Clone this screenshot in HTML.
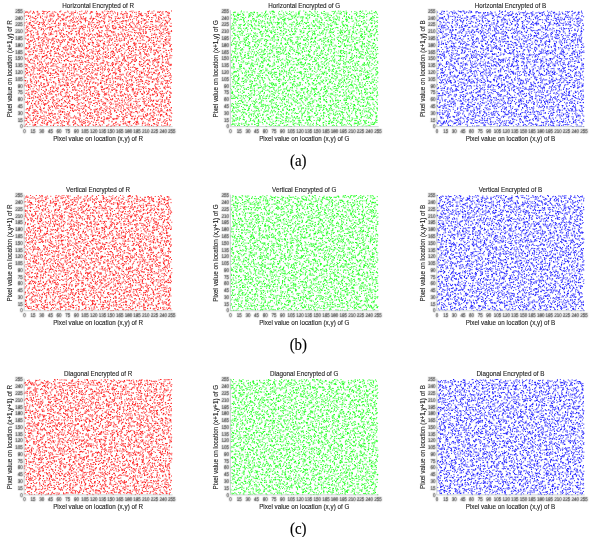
<!DOCTYPE html><html><head><meta charset="utf-8"><title>Encrypted image correlation scatter plots</title><style>html,body{margin:0;padding:0;background:#fff;width:602px;height:537px;overflow:hidden}svg{display:block}text{font-family:"Liberation Sans",Arial,Helvetica,sans-serif}</style></head><body><svg width="602" height="537" viewBox="0 0 602 537"><defs><path id="d0" d="M198 300h0M604 21h0M872 570h0M947 286h0M272 570h0M559 364h0M137 608h0M65 683h0M172 113h0M362 223h0M553 596h0M732 323h0M783 815h0M84 1h0M14 855h0M105 898h0M864 499h0M619 846h0M211 779h0M635 236h0M671 936h0M460 579h0M361 884h0M963 812h0M629 431h0M411 399h0M412 764h0M397 733h0M135 25h0M255 33h0M176 584h0M106 506h0M907 637h0M253 156h0M571 471h0M405 922h0M986 610h0M99 848h0M653 41h0M847 497h0M150 940h0M690 855h0M430 607h0M756 623h0M355 287h0M457 590h0M246 712h0M489 580h0M603 393h0M785 300h0M509 781h0M624 585h0M296 372h0M973 232h0M122 116h0M643 362h0M742 382h0M425 648h0M854 245h0M798 748h0M356 315h0M127 602h0M41 397h0M683 24h0M891 792h0M219 31h0M209 575h0M786 974h0M116 321h0M540 958h0M145 52h0M97 489h0M796 790h0M622 298h0M515 10h0M266 891h0M535 722h0M887 660h0M563 74h0M392 678h0M992 865h0M418 135h0M383 355h0M150 244h0M914 292h0M43 646h0M960 547h0M905 682h0M564 234h0M900 742h0M769 171h0M989 15h0M262 746h0M720 467h0M887 345h0M175 807h0M821 836h0M466 773h0M901 192h0M584 83h0M911 557h0M2 960h0M940 919h0M690 325h0M618 686h0M46 738h0M809 471h0M346 986h0M148 20h0M894 416h0M616 949h0M212 310h0M912 698h0M723 231h0M966 339h0M820 625h0M526 460h0M448 111h0M892 196h0M15 680h0M668 780h0M161 149h0M489 149h0M583 829h0M590 487h0M734 363h0M829 972h0M768 212h0M23 244h0M253 786h0M876 329h0M619 597h0M789 388h0M943 271h0M644 180h0M59 251h0M915 118h0M903 426h0M316 868h0M85 903h0M825 962h0M880 25h0M836 471h0M93 794h0M711 783h0M284 43h0M617 387h0M195 484h0M525 828h0M123 752h0M715 856h0M61 772h0M328 867h0M747 285h0M630 640h0M371 851h0M383 43h0M782 429h0M116 839h0M533 441h0M682 561h0M452 147h0M881 692h0M515 855h0M994 892h0M882 620h0M227 219h0M966 911h0M291 163h0M400 767h0M817 195h0M640 653h0M540 953h0M551 595h0M984 694h0M905 364h0M499 971h0M373 781h0M814 642h0M450 760h0M888 573h0M247 408h0M310 746h0M625 707h0M422 982h0M68 116h0M291 168h0M743 728h0M465 15h0M258 2h0M220 200h0M870 135h0M936 592h0M723 867h0M469 597h0M367 59h0M524 948h0M23 310h0M217 670h0M554 779h0M75 287h0M844 296h0M249 725h0M337 83h0M484 864h0M641 366h0M854 856h0M83 172h0M960 715h0M891 513h0M690 314h0M77 250h0M498 714h0M308 484h0M86 672h0M850 322h0M236 566h0M799 468h0M984 393h0M942 124h0M7 628h0M315 374h0M233 435h0M428 231h0M723 201h0M110 944h0M447 456h0M359 210h0M755 497h0M814 924h0M175 645h0M155 378h0M726 630h0M388 864h0M189 423h0M368 74h0M526 46h0M20 395h0M984 636h0M408 620h0M634 90h0M159 649h0M952 886h0M0 975h0M487 148h0M387 933h0M972 587h0M433 568h0M232 692h0M628 312h0M233 951h0M917 587h0M45 790h0M59 13h0M926 438h0M170 908h0M76 656h0M629 738h0M119 8h0M719 449h0M988 210h0M731 761h0M671 22h0M240 73h0M172 835h0M416 145h0M321 751h0M538 717h0M816 126h0M395 607h0M551 131h0M952 334h0M243 713h0M193 441h0M979 958h0M982 932h0M500 916h0M41 955h0M628 650h0M359 595h0M505 713h0M839 547h0M671 343h0M344 242h0M373 430h0M327 321h0M379 965h0M719 360h0M294 380h0M997 163h0M553 282h0M504 32h0M701 472h0M27 756h0M949 480h0M789 69h0M328 191h0M594 45h0M146 725h0M799 278h0M55 747h0M290 315h0M606 70h0M796 932h0M741 837h0M22 360h0M605 549h0M927 714h0M260 123h0M870 864h0M749 269h0M712 625h0M99 630h0M469 346h0M348 311h0M88 251h0M601 463h0M252 572h0M836 776h0M551 279h0M31 271h0M379 94h0M84 221h0M532 44h0M779 125h0M312 956h0M317 922h0M761 886h0M423 522h0M185 963h0M564 978h0M46 493h0M344 870h0M639 785h0M24 565h0M57 225h0M171 632h0M388 619h0M33 274h0M241 994h0M266 958h0M31 641h0M521 787h0M794 935h0M576 727h0M592 999h0M360 248h0M555 64h0M600 12h0M310 562h0M226 318h0M960 393h0M280 656h0M212 644h0M101 696h0M581 981h0M565 122h0M516 495h0M708 150h0M732 907h0M756 221h0M432 434h0M872 223h0M383 896h0M508 962h0M377 435h0M957 607h0M118 647h0M121 338h0M854 267h0M746 534h0M465 468h0M136 189h0M516 380h0M586 638h0M965 759h0M395 866h0M106 536h0M769 293h0M847 505h0M669 447h0M534 681h0M661 746h0M54 908h0M354 851h0M777 978h0M904 760h0M534 574h0M219 736h0M960 749h0M914 923h0M477 482h0M634 149h0M560 800h0M930 12h0M205 992h0M95 275h0M48 582h0M871 979h0M11 995h0M703 683h0M969 302h0M22 274h0M229 877h0M414 189h0M350 226h0M540 183h0M523 231h0M458 745h0M722 956h0M95 55h0M178 613h0M729 371h0M509 200h0M887 767h0M324 187h0M382 909h0M180 794h0M126 868h0M793 692h0M646 495h0M154 766h0M268 444h0M68 755h0M767 76h0M645 668h0M583 526h0M981 72h0M860 429h0M877 228h0M153 10h0M908 923h0M603 672h0M740 575h0M406 315h0M257 454h0M289 100h0M902 759h0M177 111h0M460 510h0M295 290h0M644 13h0M694 832h0M928 960h0M244 915h0M254 41h0M303 863h0M152 614h0M27 952h0M43 998h0M628 706h0M416 52h0M123 50h0M466 926h0M405 323h0M646 227h0M668 910h0M618 175h0M109 688h0M424 373h0M588 360h0M414 133h0M994 539h0M806 136h0M31 610h0M648 532h0M549 872h0M811 79h0M112 377h0M914 176h0M646 451h0M683 913h0M701 586h0M906 443h0M422 173h0M87 598h0M194 908h0M379 628h0M266 874h0M852 47h0M665 576h0M284 72h0M420 613h0M416 500h0M975 215h0M443 93h0M322 805h0M407 745h0M835 858h0M258 924h0M445 192h0M261 153h0M40 55h0M183 112h0M40 437h0M603 792h0M108 426h0M946 177h0M528 552h0M765 71h0M229 937h0M906 530h0M522 69h0M741 280h0M718 875h0M957 992h0M672 265h0M611 768h0M877 62h0M48 246h0M924 98h0M740 321h0M288 941h0M801 372h0M667 622h0M727 393h0M680 767h0M547 186h0M857 859h0M42 159h0M793 980h0M97 216h0M701 205h0M210 464h0M506 822h0M273 983h0M425 414h0M422 500h0M373 828h0M685 252h0M712 656h0M421 456h0M814 296h0M563 337h0M283 274h0M924 819h0M441 834h0M571 994h0M522 684h0M415 283h0M854 821h0M369 187h0M785 969h0M473 879h0M678 747h0M880 530h0M153 947h0M854 218h0M681 576h0M328 899h0M643 648h0M694 11h0M15 625h0M310 627h0M856 676h0M282 697h0M865 909h0M981 232h0M497 488h0M819 683h0M94 973h0M0 0h0M191 578h0M940 501h0M179 8h0M490 874h0M704 532h0M339 520h0M507 976h0M419 599h0M362 614h0M266 516h0M593 602h0M294 467h0M467 225h0M13 682h0M493 691h0M758 760h0M817 558h0M314 75h0M5 764h0M730 362h0M899 574h0M466 862h0M330 439h0M985 714h0M377 909h0M513 968h0M952 230h0M737 299h0M650 404h0M76 259h0M212 864h0M628 497h0M585 297h0M182 861h0M533 981h0M261 608h0M739 611h0M232 741h0M135 66h0M830 184h0M897 332h0M262 935h0M218 264h0M15 719h0M100 324h0M513 906h0M228 700h0M339 235h0M776 324h0M891 875h0M812 864h0M552 956h0M11 19h0M781 447h0M768 739h0M961 295h0M749 562h0M335 613h0M330 978h0M453 85h0M787 181h0M819 217h0M925 211h0M914 809h0M494 529h0M775 348h0M497 901h0M871 276h0M452 264h0M178 858h0M542 719h0M940 676h0M142 277h0M122 997h0M369 804h0M989 691h0M846 568h0M12 313h0M181 32h0M623 548h0M34 896h0M661 891h0M620 545h0M444 666h0M616 497h0M746 813h0M804 836h0M8 583h0M980 797h0M697 964h0M207 491h0M920 682h0M616 257h0M234 284h0M262 851h0M358 273h0M728 119h0M23 673h0M33 728h0M946 944h0M37 555h0M526 497h0M829 377h0M778 542h0M295 622h0M131 887h0M760 128h0M641 748h0M243 621h0M560 410h0M518 548h0M571 955h0M590 108h0M868 280h0M360 603h0M622 217h0M909 456h0M358 446h0M667 872h0M474 771h0M269 39h0M567 66h0M733 175h0M414 36h0M105 416h0M933 607h0M705 799h0M647 202h0M876 172h0M807 87h0M440 785h0M141 288h0M642 884h0M330 135h0M701 522h0M66 546h0M993 663h0M299 356h0M574 949h0M851 323h0M137 483h0M448 796h0M884 576h0M195 763h0M519 400h0M840 179h0M700 306h0M933 975h0M908 101h0M821 663h0M992 406h0M389 569h0M106 486h0M395 721h0M579 450h0M12 51h0M920 967h0M572 222h0M273 794h0M104 483h0M948 339h0M2 594h0M663 239h0M440 710h0M229 27h0M71 735h0M533 470h0M107 536h0M370 815h0M400 130h0M350 901h0M996 56h0M550 513h0M363 351h0M957 578h0M644 933h0M85 655h0M140 777h0M970 31h0M248 105h0M874 273h0M103 77h0M214 153h0M941 972h0M310 168h0M829 614h0M535 635h0M116 850h0M560 551h0M283 669h0M474 532h0M655 742h0M696 228h0M935 304h0M840 154h0M8 447h0M50 483h0M848 390h0M196 950h0M503 507h0M978 483h0M186 340h0M240 811h0M851 664h0M384 772h0M932 272h0M881 724h0M206 763h0M494 245h0M586 921h0M330 649h0M280 538h0M167 383h0M553 830h0M36 692h0M228 338h0M150 795h0M8 397h0M654 816h0M31 555h0M238 664h0M377 551h0M309 977h0M904 8h0M799 133h0M215 277h0M135 738h0M309 219h0M905 219h0M89 87h0M907 35h0M300 102h0M332 364h0M192 764h0M446 896h0M129 605h0M111 136h0M835 503h0M741 534h0M347 492h0M30 957h0M52 517h0M610 991h0M675 69h0M533 444h0M276 870h0M673 971h0M430 7h0M831 649h0M410 26h0M90 996h0M826 857h0M403 203h0M828 572h0M867 389h0M188 684h0M832 196h0M956 916h0M602 873h0M293 721h0M823 628h0M333 12h0M406 430h0M692 77h0M612 817h0M399 596h0M302 726h0M713 768h0M890 972h0M55 222h0M278 216h0M544 498h0M126 802h0M940 713h0M177 660h0M445 933h0M836 578h0M984 299h0M852 274h0M635 882h0M544 803h0M512 658h0M2 423h0M391 247h0M684 573h0M624 66h0M414 915h0M430 608h0M747 481h0M516 373h0M265 800h0M860 224h0M151 539h0M872 845h0M282 384h0M564 796h0M93 576h0M939 796h0M878 463h0M251 828h0M552 168h0M422 79h0M428 69h0M539 86h0M759 397h0M453 946h0M799 12h0M103 352h0M501 101h0M755 829h0M195 343h0M340 325h0M713 884h0M736 749h0M607 271h0M515 737h0M919 429h0M382 481h0M557 433h0M215 876h0M510 278h0M713 949h0M32 152h0M691 904h0M798 251h0M800 696h0M177 441h0M116 355h0M705 38h0M509 81h0M706 510h0M211 632h0M280 851h0M416 983h0M32 685h0M234 411h0M510 698h0M293 773h0M755 239h0M736 998h0M558 275h0M771 384h0M880 177h0M67 563h0M287 109h0M313 139h0M149 708h0M35 622h0M901 282h0M718 691h0M208 342h0M316 911h0M539 47h0M236 123h0M571 305h0M194 200h0M834 440h0M867 835h0M498 298h0M672 585h0M479 854h0M774 404h0M755 711h0M154 956h0M138 299h0M298 2h0M491 897h0M987 251h0M40 740h0M723 358h0M111 365h0M892 364h0M791 971h0M84 761h0M592 230h0M806 490h0M450 143h0M76 952h0M696 79h0M639 521h0M947 54h0M496 953h0M669 703h0M698 123h0M163 460h0M805 860h0M939 992h0M758 971h0M542 62h0M598 853h0M772 315h0M865 451h0M195 488h0M960 398h0M677 593h0M397 551h0M595 427h0M921 879h0M848 687h0M32 470h0M914 609h0M852 253h0M315 560h0M90 46h0M95 698h0M58 654h0M76 589h0M703 613h0M884 307h0M71 502h0M90 318h0M323 388h0M308 90h0M123 698h0M499 750h0M191 110h0M359 149h0M841 627h0M899 559h0M283 374h0M583 459h0M425 374h0M146 995h0M269 149h0M996 289h0M546 246h0M343 770h0M626 770h0M449 301h0M134 765h0M492 376h0M913 189h0M795 65h0M29 35h0M929 281h0M811 196h0M33 243h0M561 597h0M273 105h0M627 194h0M544 733h0M2 952h0M937 524h0M348 83h0M139 120h0M326 141h0M11 121h0M252 199h0M177 336h0M549 198h0M813 164h0M384 469h0M601 821h0M714 22h0M966 730h0M190 172h0M690 885h0M667 320h0M597 486h0M436 757h0M406 241h0M846 617h0M362 166h0M884 807h0M752 593h0M306 948h0M830 624h0M337 948h0M539 320h0M654 418h0M299 508h0M967 51h0M361 527h0M713 44h0M911 582h0M179 521h0M560 835h0M158 517h0M337 52h0M80 97h0M635 592h0M930 218h0M228 825h0M223 459h0M110 940h0M906 131h0M747 705h0M808 594h0M121 473h0M845 13h0M464 631h0M626 752h0M407 932h0M384 175h0M426 409h0M943 264h0M179 402h0M777 160h0M764 277h0M613 221h0M584 188h0M676 748h0M840 479h0M719 963h0M403 880h0M985 251h0M732 153h0M624 676h0M205 563h0M384 942h0M560 767h0M671 135h0M300 46h0M781 690h0M405 115h0M819 565h0M3 898h0M904 378h0M964 624h0M49 305h0M151 590h0M91 818h0M157 692h0M177 321h0M244 948h0M555 404h0M206 424h0M852 558h0M257 301h0M149 484h0M918 903h0M460 552h0M813 590h0M710 137h0M165 115h0M288 66h0M333 130h0M271 43h0M956 720h0M707 2h0M405 816h0M414 225h0M894 301h0M642 205h0M827 91h0M528 417h0M696 97h0M46 827h0M23 197h0M954 850h0M741 193h0M758 213h0M262 497h0M191 846h0M870 559h0M59 95h0M572 413h0M68 982h0M228 931h0M285 821h0M720 968h0M834 661h0M300 622h0M521 375h0M224 302h0M613 916h0M749 951h0M645 104h0M362 686h0M438 887h0M496 644h0M128 285h0M453 643h0M496 801h0M971 13h0M791 404h0M593 39h0M64 593h0M369 515h0M775 434h0M625 123h0M317 538h0M757 664h0M326 366h0M615 137h0M977 804h0M627 292h0M358 74h0M336 602h0M636 839h0M258 2h0M684 206h0M452 801h0M90 545h0M62 639h0M813 662h0M546 329h0M555 333h0M448 276h0M586 233h0M592 961h0M777 661h0M429 695h0M221 432h0M229 451h0M926 196h0M948 598h0M230 631h0M721 98h0M166 308h0M128 424h0M714 886h0M23 85h0M814 446h0M81 377h0M134 198h0M659 656h0M871 216h0M895 655h0M133 909h0M373 572h0M749 721h0M11 782h0M689 247h0M97 723h0M25 112h0M960 556h0M560 816h0M406 39h0M96 765h0M800 29h0M650 863h0M199 379h0M16 289h0M50 673h0M812 221h0M381 413h0M890 369h0M806 233h0M457 342h0M44 406h0M486 545h0M684 570h0M135 829h0M619 363h0M857 117h0M682 279h0M523 321h0M653 290h0M342 343h0M19 575h0M130 507h0M950 28h0M668 914h0M113 237h0M792 141h0M138 575h0M842 925h0M831 428h0M951 489h0M709 367h0M876 728h0M82 326h0M67 343h0M827 730h0M192 253h0M265 325h0M542 890h0M30 136h0M812 296h0M619 417h0M559 851h0M669 912h0M987 779h0M86 795h0M519 103h0M808 544h0M880 635h0M166 99h0M180 455h0M676 30h0M846 323h0M666 966h0M749 1h0M48 387h0M470 899h0M399 636h0M487 608h0M21 486h0M450 424h0M667 339h0M165 697h0M937 213h0M544 968h0M904 542h0M425 625h0M335 48h0M675 583h0M765 945h0M382 505h0M466 382h0M940 556h0M72 934h0M328 136h0M93 802h0M686 109h0M664 970h0M16 56h0M531 607h0M787 807h0M109 953h0M407 246h0M956 846h0M636 797h0M289 656h0M761 199h0M650 356h0M606 703h0M808 306h0M403 296h0M232 398h0M791 853h0M91 94h0M667 841h0M444 206h0M284 539h0M765 483h0M982 980h0M62 95h0M493 484h0M149 320h0M132 745h0M761 355h0M4 539h0M1 876h0M584 210h0M360 353h0M144 225h0M301 850h0M802 147h0M947 646h0M56 33h0M860 229h0M768 503h0M119 69h0M934 877h0M839 737h0M851 232h0M455 533h0M169 588h0M507 742h0M221 180h0M724 786h0M658 801h0M166 757h0M352 403h0M824 922h0M876 59h0M863 470h0M543 300h0M509 670h0M791 805h0M69 11h0M62 711h0M670 776h0M972 94h0M573 115h0M345 872h0M143 501h0M524 914h0M242 837h0M597 604h0M505 263h0M780 562h0M234 851h0M784 627h0M617 982h0M974 724h0M840 287h0M644 763h0M361 732h0M509 811h0M180 856h0M440 905h0M598 356h0M696 812h0M359 14h0M981 136h0M657 979h0M659 554h0M967 625h0M549 792h0M557 1h0M897 713h0M191 207h0M963 994h0M171 860h0M280 615h0M642 857h0M524 122h0M223 726h0M704 788h0M848 759h0M300 248h0M571 779h0M279 263h0M343 634h0M972 846h0M220 59h0M105 176h0M673 864h0M272 8h0M193 990h0M76 952h0M123 29h0M485 423h0M426 100h0M739 717h0M78 430h0M306 543h0M261 621h0M863 10h0M652 852h0M829 254h0M783 719h0M461 726h0M664 271h0M889 161h0M681 86h0M690 983h0M162 677h0M589 81h0M518 47h0M612 575h0M630 362h0M329 939h0M479 175h0M116 558h0M129 209h0M130 818h0M194 752h0M20 0h0M283 439h0M982 915h0M575 941h0M441 176h0M148 672h0M809 526h0M64 874h0M927 626h0M834 287h0M468 517h0M560 74h0M180 454h0M574 786h0M878 999h0M21 748h0M79 811h0M91 764h0M556 239h0M612 131h0M708 109h0M286 497h0M952 123h0M179 60h0M742 120h0M273 777h0M929 804h0M935 557h0M81 611h0M92 256h0M21 838h0M455 866h0M209 162h0M850 524h0M111 436h0M762 15h0M333 455h0M346 0h0M32 704h0M591 744h0M250 269h0M669 103h0M117 33h0M272 70h0M126 496h0M56 625h0M530 488h0M376 303h0M445 976h0M907 24h0M289 422h0M171 293h0M489 807h0M806 930h0M106 650h0M781 785h0M563 549h0M573 73h0M62 995h0M102 455h0M117 745h0M306 810h0M217 780h0M583 588h0M26 514h0M489 924h0M926 786h0M848 177h0M102 59h0M899 217h0M592 812h0M843 179h0M435 780h0M145 192h0M723 122h0M247 103h0M623 38h0M614 465h0M193 458h0M229 970h0M292 360h0M596 870h0M461 917h0M483 377h0M500 617h0M762 36h0M678 229h0M48 202h0M672 159h0M954 919h0M218 919h0M27 281h0M900 12h0M551 203h0M313 823h0M110 225h0M891 457h0M12 145h0M903 837h0M934 234h0M947 7h0M463 261h0M985 806h0M836 606h0M380 692h0M413 513h0M795 905h0M65 505h0M376 153h0M887 967h0M660 119h0M228 957h0M309 895h0M570 640h0M359 934h0M20 462h0M577 252h0M728 399h0M835 369h0M842 363h0M550 640h0M651 490h0M406 771h0M571 349h0M596 438h0M598 723h0M997 828h0M562 679h0M63 789h0M24 751h0M737 89h0M624 343h0M79 702h0M264 680h0M963 605h0M465 482h0M273 256h0M808 327h0M293 322h0M201 70h0M657 298h0M297 112h0M154 846h0M308 11h0M587 780h0M541 389h0M847 17h0M283 209h0M328 915h0M121 601h0M825 875h0M608 26h0M579 91h0M524 350h0M907 904h0M246 282h0M335 317h0M32 652h0M709 821h0M765 501h0M734 242h0M417 555h0M108 256h0M105 666h0M873 321h0M841 958h0M508 911h0M446 344h0M842 243h0M427 96h0M882 303h0M11 490h0M257 651h0M630 67h0M648 475h0M967 900h0M819 716h0M241 991h0M402 155h0M826 92h0M187 931h0M126 720h0M502 876h0M72 892h0M984 592h0M695 943h0M21 39h0M61 66h0M267 205h0M491 309h0M294 419h0M45 350h0M82 375h0M375 271h0M146 323h0M389 868h0M785 772h0M477 342h0M310 535h0M423 674h0M571 526h0M89 543h0M638 937h0M693 916h0M970 146h0M382 587h0M454 955h0M820 691h0M754 261h0M427 827h0M704 337h0M171 995h0M232 627h0M261 324h0M253 830h0M794 962h0M287 637h0M716 106h0M703 260h0M879 526h0M636 505h0M247 133h0M604 538h0M819 920h0M184 741h0M61 122h0M738 652h0M255 193h0M959 6h0M329 159h0M21 818h0M700 795h0M583 702h0M747 33h0M877 867h0M30 292h0M139 510h0M755 215h0M479 691h0M775 959h0M800 676h0M678 762h0M934 609h0M652 940h0M285 796h0M398 355h0M985 273h0M493 980h0M670 57h0M788 964h0M384 643h0M170 441h0M782 644h0M751 639h0M614 848h0M185 556h0M221 161h0M918 805h0M566 868h0M269 129h0M175 166h0M572 588h0M179 47h0M175 548h0M978 782h0M346 396h0M320 487h0M674 672h0M964 113h0M181 36h0M625 71h0M348 576h0M206 225h0M17 537h0M5 71h0M235 394h0M504 656h0M391 18h0M913 653h0M71 72h0M411 856h0M737 331h0M762 855h0M686 496h0M443 311h0M339 537h0M861 671h0M165 808h0M819 30h0M585 105h0M839 449h0M898 167h0M437 216h0M804 823h0M497 356h0M491 969h0M731 84h0M674 955h0M617 387h0M506 260h0M929 187h0M383 395h0M796 957h0M824 854h0M936 527h0M155 516h0M404 90h0M873 122h0M983 4h0M307 116h0M588 942h0M967 619h0M915 464h0M863 925h0M622 786h0M918 774h0M414 394h0M464 929h0M166 51h0M994 161h0M944 525h0M324 418h0M961 658h0M339 908h0M906 486h0M413 454h0M22 860h0M455 662h0M612 283h0M329 990h0M762 775h0M701 39h0M521 523h0M303 497h0M572 702h0M3 53h0M577 495h0M298 404h0M970 199h0M400 236h0M304 753h0M77 397h0M751 167h0M232 451h0M520 743h0M202 819h0M488 419h0M555 289h0M162 223h0M479 628h0M648 904h0M707 495h0M991 256h0M441 852h0M494 773h0M496 853h0M885 68h0M193 745h0M469 199h0M772 660h0M581 415h0M732 984h0M812 339h0M445 26h0M423 312h0M744 703h0M927 758h0M826 184h0M96 753h0M930 103h0M841 537h0M160 373h0M0 267h0M45 668h0M838 994h0M653 343h0M637 355h0M294 571h0M966 70h0M597 653h0M956 182h0M491 540h0M762 327h0M62 641h0M182 285h0M42 579h0M808 501h0M583 995h0M870 941h0M57 453h0M634 373h0M60 940h0M742 893h0M482 4h0M929 172h0M830 776h0M927 274h0M847 999h0M237 391h0M299 567h0M911 392h0M935 900h0M761 920h0M954 28h0M509 14h0M154 600h0M42 774h0M552 648h0M334 189h0M615 480h0M347 999h0M962 48h0M636 353h0M226 515h0M667 274h0M59 874h0M845 2h0M373 824h0M68 141h0M148 257h0M327 832h0M14 69h0M613 628h0M393 772h0M883 580h0M376 609h0M568 442h0M91 499h0M394 7h0M838 427h0M686 832h0M767 125h0M25 795h0M791 478h0M995 709h0M386 900h0M978 944h0M775 85h0M321 506h0M334 539h0M465 588h0M613 273h0M796 59h0M160 721h0M707 496h0M90 127h0M330 462h0M933 143h0M884 564h0M628 186h0M434 112h0M113 835h0M877 107h0M663 208h0M707 533h0M705 721h0M395 669h0M802 389h0M970 890h0M391 607h0M907 315h0M627 949h0M577 860h0M270 314h0M918 185h0M161 357h0M672 176h0M598 233h0M185 124h0M157 21h0M25 784h0M906 52h0M266 537h0M404 60h0M115 897h0M335 508h0M10 620h0M103 974h0M275 219h0M626 93h0M945 443h0M632 964h0M486 332h0M73 15h0M622 858h0M402 44h0M755 667h0M406 340h0M596 312h0M313 405h0M196 914h0M122 932h0M181 613h0M321 748h0M252 233h0M234 828h0M875 769h0M960 435h0M320 824h0M432 535h0M706 691h0M633 270h0M754 687h0M225 34h0M389 54h0M129 840h0M140 872h0M842 675h0M898 1h0M461 114h0M803 783h0M935 371h0M48 875h0M424 530h0M722 899h0M200 964h0M755 696h0M489 17h0M509 790h0M323 190h0M542 443h0M121 794h0M161 747h0M477 251h0M705 149h0M728 563h0M688 25h0M434 881h0M119 667h0M678 806h0M299 729h0M513 540h0M430 114h0M21 155h0M769 485h0M747 510h0M662 800h0M566 834h0M852 470h0M720 512h0M953 802h0M200 524h0M614 868h0M208 205h0M51 282h0M658 907h0M609 614h0M39 894h0M387 678h0M706 675h0M187 521h0M595 757h0M101 608h0M634 22h0M346 576h0M587 749h0M83 385h0M850 859h0M439 552h0M148 270h0M757 617h0M985 56h0M867 81h0M626 176h0M210 827h0M804 771h0M855 142h0M260 478h0M365 827h0M791 321h0M197 187h0M757 719h0M953 431h0M172 881h0M896 939h0M36 157h0M499 530h0M859 92h0M754 299h0M174 972h0M409 344h0M686 249h0M518 622h0M909 948h0M438 165h0M161 743h0M746 468h0M340 92h0M375 840h0M613 322h0M209 376h0M128 892h0M797 460h0M844 310h0M999 113h0M242 696h0M427 294h0M971 839h0M493 800h0M739 673h0M720 108h0M679 696h0M504 118h0M30 342h0M599 869h0M900 389h0M77 188h0M138 347h0M620 537h0M364 256h0M94 114h0M893 335h0M355 453h0M174 279h0M485 665h0M133 564h0M173 752h0M657 855h0M528 14h0M546 792h0M414 923h0M393 537h0M623 121h0M269 172h0M742 851h0M985 419h0M389 417h0M933 812h0M596 992h0M665 618h0M835 143h0M159 855h0M179 422h0M819 8h0M871 387h0M700 398h0M431 721h0M65 305h0M568 846h0M601 370h0M25 650h0M967 164h0M959 107h0M155 461h0M892 836h0M907 523h0M359 743h0M915 986h0M352 271h0M761 471h0M641 512h0M774 799h0M757 284h0M118 769h0M782 176h0M181 42h0M516 734h0M149 118h0M265 601h0M403 161h0M395 412h0M611 618h0M192 711h0M666 790h0M152 401h0M132 191h0M700 383h0M939 553h0M137 369h0M463 826h0M267 672h0M108 13h0M417 372h0M353 753h0M208 86h0M958 372h0M549 145h0M42 453h0M186 685h0M26 206h0M400 656h0M417 941h0M878 469h0M988 533h0M778 973h0M723 635h0M959 752h0M963 114h0M122 955h0M566 11h0M319 693h0M574 327h0M105 151h0M262 422h0M484 34h0M386 648h0M301 599h0M705 249h0M36 259h0M332 75h0M532 935h0M373 972h0M322 420h0M29 338h0M337 701h0M444 120h0M176 145h0M281 987h0M407 789h0M423 491h0M441 371h0M17 961h0M701 600h0M40 900h0M954 750h0M785 525h0M211 910h0M797 388h0M467 936h0M382 950h0M341 671h0M151 703h0M574 920h0M855 907h0M637 484h0M291 587h0M865 189h0M269 883h0M147 197h0M228 239h0M243 892h0M566 1h0M311 679h0M926 155h0M751 587h0M383 480h0M375 519h0M478 883h0M759 931h0M283 99h0M475 201h0M930 415h0M725 650h0M372 115h0M402 857h0M257 478h0M617 193h0M231 414h0M813 500h0M194 533h0M800 28h0M150 405h0M15 498h0M273 886h0M484 950h0M857 757h0M62 727h0M608 418h0M288 236h0M396 747h0M686 38h0M254 726h0M902 268h0M806 107h0M455 438h0M504 273h0M617 922h0M139 303h0M304 521h0M435 204h0M291 948h0M71 283h0M716 994h0M545 603h0M283 685h0M192 313h0M13 460h0M155 19h0M933 133h0M684 916h0M928 933h0M971 519h0M537 134h0M183 802h0M74 13h0M299 776h0M593 647h0M161 474h0M306 847h0M726 674h0M632 984h0M503 241h0M201 104h0M114 277h0M140 479h0M213 572h0M207 28h0M675 601h0M753 808h0M357 568h0M483 243h0M878 795h0M461 493h0M500 649h0M399 604h0M575 155h0M380 702h0M761 21h0M472 144h0M436 407h0M936 469h0M250 588h0M53 855h0M183 567h0M838 992h0M131 449h0M557 380h0M836 101h0M318 990h0M941 88h0M857 654h0M896 654h0M144 780h0M31 149h0M274 80h0M847 575h0M71 199h0M858 413h0M868 195h0M345 846h0M260 973h0M259 410h0M227 8h0M65 512h0M939 841h0M663 402h0M21 788h0M339 176h0M784 741h0M799 519h0M306 340h0M342 140h0M445 283h0M297 672h0M589 650h0M318 925h0M298 697h0M161 648h0M67 129h0M562 235h0M721 429h0M736 328h0M159 547h0M65 689h0M470 651h0M693 338h0M89 611h0M377 929h0M802 959h0M769 40h0M107 764h0M386 438h0M619 67h0M837 951h0M410 516h0M910 736h0M163 182h0M690 659h0M881 299h0M192 716h0M219 201h0M36 935h0M843 745h0M711 692h0M846 369h0M661 192h0M146 57h0M691 714h0M471 384h0M109 91h0M262 361h0M164 77h0M257 390h0M126 87h0M874 549h0M0 397h0M756 44h0M404 498h0M351 657h0M897 665h0M759 262h0M293 869h0M428 117h0M331 965h0M334 17h0M312 164h0M794 463h0M448 983h0M899 517h0M376 649h0M792 841h0M190 839h0M97 776h0M899 494h0M565 66h0M400 951h0M187 954h0M556 139h0M93 193h0M351 413h0M334 345h0M775 991h0M318 684h0M299 505h0M282 932h0M161 733h0M773 898h0M543 288h0M225 37h0M575 362h0M459 848h0M228 156h0M247 999h0M567 291h0M78 127h0M830 906h0M894 910h0M177 931h0M705 638h0M102 900h0M165 500h0M669 44h0M561 221h0M373 795h0M719 490h0M581 763h0M928 493h0M227 966h0M590 194h0M178 611h0M114 647h0M808 666h0M57 505h0M821 522h0M942 644h0M808 805h0M576 451h0M874 569h0M178 299h0M682 642h0M730 437h0M557 970h0M104 265h0M463 344h0M149 531h0M693 444h0M966 559h0M76 922h0M336 899h0M263 967h0M301 99h0M565 534h0M777 92h0M867 721h0M180 812h0M44 446h0M324 565h0M206 112h0M145 435h0M196 693h0M965 246h0M460 731h0M542 898h0M650 673h0M228 489h0M882 21h0M407 456h0M204 173h0M496 631h0M501 223h0M716 43h0M293 129h0M864 501h0M475 134h0M843 768h0M34 215h0M59 326h0M505 701h0M930 137h0M615 685h0M36 508h0M972 576h0M180 305h0M979 536h0M889 919h0M257 127h0M820 381h0M760 33h0M441 474h0M539 28h0M697 157h0M91 485h0M745 58h0M646 561h0M581 784h0M858 885h0M221 451h0M201 386h0M605 816h0M537 417h0M427 997h0M87 113h0M280 605h0M970 397h0M392 472h0M647 509h0M499 363h0M644 746h0M524 215h0M76 714h0M273 747h0M393 929h0M434 501h0M287 338h0M641 87h0M366 660h0M351 67h0M706 234h0M950 400h0M170 157h0M715 241h0M561 729h0M275 478h0M5 6h0M541 761h0M900 774h0M110 705h0M211 108h0M925 511h0M880 706h0M861 664h0M691 454h0M209 862h0M657 444h0M184 655h0M920 330h0M177 855h0M655 262h0M416 255h0M770 616h0M363 268h0M937 473h0M665 221h0M952 702h0M309 916h0M689 327h0M584 678h0M607 842h0M26 677h0M203 676h0M892 710h0M810 213h0M717 270h0M896 289h0M42 620h0M960 186h0M977 657h0M55 979h0M958 457h0M961 911h0M604 60h0M276 516h0M306 228h0M262 924h0M896 480h0M325 242h0M278 481h0M52 292h0M493 191h0M240 228h0M661 608h0M661 359h0M950 211h0M36 338h0M368 672h0M602 649h0M118 508h0M643 10h0M426 572h0M963 238h0M765 57h0M689 975h0M861 314h0M319 670h0M984 93h0M995 868h0M58 113h0M535 715h0M28 357h0M269 570h0M219 237h0M249 304h0M801 152h0M869 539h0M586 165h0M694 537h0M272 356h0M888 197h0M214 539h0M156 35h0M632 974h0M658 619h0M908 408h0M503 56h0M653 974h0M395 666h0M789 667h0M561 697h0M491 741h0M527 827h0M459 69h0M590 822h0M671 392h0M377 232h0M538 909h0M293 263h0M289 365h0M533 213h0M827 177h0M507 80h0M104 557h0M9 501h0M975 338h0M694 358h0M302 870h0M655 364h0M707 184h0M961 638h0M923 657h0M866 381h0M988 932h0M150 419h0M516 469h0M698 946h0M48 795h0M348 541h0M263 921h0M329 37h0M437 333h0M399 938h0M843 49h0M721 167h0M369 810h0M196 81h0M781 473h0M444 880h0M27 828h0M585 349h0M448 753h0M763 455h0M936 252h0M1 236h0M22 990h0M492 453h0M749 565h0M153 27h0M9 809h0M414 906h0M1 352h0M34 243h0M759 501h0M777 901h0M531 990h0M952 226h0M730 856h0M848 942h0M824 805h0M640 167h0M598 242h0M747 425h0M87 964h0M765 36h0M534 297h0M863 743h0M527 338h0M88 809h0M594 313h0M168 791h0M163 488h0M369 352h0M440 793h0M540 325h0M519 343h0M862 942h0M494 599h0M123 977h0M805 915h0M559 562h0M34 692h0M33 895h0M305 869h0M826 695h0M14 869h0M787 869h0M435 573h0M272 224h0M304 264h0M676 608h0M465 423h0M63 851h0M489 271h0M156 986h0M583 123h0M441 493h0M754 602h0M671 73h0M216 750h0M74 427h0M193 139h0M199 722h0M233 401h0M571 908h0M229 857h0M813 206h0M650 131h0M995 82h0M937 601h0M166 177h0M953 752h0M90 29h0M719 193h0M678 365h0M893 227h0M895 408h0M594 897h0M232 481h0M246 6h0M555 387h0M45 546h0M889 774h0M293 998h0M878 462h0M831 60h0M657 162h0M623 315h0M734 685h0M459 427h0M743 935h0M332 849h0M74 609h0M759 578h0M691 958h0M844 463h0M123 537h0M199 221h0M588 5h0M282 894h0M135 900h0M30 101h0M614 737h0M955 40h0M313 159h0M815 628h0M480 149h0M85 38h0M905 453h0M404 838h0M580 945h0M531 191h0M722 3h0M852 175h0M30 848h0M491 443h0M724 997h0M293 198h0M295 83h0M71 451h0M11 354h0M703 269h0M752 861h0M14 926h0M677 144h0M887 640h0M787 639h0M11 587h0M428 659h0M989 446h0M951 884h0M300 814h0M523 810h0M71 599h0M217 778h0M477 566h0M505 370h0M530 513h0M129 631h0M271 737h0M526 338h0M282 398h0M379 417h0M7 395h0M405 633h0M485 451h0M70 199h0M680 800h0M302 599h0M847 67h0M331 613h0M271 353h0M730 66h0M468 934h0M455 470h0M851 426h0M704 304h0M345 670h0M636 193h0M820 181h0M977 194h0M519 229h0M896 852h0M810 714h0M239 947h0M122 599h0M157 287h0M808 836h0M37 93h0M767 282h0M51 276h0M703 434h0M56 574h0M532 319h0M574 49h0M317 758h0M200 666h0M888 515h0M631 221h0M436 718h0M336 387h0M451 403h0M856 147h0M617 853h0M532 500h0M167 215h0M782 452h0M375 753h0M389 311h0M51 47h0M44 878h0M793 462h0M880 959h0M970 136h0M494 117h0M327 605h0M731 309h0M425 916h0M786 762h0M965 490h0M11 374h0M481 625h0M823 854h0M748 576h0M573 318h0M84 385h0M437 44h0M240 620h0M338 745h0M374 261h0M600 907h0M224 657h0M377 3h0M186 691h0M788 435h0M946 339h0M594 336h0M584 383h0M829 947h0M541 566h0M909 556h0M247 501h0M201 608h0M721 183h0M485 292h0M916 612h0M835 98h0M337 248h0M960 660h0M162 912h0M97 964h0M28 80h0M636 803h0M778 318h0M891 482h0M433 615h0M864 191h0M342 379h0M190 168h0M668 105h0M340 647h0M441 366h0M442 320h0M194 53h0M194 975h0M523 317h0M921 941h0M926 258h0M73 740h0M73 523h0M558 330h0M139 227h0M663 681h0M770 185h0M64 264h0M971 458h0M542 74h0M687 994h0M925 798h0M727 863h0M516 971h0M903 580h0M516 449h0M865 991h0M282 76h0M783 556h0M420 308h0M944 700h0M277 289h0M777 343h0M73 146h0M257 123h0M489 51h0M863 787h0M306 469h0M119 523h0M276 261h0M213 475h0M176 333h0M292 709h0M821 892h0M586 109h0M173 959h0M224 974h0M960 375h0M652 692h0M186 892h0M61 815h0M467 287h0M975 436h0M597 412h0M109 166h0M533 547h0M896 99h0M128 348h0M778 388h0M370 155h0M348 322h0M336 883h0M795 284h0M50 392h0M591 264h0M939 387h0M622 563h0M739 25h0M75 35h0M823 395h0M339 565h0M423 223h0M629 341h0M124 425h0M500 82h0M652 323h0M383 483h0M655 130h0M145 843h0M556 71h0M477 76h0M965 780h0M50 741h0M143 800h0M181 500h0M922 100h0M875 724h0M720 187h0M16 344h0M422 420h0M482 791h0M852 110h0M795 537h0M289 511h0M249 177h0M235 214h0M992 423h0M113 469h0M876 960h0M318 799h0M77 61h0M541 153h0M840 991h0M241 807h0M474 795h0M245 348h0M118 678h0M313 759h0M242 799h0M443 88h0M144 920h0M356 479h0M609 4h0M338 636h0M944 701h0M155 95h0M925 519h0M797 130h0M442 234h0M966 254h0M770 29h0M822 819h0M278 752h0M844 840h0M906 990h0M990 928h0M502 501h0M161 37h0M939 2h0M245 775h0M421 359h0M272 571h0M9 521h0M28 320h0M697 317h0M690 413h0M822 806h0M407 668h0M958 436h0M77 303h0M467 673h0M79 179h0M341 436h0M67 194h0M988 89h0M469 838h0M91 909h0M419 334h0M333 685h0M234 39h0M702 306h0M742 155h0M546 940h0M830 277h0M574 828h0M702 727h0M993 594h0M146 615h0M445 587h0M29 981h0M844 573h0M360 416h0M202 300h0M850 108h0M660 87h0M534 255h0M325 153h0M167 283h0M130 924h0M498 583h0M485 104h0M65 851h0M184 824h0M977 558h0M840 712h0M730 421h0M992 288h0M123 883h0M390 299h0M240 81h0M475 273h0M847 464h0M335 515h0M980 818h0M477 127h0M967 100h0M615 213h0M546 431h0M355 676h0M719 924h0M0 435h0M240 180h0M743 217h0M797 581h0M915 777h0M140 805h0M256 16h0M448 241h0M595 263h0M341 181h0M415 182h0M178 460h0M41 819h0M805 346h0M728 560h0M79 649h0M373 136h0M993 50h0M10 286h0M860 421h0M127 66h0M244 475h0M416 921h0M477 934h0M80 933h0M880 279h0M334 732h0M380 743h0M646 562h0M177 724h0M665 854h0M578 171h0M732 431h0M728 128h0M341 23h0M399 495h0M413 223h0M747 296h0M665 370h0M583 0h0M297 21h0M908 228h0M884 114h0M87 457h0M941 486h0M611 465h0M346 709h0M156 263h0M556 399h0M824 444h0M189 97h0M713 657h0M20 524h0M534 200h0M90 942h0M754 507h0M286 291h0M926 867h0M745 880h0M537 667h0M875 149h0M892 258h0M462 527h0M691 385h0M581 400h0M320 355h0M775 956h0M127 519h0M463 652h0M864 312h0M960 170h0M179 800h0M610 65h0M388 770h0M679 428h0M277 175h0M294 732h0M322 159h0M392 122h0M383 605h0M965 504h0M52 374h0M879 94h0M591 1h0M230 185h0M321 443h0M636 714h0M359 295h0M788 142h0M826 779h0M928 890h0M78 838h0M136 880h0M307 748h0M983 184h0M85 592h0M189 842h0M559 175h0M187 979h0M649 434h0M410 562h0M648 420h0M545 999h0M999 666h0M666 893h0M478 447h0M880 577h0M441 383h0M447 930h0M780 596h0M500 288h0M94 699h0M893 19h0M15 21h0M612 6h0M714 347h0M842 386h0M2 894h0M398 493h0M926 151h0M56 305h0M399 282h0M690 762h0M356 910h0M768 116h0M912 990h0M242 727h0M682 506h0M595 547h0M925 100h0M781 536h0M648 796h0M409 179h0M101 489h0M483 685h0M759 184h0M828 305h0M118 216h0M566 660h0M758 570h0M990 209h0M761 377h0M530 747h0M547 605h0M833 113h0M574 266h0M255 178h0M889 326h0M841 328h0M530 675h0M99 884h0M329 871h0M369 717h0M329 312h0M717 545h0M126 899h0M274 118h0M299 912h0M300 210h0M979 395h0M411 801h0M868 905h0M604 465h0M111 432h0M868 59h0M44 806h0M137 790h0M128 245h0M605 613h0M366 890h0M283 530h0M568 96h0M823 343h0M510 154h0M708 547h0M776 812h0M608 636h0M497 564h0M717 128h0M289 822h0M466 285h0M914 946h0M996 673h0M347 73h0M655 176h0M84 508h0M725 68h0M322 843h0M969 984h0M416 561h0M247 358h0M435 905h0M242 599h0M719 792h0M921 507h0M916 829h0M479 316h0M698 978h0M369 594h0M183 248h0M837 903h0M835 14h0M106 682h0M457 415h0M534 628h0M60 299h0M123 225h0M481 374h0M784 182h0M568 420h0M189 352h0M255 354h0M346 597h0M495 57h0M371 200h0M499 781h0M414 592h0M455 879h0M633 705h0M945 834h0M525 46h0M715 406h0M879 123h0M333 878h0M218 634h0M729 611h0M945 83h0M639 664h0M568 610h0M320 607h0M991 376h0M264 832h0M451 542h0M990 456h0M716 694h0M291 23h0M572 552h0M86 292h0M208 894h0M749 707h0M818 977h0M634 549h0M330 38h0M330 735h0M984 148h0M768 944h0M11 757h0M753 870h0M53 184h0M457 906h0M218 562h0M245 51h0M817 70h0M728 10h0M825 686h0M618 662h0M105 236h0M47 872h0M821 481h0M60 4h0M487 980h0M758 988h0M925 367h0M656 759h0M233 134h0M101 775h0M881 466h0M320 461h0M701 666h0M91 983h0M4 537h0M324 240h0M443 635h0M930 932h0M506 648h0M873 78h0M320 293h0M541 276h0M584 598h0M215 823h0M213 469h0M671 136h0M79 66h0M183 380h0M537 35h0M263 439h0M864 588h0M645 858h0M967 900h0M272 964h0M388 308h0M277 527h0M575 72h0M464 830h0M432 258h0M791 906h0M467 726h0M862 769h0M717 224h0M593 708h0M717 751h0M466 716h0M37 243h0M764 868h0M483 134h0M543 487h0M90 164h0M196 491h0M920 57h0M622 15h0M137 405h0M133 131h0M93 882h0M303 41h0M970 357h0M429 49h0M982 981h0M271 688h0M204 178h0M668 570h0M758 160h0M114 288h0M581 828h0M847 745h0M254 933h0M433 319h0M789 561h0M731 579h0M492 51h0M376 994h0M596 909h0M520 168h0M650 13h0M153 393h0M664 534h0M533 776h0M148 312h0M306 273h0M203 891h0M417 480h0M533 592h0M751 260h0M443 157h0M193 220h0M733 923h0M221 502h0M266 452h0M591 936h0M418 692h0M217 825h0M228 604h0M379 91h0M799 68h0M997 651h0M503 831h0M452 994h0M66 411h0M508 582h0M758 493h0M487 651h0M875 746h0M147 767h0M238 225h0M832 108h0M733 764h0M377 38h0M923 285h0M637 241h0M936 611h0M906 595h0M727 259h0M972 308h0M103 458h0M676 514h0M284 297h0M893 868h0M551 239h0M486 208h0M39 362h0M214 523h0M640 265h0M714 460h0M572 19h0M966 379h0M915 53h0M811 84h0M72 534h0M393 848h0M306 221h0M899 321h0M654 532h0M709 218h0M192 238h0M499 282h0M687 780h0M558 438h0M436 5h0M262 51h0M496 74h0M798 281h0M389 157h0M247 278h0M436 713h0M171 101h0M776 364h0M612 139h0M924 961h0M345 394h0M114 632h0M80 606h0M411 703h0M500 781h0M72 856h0M355 602h0M451 121h0M449 387h0M584 618h0M277 176h0M937 362h0M605 321h0M134 31h0M856 75h0M76 132h0M542 713h0M605 514h0M198 232h0M979 547h0M56 163h0M620 159h0M699 326h0M692 612h0M810 30h0M163 364h0M245 799h0M571 712h0M244 474h0M97 881h0M971 547h0M580 383h0M787 303h0M365 234h0M597 554h0M484 493h0M626 916h0M722 553h0M551 868h0M60 143h0M305 450h0M369 311h0M470 8h0M196 335h0M465 412h0M964 862h0M525 915h0M357 410h0M106 147h0M989 296h0M731 356h0M145 548h0M637 609h0M558 853h0M968 495h0M101 427h0M647 870h0M408 695h0M129 807h0M229 178h0M100 524h0M0 619h0M616 800h0M189 577h0M115 664h0M825 898h0M112 150h0M66 570h0M991 499h0M369 385h0M620 454h0M355 793h0M407 980h0M722 247h0M639 433h0M933 306h0M397 836h0M665 945h0M309 178h0M384 553h0M841 208h0M772 234h0M909 608h0M669 24h0M746 720h0M444 510h0M832 536h0M374 48h0M838 396h0M695 162h0M516 372h0M133 98h0M297 990h0M219 330h0M762 423h0M145 197h0M25 444h0M905 639h0M945 177h0M906 861h0M310 643h0M422 795h0M72 848h0M917 872h0M407 118h0M339 472h0M307 199h0M676 715h0M415 732h0M881 829h0M971 576h0M542 520h0M322 74h0M712 35h0M689 394h0M229 637h0M782 838h0M238 554h0M342 339h0M32 138h0M744 618h0M98 200h0M817 602h0M967 833h0M601 336h0M650 291h0M598 66h0M233 873h0M351 794h0M388 272h0M321 979h0M952 674h0M497 801h0M580 129h0M939 497h0M814 918h0M20 218h0M569 503h0M219 171h0M130 982h0M668 827h0M498 408h0M121 426h0M503 304h0M379 848h0M448 334h0M117 195h0M811 552h0M402 27h0M261 532h0M518 162h0M546 361h0M501 692h0M352 945h0M457 611h0M713 940h0M478 227h0M981 466h0M444 820h0M241 880h0M494 461h0M491 957h0M566 741h0M480 248h0M675 938h0M280 682h0M648 180h0M429 467h0M274 360h0M745 64h0M80 893h0M486 207h0M17 117h0M568 669h0M980 756h0M919 236h0M257 320h0M871 87h0M35 167h0M395 147h0M747 784h0M286 578h0M807 684h0M377 362h0M505 280h0M524 76h0M711 401h0M974 988h0M557 6h0M337 845h0M54 864h0M412 873h0M432 555h0M325 259h0M676 750h0M769 806h0M778 881h0M10 211h0M161 894h0M333 928h0M230 274h0M842 221h0M857 641h0M864 95h0M624 701h0M905 157h0M712 455h0M148 590h0M497 279h0M302 953h0M575 484h0M415 0h0M366 370h0M201 717h0M979 905h0M445 31h0M509 600h0M951 159h0M196 389h0M247 914h0M699 707h0M997 532h0M428 867h0M736 656h0M320 967h0M839 28h0M893 582h0M380 535h0M775 22h0M437 477h0M176 234h0M738 440h0M550 680h0M987 341h0M722 735h0M692 357h0M66 758h0M732 841h0M65 911h0M558 611h0M841 977h0M498 897h0M908 682h0M52 622h0M214 370h0M152 975h0M76 619h0M636 417h0M249 482h0M603 642h0M992 137h0M801 706h0M683 794h0M63 240h0M539 119h0M614 718h0M997 381h0M652 700h0M144 514h0M104 724h0M122 268h0M465 724h0M212 359h0M598 757h0M808 572h0M123 607h0M962 286h0M177 87h0M463 374h0M456 990h0M290 298h0M501 583h0M424 347h0M254 474h0M355 806h0M816 241h0M537 694h0M962 104h0M290 786h0M791 408h0M667 183h0M494 978h0M635 140h0M813 458h0M689 117h0M227 109h0M722 820h0M500 2h0M402 977h0M807 330h0M899 554h0M108 257h0M985 268h0M693 564h0M519 115h0M954 432h0M758 682h0M693 879h0M340 270h0M669 80h0M294 870h0M415 102h0M421 685h0M220 790h0M834 543h0M68 674h0M489 995h0M968 604h0M685 142h0M282 942h0M613 737h0M258 735h0M140 615h0M86 992h0M443 835h0M20 212h0M804 716h0M812 288h0M677 220h0M652 269h0M790 591h0M226 669h0M902 274h0M255 782h0M262 257h0M359 187h0M254 649h0M928 375h0M908 141h0M680 483h0M869 328h0M281 352h0M47 53h0M979 221h0M517 1h0M115 84h0M310 401h0M891 905h0M75 359h0M281 917h0M438 710h0M338 488h0M811 744h0M987 748h0M126 847h0M894 796h0M269 87h0M714 278h0M770 891h0M30 735h0M474 63h0M441 709h0M631 93h0M887 69h0M724 340h0M966 709h0M634 562h0M468 607h0M457 768h0M367 948h0M712 888h0M538 911h0M134 162h0M91 551h0M398 720h0M511 221h0M771 846h0M348 502h0M688 96h0M431 404h0M313 259h0M833 507h0M197 7h0M494 586h0M460 270h0M851 64h0M732 512h0M390 384h0M98 309h0M282 428h0M921 995h0M724 863h0M106 856h0M711 672h0M355 251h0M991 329h0M248 352h0M855 837h0M632 898h0M272 635h0M235 360h0M612 889h0M59 422h0M322 387h0M729 955h0M944 710h0M266 383h0M77 85h0M269 928h0M703 530h0M998 824h0M94 206h0M240 603h0M433 805h0M630 934h0M970 476h0M386 858h0M783 531h0M860 689h0M611 261h0M656 632h0M328 617h0M782 832h0M932 99h0M601 195h0M392 802h0M26 794h0M452 937h0M139 83h0M17 988h0M268 637h0M83 419h0M348 25h0M900 266h0M398 450h0M446 527h0M937 422h0M803 216h0M93 247h0M548 531h0M65 309h0M65 79h0M975 372h0M368 446h0M746 829h0M173 949h0M798 398h0M45 446h0M124 714h0M103 342h0M153 351h0M242 141h0M58 783h0M836 771h0M629 576h0M875 708h0M913 346h0M219 516h0M979 658h0M71 688h0M605 161h0M787 405h0M932 869h0M465 91h0M844 419h0M955 349h0M166 857h0M886 412h0M373 58h0M831 574h0M320 628h0M805 44h0M829 230h0M445 726h0M537 551h0M499 646h0M618 31h0M513 776h0M391 429h0M319 527h0M146 256h0M530 415h0M697 185h0M788 801h0M953 211h0M64 480h0M213 987h0M179 923h0M564 490h0M538 670h0M230 331h0M234 510h0M545 374h0M875 224h0M340 523h0M368 919h0M915 466h0M143 679h0M719 623h0M707 923h0M575 746h0M219 808h0M654 151h0M131 156h0M551 537h0M462 182h0M5 677h0M151 622h0M100 234h0M386 556h0M947 870h0M909 935h0M228 675h0M795 780h0M59 52h0M132 155h0M738 477h0M462 790h0M60 464h0M497 97h0M34 883h0M29 344h0M821 103h0M270 409h0M890 961h0M545 902h0M419 265h0M44 945h0M110 149h0M222 201h0M326 252h0M482 754h0M66 362h0M495 243h0M576 202h0M922 135h0M114 552h0M342 445h0M20 384h0M30 723h0M802 279h0M702 353h0M133 707h0M568 782h0M645 483h0M728 86h0M779 428h0M128 914h0M340 774h0M152 752h0M793 425h0M263 8h0M508 143h0M725 650h0M327 337h0M974 958h0M265 800h0M414 698h0M735 896h0M21 120h0M695 463h0M29 358h0M53 118h0M64 904h0M920 740h0M805 150h0M106 703h0M504 483h0M461 77h0M302 63h0M226 303h0M618 447h0M415 10h0M183 177h0M350 497h0M531 138h0M475 332h0M402 252h0M232 894h0M680 978h0M978 974h0M180 653h0M943 690h0M660 303h0M325 186h0M359 982h0M456 44h0M208 683h0M866 272h0M203 420h0M80 352h0M160 209h0M598 869h0M856 727h0M96 863h0M231 679h0M726 404h0M595 156h0M292 355h0M382 766h0M517 942h0M782 630h0M850 528h0M625 663h0M685 864h0M435 888h0M609 150h0M903 649h0M10 843h0M602 648h0M212 273h0M651 340h0M753 664h0M34 560h0M900 326h0M704 740h0M39 325h0M38 72h0M161 538h0M843 302h0M92 451h0M789 627h0M438 18h0M261 840h0M322 713h0M195 543h0M91 584h0M64 656h0M269 461h0M600 628h0M899 840h0M196 10h0M607 510h0M90 825h0M194 865h0M935 760h0M648 305h0M273 567h0M301 802h0M380 729h0M625 461h0M762 813h0M131 371h0M878 661h0M115 376h0M140 947h0M431 855h0M393 199h0M241 378h0M844 54h0M512 783h0M135 634h0M626 776h0M788 719h0M809 261h0M524 161h0M974 817h0M527 140h0M845 749h0M784 238h0M171 44h0M607 848h0M914 454h0M51 772h0M155 640h0M227 547h0M681 148h0M227 66h0M658 545h0M813 785h0M370 508h0M790 609h0M960 831h0M348 821h0M887 856h0M756 149h0M772 909h0M956 518h0M22 716h0M585 137h0M718 595h0M179 962h0M986 441h0M514 861h0M841 486h0M216 313h0M207 424h0M619 460h0M899 217h0M526 859h0M754 129h0M220 328h0M683 276h0M412 799h0M157 202h0M979 342h0M499 701h0M356 540h0M204 647h0M675 58h0M534 870h0M313 668h0M232 577h0M473 544h0M704 874h0M889 291h0M969 342h0M616 909h0M541 928h0M260 243h0M146 127h0M95 398h0M808 816h0M639 938h0M135 653h0M133 339h0M476 123h0M572 276h0M394 558h0M362 117h0M861 907h0M524 856h0M481 455h0M712 595h0M163 551h0M283 882h0M294 21h0M29 955h0M759 576h0M136 277h0M623 308h0M131 408h0M729 597h0M175 795h0M495 202h0M75 213h0M803 755h0M299 260h0M937 576h0M434 657h0M799 519h0M285 423h0M514 814h0M748 69h0M460 897h0M620 36h0M21 468h0M115 584h0M918 679h0M496 153h0M918 128h0M254 613h0M706 838h0M968 16h0M923 853h0M451 97h0M874 2h0M128 311h0M605 383h0M698 780h0M727 757h0M660 993h0M17 154h0M638 500h0M345 642h0M775 915h0M989 533h0M509 885h0M693 948h0M796 535h0M340 705h0M897 38h0M13 208h0M347 931h0M894 164h0M666 406h0M187 527h0M875 25h0M592 541h0M692 494h0M519 862h0M635 75h0M968 963h0M751 562h0M219 55h0M3 46h0M565 775h0M622 413h0M874 501h0M767 297h0M558 151h0M658 226h0M880 403h0M911 841h0M226 676h0M980 723h0M12 669h0M969 810h0M56 177h0M195 254h0M493 847h0M340 985h0M661 684h0M367 196h0M202 958h0M729 479h0M833 955h0M617 424h0M318 188h0M768 774h0M430 244h0M565 160h0M481 333h0M339 755h0M255 230h0M483 861h0M309 433h0M378 72h0M460 703h0M423 785h0M56 521h0M37 19h0M756 400h0M990 701h0M22 192h0M648 472h0M444 87h0M494 566h0M501 403h0M186 755h0M703 913h0M754 21h0M193 798h0M388 348h0M825 817h0M994 120h0M782 366h0M565 876h0M297 32h0M933 988h0M953 731h0M647 651h0M406 757h0M782 683h0M130 996h0M232 750h0M149 74h0M475 56h0M166 923h0M983 746h0M172 408h0M63 985h0M304 56h0M907 125h0M648 734h0M602 975h0M987 527h0M904 419h0M105 565h0M943 817h0M960 946h0M446 240h0M280 579h0M293 572h0M649 408h0M902 63h0M248 26h0M167 164h0M806 649h0M294 36h0M660 117h0M509 631h0M525 548h0M544 204h0M329 936h0M928 385h0M259 777h0M631 971h0M891 955h0M118 481h0M99 354h0M390 694h0M473 412h0M577 449h0M720 94h0M389 971h0M824 328h0M892 141h0M548 282h0M400 631h0M392 12h0M770 358h0M875 411h0M566 493h0M293 665h0M3 362h0M846 693h0M396 369h0M143 344h0M287 404h0M704 555h0M687 421h0M496 505h0M942 42h0M227 754h0M233 88h0M237 740h0M621 311h0M135 45h0M16 904h0M738 313h0M48 199h0M822 707h0M436 595h0M938 779h0M597 500h0M678 287h0M15 502h0M790 90h0M753 416h0M454 210h0M747 987h0M754 753h0M112 125h0M462 285h0M446 69h0M97 388h0M262 683h0M750 72h0M517 592h0M307 696h0M389 31h0M563 404h0M58 548h0M232 892h0M374 101h0M246 173h0M527 304h0M922 90h0M213 189h0M510 905h0M570 606h0M220 925h0M271 315h0M307 764h0M292 456h0M869 847h0M129 765h0M566 980h0M868 448h0M902 911h0M257 515h0M794 892h0M873 50h0M617 533h0M510 180h0M7 474h0M997 999h0M123 654h0M121 447h0M928 506h0M107 502h0M701 597h0M413 860h0M9 986h0M368 717h0M415 934h0M155 467h0M176 914h0M593 319h0M415 998h0M521 780h0M569 436h0M352 140h0M540 932h0M76 17h0M514 941h0M708 39h0M418 71h0M597 528h0M152 399h0M782 850h0M159 357h0M469 693h0M133 974h0M640 594h0M430 35h0M331 709h0M527 990h0M368 140h0M291 952h0M463 639h0M613 326h0M814 886h0M369 493h0M451 212h0M202 458h0M805 241h0M549 496h0M118 136h0M120 37h0M709 447h0M545 269h0M681 83h0M758 951h0M561 628h0M947 330h0M16 531h0M49 346h0M67 937h0M985 871h0M380 108h0M143 866h0M565 334h0M836 281h0M446 338h0M529 343h0M668 453h0M778 217h0M200 21h0M263 753h0M403 762h0M989 143h0M959 893h0M178 627h0M269 895h0M983 60h0M401 704h0M344 144h0M55 946h0M204 628h0M748 168h0M143 478h0M978 202h0M28 573h0M528 417h0M105 229h0M199 257h0M480 500h0M790 344h0M199 588h0M932 36h0M531 396h0M608 791h0M484 19h0M136 993h0M360 906h0M129 733h0M989 617h0M190 585h0M596 627h0M244 102h0M284 180h0M669 546h0M120 543h0M687 853h0M43 919h0M549 623h0M195 78h0M217 604h0M848 840h0M393 471h0M501 214h0M201 543h0M601 598h0M597 534h0M617 935h0M965 247h0M877 655h0M589 203h0M468 37h0M371 383h0M935 227h0M305 123h0M289 257h0M216 467h0M163 137h0M37 989h0M137 182h0M427 435h0M903 989h0M828 627h0M953 60h0M996 437h0M649 475h0M156 682h0M455 990h0M363 363h0M724 947h0M595 525h0M227 587h0M561 997h0M351 821h0M275 665h0M24 888h0M493 725h0M679 629h0M550 862h0M19 833h0M884 357h0M886 592h0M514 451h0M706 0h0M212 74h0M861 6h0M336 499h0M759 131h0M366 6h0M172 844h0M600 910h0M327 767h0M654 451h0M37 824h0M880 798h0M296 367h0M793 466h0M379 611h0M52 831h0M10 422h0M235 379h0M446 292h0M975 740h0M250 744h0M514 512h0M549 111h0M120 730h0M132 438h0M501 948h0M78 302h0M376 329h0M244 127h0M534 568h0M102 886h0M745 789h0M540 644h0M696 279h0M64 491h0M911 557h0M378 864h0M779 995h0M896 191h0M372 754h0M931 539h0M730 815h0M884 697h0M768 745h0M253 809h0M41 742h0M259 129h0M699 372h0M24 867h0M389 998h0M71 20h0M763 44h0M385 206h0M869 881h0M429 390h0M191 302h0M442 606h0M355 169h0M738 515h0M574 734h0M675 837h0M540 202h0M42 177h0M180 555h0M823 93h0M866 179h0M547 706h0M797 145h0M520 385h0M474 305h0M297 210h0M895 734h0M460 459h0M262 770h0M292 166h0M132 363h0M516 150h0M600 810h0M344 29h0M199 330h0M489 99h0M433 163h0M490 709h0M9 679h0M805 92h0M12 815h0M168 69h0M107 431h0M42 575h0M435 438h0M959 868h0M175 465h0M318 800h0M945 843h0M295 631h0M397 179h0M69 384h0M802 337h0M580 149h0M955 324h0M935 252h0M4 81h0M575 887h0M999 613h0M632 411h0M835 652h0M731 167h0M878 623h0M338 733h0M968 24h0M623 756h0M829 449h0M94 749h0M726 761h0M386 15h0M970 387h0M921 301h0M246 294h0M857 978h0M676 704h0M5 254h0M944 735h0M494 132h0M813 367h0M623 242h0M578 757h0M919 68h0M705 732h0M420 288h0M957 746h0M937 286h0M332 741h0M22 591h0M395 37h0M886 487h0M300 249h0M308 302h0M691 193h0M538 58h0M83 135h0M810 867h0M61 434h0M839 872h0M665 62h0M708 166h0M900 398h0M253 967h0M187 279h0M864 801h0M764 407h0M153 245h0M659 263h0M956 769h0M627 897h0M318 459h0M722 186h0M692 713h0M396 851h0M828 399h0M38 708h0M680 193h0M889 629h0M890 339h0M498 854h0M505 791h0M343 274h0M873 770h0M994 823h0M870 406h0M584 237h0M211 895h0M525 430h0M346 39h0M152 882h0M965 137h0M731 320h0M62 60h0M501 126h0M803 427h0M374 659h0M405 280h0M602 852h0M407 386h0M948 938h0M874 178h0M757 323h0M390 800h0M918 733h0M40 412h0M732 576h0M370 568h0M678 591h0M15 463h0M944 412h0M51 248h0M38 100h0M36 472h0M569 475h0M162 993h0M411 172h0M462 990h0M776 719h0M18 73h0M752 90h0M696 12h0M43 385h0M826 816h0M159 599h0M357 240h0M656 525h0M824 14h0M765 894h0M878 149h0M203 736h0M442 429h0M109 76h0M989 764h0M248 550h0" fill="none" stroke-width="0.85" stroke-linecap="square" vector-effect="non-scaling-stroke"/><path id="d1" d="M811 576h0M603 848h0M829 71h0M537 608h0M600 139h0M650 213h0M638 273h0M200 338h0M305 128h0M675 667h0M907 357h0M659 372h0M450 370h0M929 554h0M249 904h0M519 171h0M76 18h0M427 249h0M152 571h0M324 931h0M22 21h0M60 876h0M934 532h0M996 971h0M620 646h0M485 414h0M246 138h0M478 127h0M599 526h0M996 746h0M327 772h0M256 541h0M409 770h0M846 856h0M444 207h0M911 797h0M675 831h0M371 764h0M388 397h0M19 717h0M671 386h0M166 878h0M509 158h0M168 691h0M858 337h0M230 295h0M800 944h0M866 873h0M210 758h0M220 490h0M380 124h0M74 342h0M355 943h0M486 106h0M174 215h0M363 327h0M700 197h0M385 120h0M910 84h0M45 818h0M297 988h0M256 150h0M736 396h0M415 950h0M820 449h0M383 73h0M395 106h0M856 341h0M859 981h0M606 755h0M832 139h0M115 825h0M585 915h0M339 447h0M212 188h0M526 205h0M431 411h0M933 126h0M249 686h0M835 216h0M468 237h0M343 89h0M744 643h0M821 949h0M899 343h0M680 275h0M548 658h0M23 756h0M481 463h0M651 945h0M772 428h0M156 967h0M666 77h0M607 54h0M724 273h0M767 508h0M352 366h0M134 66h0M182 1h0M924 849h0M575 329h0M857 330h0M922 325h0M262 17h0M468 19h0M734 369h0M264 19h0M842 31h0M769 993h0M68 198h0M158 274h0M252 823h0M943 78h0M98 736h0M556 601h0M611 425h0M62 25h0M690 898h0M544 83h0M314 635h0M898 712h0M463 205h0M990 351h0M397 485h0M205 337h0M569 817h0M650 233h0M930 218h0M466 54h0M454 414h0M68 879h0M485 919h0M697 13h0M451 751h0M130 172h0M775 72h0M702 824h0M893 797h0M144 219h0M776 700h0M252 669h0M937 570h0M576 285h0M323 148h0M281 518h0M10 73h0M822 767h0M372 529h0M324 742h0M919 154h0M345 757h0M327 576h0M754 495h0M63 492h0M883 782h0M927 282h0M863 528h0M924 921h0M235 348h0M779 850h0M355 547h0M868 36h0M629 807h0M650 87h0M337 851h0M900 889h0M880 347h0M216 855h0M24 712h0M530 871h0M467 465h0M451 574h0M10 785h0M421 670h0M965 235h0M580 158h0M759 80h0M279 654h0M0 365h0M910 36h0M284 885h0M8 182h0M907 694h0M262 68h0M298 547h0M863 228h0M53 847h0M457 885h0M529 867h0M97 835h0M21 649h0M905 613h0M467 381h0M50 404h0M139 506h0M893 4h0M653 827h0M187 98h0M178 156h0M839 1h0M537 846h0M123 948h0M328 285h0M61 533h0M557 796h0M250 835h0M328 863h0M34 374h0M986 444h0M21 405h0M648 616h0M127 671h0M155 932h0M374 991h0M20 969h0M922 696h0M744 542h0M767 288h0M937 234h0M137 986h0M180 685h0M609 258h0M662 410h0M312 314h0M721 181h0M683 603h0M957 999h0M677 790h0M789 878h0M723 171h0M398 481h0M524 475h0M269 748h0M385 271h0M697 126h0M102 944h0M746 482h0M538 271h0M572 229h0M748 699h0M707 583h0M71 503h0M501 444h0M389 533h0M95 498h0M303 42h0M164 282h0M195 892h0M497 496h0M423 32h0M280 234h0M257 71h0M239 504h0M931 295h0M220 106h0M352 772h0M932 824h0M173 788h0M646 856h0M537 537h0M934 194h0M289 201h0M388 745h0M424 992h0M479 473h0M737 785h0M433 84h0M410 378h0M696 571h0M591 425h0M538 192h0M822 193h0M498 753h0M70 790h0M178 26h0M952 626h0M403 750h0M924 671h0M903 13h0M831 417h0M787 516h0M855 290h0M962 19h0M265 635h0M987 813h0M553 415h0M861 84h0M846 684h0M152 970h0M473 823h0M951 158h0M145 19h0M572 327h0M216 859h0M436 511h0M630 236h0M144 663h0M528 900h0M870 746h0M914 32h0M615 871h0M532 515h0M644 344h0M101 888h0M239 803h0M184 29h0M700 52h0M850 409h0M268 372h0M150 853h0M299 471h0M697 417h0M332 410h0M102 723h0M748 129h0M239 859h0M998 563h0M492 710h0M486 584h0M715 176h0M631 709h0M747 59h0M142 106h0M65 246h0M137 305h0M729 830h0M330 604h0M23 423h0M444 818h0M82 978h0M486 160h0M80 458h0M340 721h0M164 463h0M528 373h0M11 654h0M818 156h0M869 598h0M431 431h0M182 549h0M243 735h0M422 359h0M611 311h0M602 746h0M574 415h0M413 449h0M639 478h0M124 168h0M891 703h0M100 703h0M157 787h0M580 438h0M211 874h0M617 921h0M717 27h0M390 262h0M399 435h0M899 644h0M668 931h0M35 653h0M621 518h0M969 445h0M396 310h0M797 194h0M877 485h0M882 835h0M502 652h0M821 584h0M837 879h0M167 67h0M525 543h0M736 515h0M87 90h0M170 617h0M931 203h0M870 952h0M220 243h0M95 57h0M245 721h0M285 158h0M536 946h0M228 623h0M463 948h0M307 362h0M501 500h0M235 869h0M33 477h0M736 263h0M88 967h0M288 999h0M919 434h0M372 715h0M707 887h0M441 624h0M197 114h0M706 615h0M954 152h0M253 746h0M55 768h0M358 141h0M488 906h0M526 84h0M97 182h0M663 879h0M960 387h0M653 206h0M119 889h0M953 593h0M438 588h0M603 617h0M249 530h0M348 820h0M745 225h0M233 42h0M585 276h0M49 779h0M973 985h0M958 687h0M348 999h0M179 211h0M349 542h0M736 535h0M592 673h0M631 656h0M746 769h0M874 638h0M61 818h0M167 559h0M481 826h0M411 45h0M891 648h0M554 215h0M951 776h0M764 382h0M76 94h0M120 320h0M450 533h0M985 118h0M888 693h0M93 10h0M454 639h0M10 871h0M785 318h0M676 732h0M975 33h0M526 312h0M772 631h0M889 620h0M67 626h0M952 978h0M174 371h0M608 61h0M121 778h0M37 790h0M957 429h0M774 813h0M879 822h0M786 968h0M280 63h0M855 595h0M985 493h0M235 57h0M880 114h0M289 229h0M380 607h0M651 44h0M637 234h0M331 698h0M69 536h0M635 167h0M198 456h0M1 853h0M724 422h0M982 40h0M593 531h0M123 590h0M346 888h0M509 181h0M903 895h0M151 981h0M190 578h0M529 58h0M133 605h0M160 185h0M766 476h0M795 735h0M250 183h0M157 478h0M64 799h0M4 711h0M52 961h0M974 187h0M382 76h0M41 386h0M547 733h0M645 283h0M320 636h0M125 154h0M359 926h0M532 361h0M869 564h0M42 922h0M625 387h0M259 243h0M688 530h0M600 241h0M414 202h0M632 373h0M942 555h0M184 102h0M518 800h0M624 460h0M21 432h0M351 183h0M713 223h0M970 618h0M977 745h0M32 246h0M579 363h0M59 74h0M492 614h0M105 436h0M996 505h0M641 421h0M764 750h0M448 343h0M566 627h0M212 903h0M371 50h0M856 607h0M239 948h0M266 378h0M539 491h0M967 722h0M569 582h0M967 949h0M327 249h0M155 601h0M668 28h0M268 85h0M729 357h0M581 650h0M326 890h0M538 970h0M336 947h0M394 833h0M939 824h0M778 207h0M358 434h0M920 435h0M532 13h0M304 503h0M735 980h0M794 81h0M23 539h0M718 330h0M363 374h0M606 180h0M483 451h0M241 998h0M665 661h0M796 563h0M47 74h0M17 514h0M516 761h0M889 988h0M701 561h0M380 710h0M257 134h0M849 977h0M430 501h0M871 22h0M806 241h0M982 489h0M974 151h0M636 897h0M77 591h0M538 360h0M801 313h0M235 834h0M461 277h0M762 800h0M11 241h0M198 286h0M697 635h0M925 101h0M321 107h0M423 486h0M44 202h0M265 599h0M76 28h0M372 371h0M403 324h0M829 451h0M294 626h0M365 201h0M543 22h0M708 931h0M121 146h0M978 960h0M949 606h0M634 182h0M757 53h0M105 487h0M690 8h0M644 175h0M415 115h0M45 166h0M857 558h0M131 724h0M220 584h0M981 863h0M782 929h0M229 423h0M647 404h0M456 556h0M54 962h0M293 135h0M940 730h0M713 123h0M914 625h0M301 127h0M984 315h0M77 236h0M582 545h0M917 176h0M746 866h0M945 183h0M197 476h0M336 247h0M898 592h0M249 784h0M957 916h0M213 983h0M98 597h0M470 586h0M409 247h0M705 749h0M791 871h0M646 736h0M745 29h0M255 61h0M108 179h0M904 151h0M854 887h0M825 910h0M772 713h0M871 303h0M253 901h0M869 534h0M930 682h0M128 974h0M16 574h0M411 144h0M578 662h0M889 696h0M700 995h0M957 457h0M279 816h0M652 612h0M62 366h0M95 616h0M504 341h0M652 546h0M107 320h0M855 52h0M461 866h0M271 913h0M520 734h0M574 596h0M371 255h0M64 269h0M435 27h0M808 53h0M123 139h0M36 255h0M591 903h0M721 106h0M834 188h0M688 41h0M134 593h0M304 193h0M497 328h0M229 654h0M599 967h0M282 992h0M390 547h0M766 909h0M278 375h0M688 279h0M366 239h0M831 518h0M895 716h0M521 805h0M877 874h0M738 345h0M213 660h0M704 368h0M73 223h0M173 675h0M227 319h0M726 753h0M338 28h0M417 311h0M346 473h0M672 98h0M183 693h0M784 282h0M790 873h0M459 972h0M546 301h0M423 881h0M787 409h0M380 787h0M414 263h0M738 482h0M338 353h0M35 689h0M759 813h0M904 527h0M61 853h0M405 0h0M487 587h0M853 27h0M263 778h0M526 425h0M521 491h0M820 992h0M623 384h0M878 440h0M997 665h0M779 750h0M867 399h0M67 298h0M777 745h0M339 102h0M20 963h0M209 77h0M995 819h0M669 378h0M368 900h0M553 198h0M768 868h0M756 571h0M488 268h0M749 830h0M55 293h0M324 499h0M995 298h0M995 334h0M826 59h0M710 905h0M387 351h0M492 205h0M845 757h0M754 120h0M101 147h0M855 357h0M162 985h0M983 995h0M267 991h0M249 133h0M119 698h0M309 69h0M330 393h0M295 827h0M691 584h0M307 300h0M582 574h0M508 141h0M206 797h0M537 648h0M665 651h0M109 770h0M165 731h0M598 301h0M865 41h0M94 906h0M823 360h0M713 192h0M759 610h0M927 480h0M42 342h0M609 616h0M917 441h0M144 535h0M815 504h0M823 291h0M901 53h0M673 141h0M136 342h0M774 272h0M373 663h0M804 257h0M304 897h0M995 297h0M576 761h0M294 614h0M314 648h0M423 125h0M973 585h0M21 163h0M727 946h0M994 869h0M119 645h0M690 492h0M473 240h0M863 139h0M536 117h0M541 534h0M536 571h0M282 493h0M582 142h0M991 839h0M660 840h0M349 283h0M422 59h0M368 573h0M100 550h0M134 242h0M27 642h0M725 74h0M661 553h0M521 328h0M685 733h0M145 551h0M921 245h0M39 954h0M59 177h0M114 764h0M341 789h0M457 364h0M823 75h0M847 431h0M604 674h0M357 538h0M614 646h0M825 394h0M211 510h0M463 158h0M42 720h0M135 57h0M154 272h0M829 565h0M450 534h0M460 266h0M710 346h0M858 71h0M378 6h0M908 972h0M902 176h0M658 364h0M82 309h0M688 139h0M319 501h0M690 231h0M427 659h0M20 465h0M799 266h0M717 881h0M615 454h0M808 728h0M307 244h0M696 69h0M408 926h0M108 747h0M706 642h0M592 17h0M825 732h0M765 75h0M529 187h0M215 459h0M286 450h0M543 498h0M402 859h0M416 744h0M654 147h0M966 232h0M527 707h0M243 970h0M746 643h0M839 184h0M376 821h0M701 300h0M373 655h0M124 598h0M857 547h0M591 118h0M116 545h0M630 14h0M925 75h0M637 319h0M517 239h0M17 880h0M190 6h0M226 127h0M835 860h0M368 928h0M186 631h0M395 463h0M173 166h0M920 128h0M360 829h0M953 937h0M493 680h0M460 545h0M90 24h0M930 979h0M303 815h0M414 514h0M195 335h0M979 903h0M887 311h0M299 355h0M481 144h0M325 128h0M839 759h0M567 52h0M476 824h0M743 452h0M797 439h0M767 367h0M733 190h0M904 941h0M241 732h0M876 219h0M941 10h0M484 114h0M10 295h0M33 597h0M658 955h0M640 115h0M570 114h0M45 917h0M287 175h0M54 167h0M555 368h0M358 411h0M132 243h0M246 787h0M136 972h0M480 242h0M989 828h0M464 633h0M955 787h0M456 704h0M240 257h0M159 849h0M889 680h0M180 779h0M325 181h0M408 742h0M667 22h0M678 635h0M785 981h0M777 59h0M928 471h0M605 242h0M479 890h0M318 172h0M113 428h0M237 714h0M60 750h0M766 346h0M213 597h0M889 402h0M813 597h0M32 327h0M388 726h0M405 652h0M999 272h0M402 423h0M362 319h0M207 691h0M514 431h0M609 210h0M699 35h0M164 700h0M793 29h0M483 83h0M497 788h0M325 406h0M591 57h0M454 266h0M717 645h0M958 249h0M71 950h0M631 680h0M39 574h0M180 366h0M222 394h0M784 998h0M312 84h0M164 853h0M210 595h0M661 730h0M239 179h0M784 292h0M329 147h0M522 15h0M195 518h0M636 185h0M488 213h0M455 199h0M849 28h0M338 830h0M389 214h0M169 618h0M233 416h0M359 863h0M545 145h0M46 965h0M396 405h0M732 83h0M457 419h0M548 707h0M53 216h0M477 940h0M256 467h0M292 990h0M499 119h0M899 536h0M301 165h0M593 745h0M487 411h0M802 901h0M230 589h0M714 275h0M177 75h0M851 927h0M792 746h0M189 843h0M789 918h0M387 307h0M570 505h0M723 457h0M495 289h0M358 629h0M929 207h0M85 738h0M153 753h0M732 718h0M558 153h0M230 669h0M418 237h0M521 387h0M998 943h0M805 296h0M649 152h0M283 303h0M369 932h0M650 311h0M874 731h0M762 753h0M115 258h0M190 86h0M308 353h0M486 648h0M935 878h0M383 86h0M688 876h0M126 450h0M186 459h0M292 367h0M475 36h0M989 206h0M733 212h0M784 369h0M978 984h0M14 151h0M894 378h0M210 484h0M362 411h0M161 190h0M76 581h0M505 745h0M294 787h0M545 503h0M265 58h0M796 260h0M529 722h0M400 180h0M739 608h0M589 414h0M136 523h0M230 665h0M190 235h0M286 283h0M561 374h0M119 479h0M951 828h0M399 926h0M774 484h0M975 362h0M946 790h0M928 253h0M695 518h0M807 390h0M725 110h0M607 414h0M207 303h0M79 286h0M203 485h0M620 815h0M924 800h0M55 699h0M61 968h0M718 133h0M978 172h0M938 520h0M699 673h0M380 627h0M529 626h0M975 397h0M452 776h0M526 81h0M11 348h0M97 190h0M535 646h0M890 906h0M796 200h0M891 772h0M561 911h0M415 869h0M786 225h0M423 533h0M371 623h0M633 118h0M783 12h0M685 422h0M767 542h0M559 705h0M17 377h0M920 27h0M657 741h0M929 646h0M958 937h0M193 839h0M277 201h0M74 999h0M596 435h0M819 670h0M419 821h0M40 187h0M974 718h0M424 75h0M440 487h0M556 560h0M261 570h0M695 341h0M941 920h0M577 920h0M611 114h0M788 704h0M511 32h0M895 732h0M328 339h0M564 397h0M564 824h0M607 150h0M9 704h0M170 730h0M995 554h0M480 774h0M783 924h0M400 996h0M397 140h0M847 232h0M398 308h0M708 411h0M347 554h0M962 439h0M681 183h0M920 51h0M240 595h0M745 735h0M529 151h0M47 483h0M90 686h0M548 315h0M149 648h0M617 659h0M84 942h0M50 323h0M711 997h0M230 45h0M745 99h0M671 70h0M59 8h0M856 800h0M183 745h0M633 882h0M676 921h0M665 83h0M945 558h0M996 191h0M676 814h0M560 7h0M497 299h0M728 852h0M136 448h0M66 323h0M845 179h0M670 440h0M927 389h0M603 138h0M365 260h0M548 597h0M100 621h0M836 512h0M219 558h0M26 473h0M555 128h0M802 50h0M65 513h0M701 327h0M323 267h0M213 229h0M368 918h0M865 195h0M732 159h0M107 21h0M718 12h0M599 699h0M959 865h0M108 48h0M378 592h0M804 943h0M767 606h0M826 306h0M284 119h0M99 607h0M29 933h0M690 190h0M224 637h0M212 791h0M813 439h0M795 740h0M634 723h0M385 183h0M569 583h0M225 571h0M16 246h0M907 824h0M374 70h0M801 383h0M717 482h0M764 995h0M598 171h0M629 827h0M447 588h0M755 631h0M825 799h0M217 157h0M20 191h0M408 272h0M271 630h0M87 266h0M787 560h0M14 138h0M884 99h0M808 774h0M308 426h0M673 115h0M939 162h0M193 197h0M236 929h0M913 535h0M721 313h0M796 775h0M141 358h0M45 354h0M467 635h0M252 971h0M815 17h0M280 223h0M161 310h0M34 594h0M988 399h0M579 931h0M277 365h0M435 3h0M874 285h0M892 359h0M410 683h0M147 449h0M217 945h0M478 539h0M785 946h0M963 869h0M740 135h0M909 775h0M285 768h0M700 629h0M183 426h0M355 871h0M354 584h0M239 1h0M147 373h0M949 377h0M444 981h0M358 106h0M398 172h0M846 51h0M505 972h0M163 39h0M413 832h0M392 641h0M119 617h0M862 191h0M299 941h0M211 177h0M571 824h0M479 555h0M363 164h0M821 112h0M857 771h0M136 914h0M923 950h0M397 308h0M337 70h0M843 549h0M280 93h0M677 782h0M140 395h0M280 638h0M73 604h0M156 220h0M601 369h0M297 574h0M257 169h0M412 687h0M243 828h0M143 443h0M369 676h0M658 579h0M346 449h0M736 404h0M993 93h0M363 4h0M283 353h0M377 885h0M889 264h0M500 124h0M872 634h0M24 45h0M796 376h0M933 534h0M548 848h0M453 945h0M934 71h0M688 770h0M963 36h0M300 535h0M653 315h0M403 967h0M294 320h0M715 468h0M775 243h0M757 910h0M888 306h0M710 68h0M813 521h0M628 598h0M958 860h0M572 961h0M418 189h0M575 413h0M93 384h0M862 487h0M799 342h0M62 725h0M141 898h0M483 255h0M762 881h0M166 916h0M943 621h0M513 446h0M670 587h0M544 237h0M433 903h0M263 629h0M502 579h0M526 397h0M66 850h0M130 883h0M126 960h0M695 223h0M239 130h0M648 917h0M16 64h0M820 755h0M93 325h0M944 146h0M31 102h0M918 999h0M341 634h0M789 678h0M494 862h0M527 819h0M809 254h0M587 448h0M19 984h0M912 23h0M908 814h0M777 694h0M38 695h0M30 956h0M920 472h0M933 465h0M594 514h0M218 601h0M226 564h0M468 889h0M988 989h0M340 805h0M687 287h0M590 615h0M557 18h0M105 269h0M569 277h0M495 54h0M307 688h0M699 111h0M256 348h0M629 596h0M236 696h0M509 966h0M464 299h0M462 71h0M459 53h0M487 55h0M462 412h0M376 58h0M647 810h0M665 752h0M196 207h0M294 462h0M602 451h0M875 591h0M100 745h0M58 767h0M638 837h0M989 623h0M22 914h0M106 104h0M728 773h0M25 438h0M685 153h0M95 878h0M21 598h0M51 607h0M50 595h0M406 337h0M967 626h0M716 924h0M87 927h0M477 948h0M478 811h0M951 327h0M471 796h0M48 793h0M526 622h0M960 252h0M633 961h0M970 19h0M923 575h0M281 16h0M460 21h0M923 660h0M76 830h0M37 671h0M344 742h0M522 53h0M887 76h0M30 897h0M674 964h0M396 630h0M165 136h0M295 295h0M415 96h0M824 688h0M713 293h0M921 968h0M945 600h0M584 222h0M919 633h0M791 914h0M51 859h0M526 273h0M743 811h0M475 381h0M112 990h0M607 283h0M607 214h0M356 111h0M720 924h0M720 315h0M15 818h0M947 69h0M988 449h0M540 993h0M560 322h0M293 779h0M220 22h0M970 649h0M357 669h0M120 915h0M937 254h0M709 432h0M301 795h0M239 752h0M510 714h0M321 298h0M884 506h0M815 45h0M8 569h0M969 683h0M121 13h0M629 765h0M784 924h0M203 822h0M634 726h0M554 150h0M933 782h0M806 139h0M106 451h0M705 784h0M435 442h0M833 658h0M10 505h0M706 989h0M973 592h0M732 691h0M979 848h0M781 577h0M404 172h0M502 706h0M772 717h0M498 7h0M38 566h0M99 641h0M251 77h0M767 12h0M882 958h0M907 714h0M41 474h0M21 338h0M917 410h0M90 78h0M209 268h0M164 475h0M745 606h0M49 372h0M310 668h0M590 175h0M642 303h0M128 722h0M511 895h0M848 120h0M936 778h0M386 148h0M335 971h0M15 388h0M924 236h0M31 763h0M979 590h0M943 124h0M674 487h0M881 875h0M341 714h0M999 548h0M288 944h0M865 561h0M394 922h0M822 608h0M362 917h0M125 507h0M740 537h0M196 516h0M84 943h0M972 19h0M468 715h0M632 678h0M984 568h0M323 325h0M996 142h0M952 31h0M924 655h0M372 809h0M177 139h0M913 796h0M92 764h0M663 331h0M34 707h0M126 726h0M881 110h0M670 44h0M214 306h0M443 29h0M265 217h0M420 338h0M147 597h0M585 19h0M125 158h0M488 245h0M21 847h0M340 44h0M670 155h0M309 957h0M471 202h0M741 568h0M240 443h0M735 735h0M28 805h0M116 699h0M783 343h0M660 981h0M354 637h0M166 842h0M649 8h0M837 444h0M447 919h0M66 868h0M668 880h0M549 983h0M556 790h0M543 609h0M94 463h0M446 640h0M879 44h0M264 521h0M840 614h0M671 439h0M125 792h0M987 88h0M287 675h0M470 718h0M609 234h0M73 119h0M269 668h0M199 528h0M687 478h0M522 771h0M983 867h0M548 774h0M647 22h0M180 174h0M769 462h0M647 981h0M956 375h0M516 654h0M103 385h0M596 584h0M859 501h0M842 669h0M826 490h0M36 905h0M100 30h0M523 956h0M649 216h0M564 904h0M512 581h0M484 97h0M288 46h0M143 828h0M94 240h0M884 76h0M489 847h0M635 748h0M445 643h0M38 712h0M302 449h0M670 28h0M599 687h0M967 499h0M173 909h0M354 304h0M827 590h0M349 58h0M350 366h0M648 303h0M381 213h0M385 42h0M199 399h0M8 194h0M485 951h0M24 803h0M850 248h0M488 265h0M408 733h0M743 825h0M280 212h0M33 214h0M755 412h0M9 461h0M965 410h0M541 692h0M519 583h0M398 631h0M335 203h0M653 595h0M413 880h0M674 919h0M564 213h0M413 0h0M278 436h0M161 45h0M162 272h0M91 903h0M258 538h0M884 848h0M318 73h0M240 481h0M231 893h0M503 649h0M626 633h0M752 987h0M369 473h0M235 333h0M19 541h0M192 567h0M821 940h0M847 100h0M435 940h0M216 308h0M142 93h0M900 753h0M667 185h0M644 967h0M662 862h0M103 407h0M79 670h0M179 983h0M732 376h0M483 510h0M46 76h0M7 966h0M54 265h0M194 38h0M369 844h0M174 396h0M768 546h0M948 834h0M198 812h0M372 889h0M483 13h0M398 555h0M745 690h0M538 613h0M309 52h0M125 268h0M483 779h0M563 177h0M911 688h0M581 333h0M545 691h0M271 979h0M435 78h0M887 786h0M186 8h0M991 766h0M711 312h0M892 254h0M173 79h0M473 134h0M683 711h0M222 60h0M857 228h0M974 754h0M237 986h0M144 576h0M670 564h0M23 413h0M968 384h0M91 920h0M400 658h0M770 224h0M19 902h0M359 884h0M502 256h0M703 636h0M59 225h0M218 782h0M429 154h0M794 104h0M623 598h0M290 859h0M225 464h0M325 151h0M661 622h0M110 186h0M588 631h0M292 992h0M62 523h0M844 393h0M341 681h0M739 111h0M353 142h0M640 696h0M452 912h0M582 48h0M527 539h0M401 559h0M751 817h0M705 440h0M799 451h0M443 591h0M821 55h0M239 489h0M953 934h0M161 216h0M967 594h0M562 916h0M519 972h0M570 649h0M719 695h0M90 294h0M205 604h0M140 311h0M705 981h0M619 742h0M96 616h0M453 499h0M380 111h0M914 861h0M444 732h0M487 939h0M277 889h0M735 924h0M149 200h0M126 154h0M897 109h0M947 801h0M50 398h0M729 132h0M554 380h0M564 398h0M755 7h0M504 472h0M627 72h0M261 569h0M524 931h0M318 426h0M543 178h0M618 95h0M448 893h0M969 132h0M48 183h0M140 282h0M343 968h0M326 13h0M421 936h0M249 894h0M178 537h0M370 172h0M132 401h0M868 159h0M498 193h0M281 258h0M968 292h0M593 185h0M233 965h0M411 572h0M318 581h0M199 261h0M683 651h0M269 40h0M523 131h0M188 656h0M193 926h0M196 740h0M16 127h0M835 148h0M904 449h0M536 62h0M908 947h0M127 653h0M771 162h0M477 237h0M987 379h0M578 279h0M725 354h0M230 700h0M897 232h0M203 522h0M226 283h0M963 953h0M940 976h0M581 5h0M802 703h0M713 401h0M999 469h0M286 339h0M15 24h0M74 808h0M781 444h0M823 384h0M883 53h0M451 212h0M279 171h0M378 107h0M716 414h0M212 650h0M802 810h0M471 999h0M867 433h0M732 506h0M272 818h0M879 976h0M563 804h0M289 494h0M539 665h0M937 736h0M816 201h0M920 594h0M256 692h0M93 787h0M765 655h0M609 245h0M400 977h0M121 440h0M709 697h0M266 298h0M201 373h0M175 625h0M453 256h0M792 849h0M499 421h0M701 528h0M76 388h0M852 664h0M269 933h0M183 534h0M335 471h0M866 652h0M990 945h0M920 891h0M194 618h0M905 916h0M895 840h0M427 904h0M16 96h0M476 292h0M746 656h0M614 89h0M819 2h0M778 881h0M509 476h0M786 949h0M473 549h0M582 172h0M848 671h0M742 29h0M965 203h0M677 212h0M478 658h0M225 622h0M937 37h0M59 55h0M272 943h0M71 991h0M87 389h0M27 792h0M792 55h0M805 128h0M344 630h0M549 245h0M855 916h0M974 29h0M443 311h0M147 51h0M664 102h0M560 872h0M765 92h0M188 338h0M201 358h0M617 386h0M72 523h0M844 480h0M394 55h0M49 241h0M33 670h0M167 791h0M856 875h0M690 840h0M55 15h0M708 98h0M653 423h0M282 660h0M332 856h0M327 73h0M965 829h0M133 331h0M824 932h0M618 656h0M709 328h0M55 708h0M912 495h0M248 823h0M902 471h0M611 936h0M704 178h0M412 988h0M969 839h0M573 733h0M911 212h0M293 950h0M54 319h0M465 984h0M111 206h0M165 305h0M606 787h0M919 4h0M869 562h0M626 886h0M608 947h0M576 96h0M169 203h0M217 255h0M676 406h0M511 893h0M586 104h0M458 113h0M807 812h0M609 635h0M354 769h0M908 319h0M530 309h0M566 324h0M683 958h0M402 622h0M779 201h0M310 560h0M401 820h0M517 530h0M21 858h0M47 9h0M627 978h0M868 212h0M257 953h0M807 74h0M819 284h0M959 803h0M897 87h0M313 703h0M772 870h0M254 535h0M187 739h0M477 266h0M298 813h0M361 907h0M208 142h0M219 334h0M942 989h0M704 556h0M992 35h0M721 953h0M601 263h0M484 550h0M692 483h0M928 446h0M978 362h0M317 839h0M237 368h0M974 269h0M79 466h0M408 752h0M217 305h0M9 595h0M541 680h0M561 729h0M537 878h0M769 401h0M453 296h0M333 899h0M709 95h0M489 921h0M597 522h0M687 244h0M267 899h0M634 550h0M319 519h0M432 649h0M471 369h0M324 561h0M829 816h0M972 508h0M724 437h0M112 537h0M8 840h0M749 760h0M733 612h0M637 585h0M717 474h0M207 205h0M644 328h0M534 603h0M76 257h0M497 668h0M226 342h0M694 447h0M734 743h0M746 841h0M689 994h0M580 133h0M516 939h0M268 5h0M941 388h0M800 92h0M30 736h0M371 750h0M799 173h0M784 783h0M492 160h0M265 714h0M964 919h0M979 423h0M429 13h0M603 46h0M13 737h0M481 326h0M878 377h0M142 912h0M89 418h0M104 36h0M789 984h0M95 727h0M137 341h0M809 356h0M591 795h0M632 264h0M994 475h0M202 97h0M524 752h0M532 158h0M977 750h0M153 111h0M994 153h0M637 667h0M605 65h0M612 850h0M493 521h0M422 712h0M218 95h0M839 264h0M953 288h0M348 578h0M306 79h0M936 425h0M742 361h0M429 387h0M634 763h0M772 962h0M28 396h0M201 969h0M56 410h0M656 267h0M430 47h0M694 694h0M76 665h0M56 570h0M329 5h0M976 890h0M626 31h0M924 722h0M111 904h0M894 237h0M22 541h0M843 707h0M830 520h0M850 114h0M505 230h0M312 722h0M95 124h0M871 359h0M119 613h0M790 115h0M549 42h0M723 328h0M799 559h0M929 860h0M908 292h0M904 250h0M359 662h0M675 394h0M497 827h0M823 242h0M189 703h0M781 541h0M251 535h0M207 894h0M683 869h0M393 229h0M665 134h0M162 297h0M732 571h0M452 21h0M253 481h0M15 140h0M276 460h0M619 336h0M614 804h0M607 522h0M125 120h0M493 418h0M9 174h0M916 299h0M296 249h0M296 600h0M897 882h0M621 627h0M435 964h0M511 375h0M597 379h0M284 689h0M622 922h0M494 813h0M130 106h0M649 538h0M47 245h0M361 846h0M885 800h0M518 409h0M536 996h0M784 517h0M404 693h0M94 881h0M478 32h0M970 160h0M312 469h0M323 648h0M332 482h0M393 281h0M512 500h0M138 644h0M30 364h0M843 686h0M878 605h0M212 644h0M227 392h0M156 620h0M845 25h0M930 244h0M186 591h0M439 828h0M875 184h0M42 625h0M379 382h0M116 877h0M375 542h0M64 84h0M698 974h0M363 760h0M688 371h0M28 470h0M923 283h0M807 548h0M87 915h0M665 668h0M10 847h0M573 736h0M345 723h0M746 603h0M768 121h0M311 250h0M949 288h0M690 141h0M352 655h0M603 9h0M938 81h0M488 99h0M513 935h0M845 363h0M405 431h0M374 714h0M183 983h0M142 503h0M52 967h0M44 254h0M356 688h0M473 680h0M941 821h0M625 470h0M863 38h0M679 178h0M451 844h0M902 406h0M92 81h0M553 479h0M116 720h0M799 950h0M100 116h0M885 207h0M11 304h0M149 766h0M959 676h0M294 5h0M881 995h0M688 809h0M628 687h0M203 914h0M899 978h0M337 647h0M499 599h0M935 36h0M237 855h0M677 222h0M227 124h0M867 662h0M892 526h0M933 161h0M995 915h0M103 849h0M877 452h0M224 653h0M353 26h0M167 356h0M183 780h0M293 330h0M818 597h0M774 142h0M709 362h0M65 134h0M231 43h0M970 331h0M685 566h0M407 405h0M185 359h0M677 382h0M794 326h0M978 528h0M500 433h0M950 110h0M28 266h0M536 517h0M419 948h0M488 608h0M439 355h0M157 778h0M2 254h0M616 987h0M826 245h0M758 105h0M681 713h0M573 497h0M935 672h0M58 199h0M987 633h0M356 790h0M370 521h0M259 844h0M750 603h0M833 913h0M631 35h0M57 499h0M607 361h0M237 836h0M716 889h0M22 875h0M735 742h0M624 140h0M949 90h0M333 12h0M275 815h0M73 925h0M295 967h0M495 947h0M676 222h0M156 665h0M770 953h0M993 268h0M830 345h0M35 167h0M735 455h0M847 533h0M971 791h0M614 475h0M121 478h0M436 113h0M567 267h0M755 201h0M729 47h0M142 141h0M967 939h0M616 937h0M67 683h0M764 739h0M440 67h0M245 32h0M328 340h0M122 734h0M281 997h0M190 59h0M784 189h0M832 334h0M571 277h0M337 237h0M498 815h0M866 405h0M415 483h0M646 391h0M334 855h0M699 195h0M578 877h0M364 424h0M37 471h0M633 268h0M20 162h0M121 756h0M152 737h0M906 915h0M121 915h0M953 781h0M362 495h0M317 233h0M834 845h0M706 519h0M553 764h0M260 890h0M324 921h0M978 591h0M538 2h0M400 492h0M647 251h0M545 581h0M161 331h0M295 773h0M23 85h0M563 561h0M685 31h0M216 35h0M533 370h0M165 707h0M828 355h0M267 473h0M467 896h0M362 970h0M182 946h0M755 128h0M583 97h0M933 632h0M45 373h0M269 717h0M618 713h0M861 7h0M876 915h0M82 414h0M92 935h0M495 748h0M24 936h0M219 516h0M878 364h0M890 476h0M819 360h0M7 422h0M45 62h0M828 259h0M653 704h0M834 826h0M342 528h0M251 618h0M759 935h0M74 519h0M824 620h0M394 204h0M648 506h0M201 439h0M462 755h0M345 124h0M725 228h0M552 90h0M888 772h0M915 374h0M843 51h0M86 192h0M689 842h0M21 518h0M42 584h0M444 431h0M8 264h0M341 934h0M223 381h0M155 914h0M601 281h0M91 875h0M320 425h0M722 980h0M296 502h0M548 334h0M576 573h0M419 722h0M16 747h0M216 526h0M363 954h0M349 29h0M597 191h0M159 774h0M538 824h0M685 704h0M640 944h0M216 56h0M272 688h0M434 662h0M619 736h0M184 640h0M662 949h0M192 445h0M841 497h0M887 789h0M820 788h0M79 419h0M298 859h0M766 489h0M992 53h0M457 707h0M393 599h0M14 297h0M87 713h0M849 154h0M641 621h0M722 767h0M756 657h0M792 241h0M890 593h0M420 407h0M988 907h0M550 846h0M91 300h0M545 4h0M415 339h0M446 966h0M934 413h0M804 407h0M390 969h0M778 167h0M184 966h0M743 158h0M567 315h0M572 999h0M601 376h0M397 631h0M169 93h0M787 873h0M754 824h0M48 432h0M203 954h0M840 434h0M358 983h0M162 929h0M733 772h0M760 894h0M390 575h0M710 106h0M288 842h0M553 960h0M673 689h0M806 576h0M264 875h0M111 551h0M279 805h0M614 757h0M535 853h0M29 608h0M856 75h0M663 678h0M236 240h0M44 500h0M482 72h0M909 406h0M5 862h0M84 552h0M772 394h0M304 836h0M14 453h0M282 746h0M798 553h0M710 853h0M509 336h0M319 777h0M709 677h0M99 268h0M876 20h0M234 357h0M385 557h0M272 948h0M843 432h0M492 886h0M54 453h0M87 372h0M616 325h0M168 496h0M772 513h0M395 464h0M423 726h0M947 332h0M84 965h0M155 688h0M805 86h0M578 723h0M123 787h0M769 441h0M629 290h0M697 476h0M221 175h0M506 769h0M467 353h0M715 227h0M857 904h0M621 508h0M419 365h0M2 443h0M341 828h0M25 159h0M659 659h0M160 348h0M677 182h0M565 913h0M296 162h0M218 759h0M141 875h0M465 280h0M91 990h0M650 445h0M112 0h0M135 849h0M736 106h0M955 64h0M352 696h0M600 435h0M696 848h0M817 663h0M294 361h0M976 557h0M123 222h0M513 750h0M533 208h0M435 344h0M629 457h0M75 219h0M356 353h0M292 373h0M262 256h0M205 741h0M990 88h0M508 380h0M142 832h0M537 420h0M671 939h0M243 565h0M487 361h0M196 835h0M290 99h0M189 27h0M68 661h0M952 232h0M562 28h0M267 397h0M444 539h0M175 648h0M995 203h0M703 8h0M147 482h0M463 36h0M275 187h0M200 254h0M192 497h0M649 457h0M988 74h0M242 488h0M785 830h0M916 354h0M159 47h0M855 487h0M814 557h0M644 798h0M508 554h0M984 216h0M751 37h0M223 192h0M12 19h0M874 957h0M636 838h0M115 137h0M770 556h0M139 882h0M652 919h0M285 698h0M575 885h0M87 503h0M246 265h0M907 761h0M196 270h0M988 535h0M259 314h0M888 906h0M343 402h0M65 719h0M880 998h0M766 675h0M947 4h0M907 547h0M992 54h0M600 77h0M546 453h0M145 290h0M977 326h0M349 510h0M488 535h0M676 848h0M368 191h0M464 995h0M359 362h0M588 957h0M630 99h0M63 821h0M96 9h0M49 670h0M132 387h0M288 26h0M534 505h0M527 815h0M428 804h0M528 654h0M327 50h0M984 59h0M822 358h0M474 263h0M888 951h0M262 526h0M798 635h0M271 85h0M257 460h0M404 604h0M66 971h0M6 317h0M554 975h0M994 231h0M512 619h0M767 294h0M237 159h0M940 736h0M555 810h0M657 459h0M298 615h0M503 85h0M325 752h0M467 8h0M584 324h0M31 990h0M632 35h0M906 549h0M134 309h0M356 955h0M583 616h0M546 761h0M100 442h0M54 415h0M929 422h0M663 967h0M805 355h0M739 296h0M401 795h0M432 946h0M747 405h0M211 552h0M18 531h0M228 365h0M980 696h0M839 975h0M277 338h0M684 729h0M803 141h0M142 983h0M950 263h0M285 973h0M250 931h0M137 532h0M178 6h0M320 882h0M148 868h0M275 10h0M88 118h0M635 467h0M967 316h0M17 50h0M974 408h0M80 942h0M162 888h0M825 631h0M792 699h0M324 623h0M773 408h0M246 647h0M948 118h0M36 72h0M54 549h0M923 389h0M136 190h0M644 706h0M725 37h0M933 128h0M767 774h0M874 62h0M56 768h0M939 769h0M234 630h0M587 678h0M311 206h0M877 517h0M517 296h0M543 432h0M386 313h0M598 230h0M14 199h0M566 642h0M610 494h0M178 269h0M248 685h0M131 278h0M743 222h0M117 337h0M738 692h0M310 406h0M359 520h0M876 477h0M106 850h0M811 696h0M387 17h0M338 677h0M833 571h0M746 270h0M486 403h0M620 562h0M589 863h0M474 626h0M641 934h0M337 342h0M227 819h0M642 48h0M23 715h0M551 169h0M966 715h0M183 157h0M570 514h0M970 677h0M50 147h0M449 730h0M288 363h0M750 632h0M138 69h0M572 259h0M321 813h0M458 570h0M128 503h0M307 749h0M762 878h0M370 381h0M533 545h0M445 306h0M774 747h0M717 546h0M714 897h0M739 938h0M81 208h0M387 533h0M679 253h0M787 788h0M317 719h0M126 79h0M110 469h0M896 136h0M833 736h0M110 856h0M260 583h0M903 253h0M751 972h0M682 819h0M917 293h0M795 863h0M875 341h0M881 618h0M245 220h0M24 121h0M716 962h0M897 775h0M993 510h0M634 995h0M432 213h0M241 448h0M608 241h0M893 178h0M933 451h0M855 966h0M147 386h0M402 503h0M417 84h0M95 750h0M15 582h0M62 637h0M128 235h0M739 687h0M202 624h0M817 582h0M172 723h0M128 244h0M675 942h0M329 927h0M474 758h0M790 153h0M442 957h0M191 158h0M74 173h0M408 457h0M380 461h0M769 232h0M538 52h0M428 228h0M961 598h0M608 376h0M292 226h0M833 595h0M671 818h0M630 741h0M774 16h0M230 575h0M229 470h0M870 425h0M944 508h0M461 150h0M328 681h0M553 960h0M426 228h0M811 279h0M235 133h0M584 393h0M8 287h0M780 692h0M741 298h0M798 469h0M775 630h0M524 31h0M948 839h0M297 950h0M96 438h0M685 663h0M212 618h0M490 671h0M515 63h0M719 857h0M635 995h0M794 928h0M852 922h0M487 774h0M266 332h0M163 169h0M309 450h0M265 829h0M945 250h0M367 10h0M833 812h0M637 526h0M316 797h0M666 45h0M668 809h0M227 243h0M890 821h0M694 941h0M383 152h0M471 176h0M586 659h0M45 384h0M767 73h0M709 264h0M427 156h0M676 329h0M214 910h0M331 458h0M853 988h0M492 682h0M520 302h0M761 420h0M709 461h0M360 32h0M282 131h0M847 422h0M286 868h0M144 371h0M36 677h0M791 186h0M960 234h0M80 411h0M219 325h0M583 347h0M602 913h0M835 773h0M544 752h0M193 134h0M232 977h0M518 614h0M545 298h0M395 75h0M431 366h0M102 474h0M459 352h0M384 730h0M876 872h0M950 730h0M100 709h0M523 920h0M698 499h0M896 621h0M327 390h0M526 117h0M375 38h0M381 214h0M494 535h0M605 487h0M660 127h0M778 306h0M496 113h0M797 424h0M636 976h0M991 477h0M119 19h0M481 158h0M296 740h0M799 468h0M658 306h0M415 736h0M997 901h0M526 120h0M388 869h0M916 903h0M595 55h0M480 223h0M788 413h0M843 994h0M145 469h0M672 436h0M975 913h0M460 632h0M618 166h0M24 20h0M600 685h0M787 609h0M430 538h0M157 172h0M50 197h0M15 645h0M38 878h0M779 474h0M840 181h0M44 124h0M378 287h0M786 208h0M643 781h0M412 512h0M463 423h0M946 651h0M378 86h0M480 313h0M812 703h0M844 528h0M408 971h0M551 594h0M871 811h0M399 417h0M716 198h0M893 500h0M472 474h0M564 970h0M940 425h0M245 818h0M690 376h0M537 87h0M404 602h0M677 56h0M985 611h0M107 752h0M241 702h0M210 424h0M37 23h0M931 467h0M328 888h0M365 651h0M391 449h0M12 41h0M866 322h0M372 398h0M799 749h0M414 188h0M56 354h0M434 155h0M938 532h0M437 430h0M92 146h0M642 777h0M959 491h0M841 693h0M647 763h0M142 872h0M699 76h0M759 731h0M813 180h0M31 927h0M79 353h0M313 664h0M411 928h0M363 800h0M743 577h0M589 715h0M600 179h0M666 282h0M831 272h0M174 237h0M861 542h0M169 418h0M107 797h0M314 859h0M630 116h0M156 351h0M945 589h0M458 721h0M569 741h0M482 916h0M987 507h0M810 836h0M30 631h0M837 309h0M472 554h0M584 774h0M123 89h0M347 485h0M89 849h0M216 619h0M53 29h0M512 452h0M177 576h0M295 338h0M354 142h0M656 887h0M358 806h0M770 647h0M111 588h0M785 594h0M951 699h0M352 83h0M556 759h0M394 761h0M842 604h0M282 381h0M293 687h0M435 404h0M588 106h0M310 603h0M263 774h0M633 84h0M175 920h0M97 399h0M373 261h0M106 772h0M452 85h0M713 502h0M906 896h0M64 517h0M651 572h0M928 746h0M22 245h0M529 846h0M352 924h0M334 458h0M164 804h0M85 567h0M21 275h0M679 164h0M770 271h0M560 867h0M963 144h0M165 19h0M377 116h0M508 718h0M283 757h0M799 161h0M625 512h0M495 160h0M633 122h0M200 385h0M123 559h0M300 204h0M600 896h0M769 606h0M358 366h0M348 200h0M178 135h0M588 550h0M776 534h0M479 179h0M527 30h0M827 541h0M321 576h0M531 208h0M702 675h0M490 808h0M381 231h0M180 76h0M574 771h0M552 827h0M432 711h0M333 584h0M884 632h0M669 476h0M121 286h0M67 351h0M891 336h0M856 722h0M130 363h0M47 601h0M876 143h0M797 482h0M386 551h0M520 47h0M500 531h0M992 81h0M386 720h0M489 316h0M688 418h0M208 862h0M128 673h0M149 389h0M475 513h0M542 139h0M970 19h0M547 412h0M280 34h0M289 541h0M454 687h0M787 909h0M601 687h0M80 643h0M845 939h0M263 160h0M72 558h0M401 884h0M466 45h0M423 281h0M89 336h0M344 715h0M7 14h0M773 397h0M998 387h0M322 755h0M445 844h0M735 40h0M432 245h0M810 468h0M235 186h0M131 692h0M537 64h0M941 482h0M54 372h0M420 797h0M507 87h0M80 147h0M740 388h0M283 424h0M303 288h0M719 428h0M964 100h0M422 680h0M772 953h0M180 845h0M399 147h0M444 887h0M652 216h0M636 345h0M488 644h0M777 151h0M683 867h0M376 689h0M679 873h0M549 134h0M625 799h0M631 146h0M858 744h0M820 286h0M437 802h0M508 546h0M220 527h0M985 111h0M158 102h0M823 954h0M471 34h0M901 227h0M928 586h0M46 635h0M352 478h0M231 949h0M120 338h0M913 173h0M307 371h0M776 224h0M349 504h0M510 572h0M674 922h0M883 337h0M318 902h0M172 905h0M523 289h0M218 103h0M72 626h0M961 576h0M743 997h0M680 286h0M430 390h0M527 347h0M145 332h0M416 665h0M680 570h0M887 291h0M963 289h0M588 74h0M756 27h0M465 773h0M189 958h0M557 327h0M529 613h0M151 546h0M573 991h0M518 254h0M169 227h0M467 74h0M807 935h0M191 909h0M2 569h0M731 227h0M510 703h0M623 826h0M160 355h0M226 866h0M808 642h0M697 813h0M981 806h0M781 228h0M124 632h0M584 323h0M850 670h0M445 928h0M748 728h0M907 49h0M249 441h0M171 175h0M120 412h0M422 630h0M319 842h0M516 863h0M125 546h0M689 426h0M376 959h0M742 972h0M800 154h0M344 903h0M541 51h0M761 262h0M921 532h0M695 215h0M450 530h0M123 469h0M682 725h0M940 673h0M817 333h0M126 44h0M683 33h0M316 746h0M470 469h0M404 378h0M939 424h0M553 334h0M417 593h0M93 151h0M221 867h0M701 948h0M597 294h0M283 164h0M721 557h0M105 464h0M379 443h0M96 320h0M848 133h0M32 386h0M757 125h0M840 190h0M247 25h0M91 755h0M57 881h0M467 696h0M134 183h0M791 500h0M85 817h0M255 427h0M199 640h0M190 20h0M946 187h0M979 31h0M430 140h0M128 499h0M106 329h0M822 561h0M418 897h0M571 795h0M943 256h0M109 110h0M997 684h0M517 54h0M587 480h0M557 482h0M769 187h0M142 628h0M988 116h0M769 164h0M544 441h0M729 349h0M958 751h0M765 317h0M270 709h0M412 957h0M861 406h0M758 263h0M926 581h0M129 233h0M434 469h0M854 805h0M963 635h0M244 0h0M532 624h0M254 629h0M862 671h0M684 960h0M434 276h0M510 989h0M312 54h0M760 117h0M855 91h0M697 795h0M856 875h0M201 239h0M651 398h0M338 172h0M685 916h0M257 790h0M267 601h0M788 412h0M520 322h0M750 450h0M218 916h0M133 806h0M940 546h0M777 646h0M528 652h0M635 870h0M627 403h0M473 722h0M257 77h0M894 951h0M694 750h0M631 322h0M104 766h0M779 821h0M694 815h0M269 222h0M27 50h0M446 293h0M332 448h0M892 622h0M439 120h0M749 398h0M613 396h0M564 729h0M649 836h0M6 625h0M515 678h0M457 675h0M521 691h0M818 299h0M908 507h0M633 2h0M666 489h0M177 583h0M381 837h0M531 253h0M216 557h0M868 887h0M358 462h0M512 892h0M700 911h0M244 749h0M758 165h0M521 193h0M293 278h0M890 489h0M264 346h0M897 174h0M960 975h0M771 705h0M369 843h0M903 756h0M638 529h0M610 753h0M750 659h0M381 433h0M269 213h0M410 509h0M897 538h0M937 699h0M414 146h0M583 397h0M924 694h0M549 735h0M571 318h0M593 845h0M459 620h0M63 517h0M721 612h0M231 144h0M854 614h0M172 358h0M649 514h0M329 966h0M114 2h0M207 596h0M265 261h0M396 315h0M454 441h0M282 368h0M380 978h0M575 115h0M600 182h0M322 521h0M470 576h0M619 627h0M560 226h0M588 193h0M387 577h0M506 475h0M826 254h0M138 107h0M423 50h0M975 784h0M282 425h0M926 195h0M445 721h0M322 399h0M923 833h0M531 776h0M458 642h0M661 102h0M152 442h0M968 384h0M168 810h0M836 306h0M565 454h0M630 257h0M674 48h0M283 234h0M269 116h0M462 985h0M648 470h0M237 664h0M187 45h0M342 832h0M192 876h0M116 777h0M844 67h0M25 988h0M638 559h0M332 512h0M506 29h0M509 223h0M81 212h0M381 626h0M172 913h0M191 897h0M288 273h0M436 389h0M240 311h0M363 892h0M454 737h0M477 457h0M714 223h0M241 348h0M872 767h0M409 202h0M153 423h0M797 512h0M814 363h0M536 643h0M187 951h0M353 238h0M436 864h0M962 343h0M191 299h0M691 531h0M918 48h0M899 936h0M401 563h0M30 894h0M345 939h0M142 778h0M325 645h0M157 490h0M375 747h0M788 247h0M202 543h0M269 565h0M980 332h0M998 464h0M508 847h0M891 282h0M660 913h0M988 263h0M574 801h0M188 278h0M563 370h0M433 843h0M122 697h0M33 435h0M325 981h0M861 949h0M152 528h0M815 864h0M818 439h0M521 902h0M195 725h0M801 759h0M299 435h0M409 885h0M417 821h0M38 160h0M683 177h0M207 475h0M990 597h0M785 263h0M536 940h0M356 269h0M641 352h0M265 656h0M689 453h0M984 707h0M558 210h0M843 895h0M909 126h0M374 283h0M277 305h0M728 804h0M667 187h0M876 936h0M335 624h0M449 655h0M884 735h0M911 321h0M957 651h0M615 185h0M518 152h0M85 119h0M903 954h0M631 150h0M37 51h0M324 557h0M755 39h0M535 823h0M345 858h0M538 262h0M715 164h0M425 305h0M965 241h0M452 352h0M766 565h0M554 519h0M55 480h0M476 325h0M164 17h0M465 977h0M568 693h0M907 531h0M801 160h0M196 667h0M669 709h0M206 174h0M301 311h0M39 97h0M161 316h0M277 480h0M378 51h0M610 3h0M645 587h0M283 444h0M189 145h0M118 802h0M796 732h0M600 860h0M907 863h0M669 511h0M752 345h0M180 802h0M284 603h0M932 716h0M923 968h0M295 774h0M900 345h0M899 667h0M103 257h0M618 977h0M21 607h0M849 824h0M135 428h0M85 64h0M310 189h0M843 716h0M165 752h0M569 869h0M530 173h0M793 836h0M681 387h0M166 127h0M143 251h0M309 27h0M414 842h0M179 313h0M377 478h0M424 585h0M327 101h0M40 565h0M24 833h0M685 754h0M445 872h0M7 513h0M494 590h0M22 343h0M173 612h0M701 898h0M175 565h0M190 707h0M693 280h0M572 759h0M461 578h0M995 284h0M67 634h0M381 472h0M954 938h0M786 979h0M286 995h0M50 942h0M720 882h0M687 316h0M775 785h0M574 709h0M876 993h0M954 19h0M712 239h0M879 143h0M377 173h0M514 890h0M755 897h0M998 421h0M459 710h0M251 860h0M891 687h0M765 640h0M290 922h0M4 725h0M150 737h0M206 203h0M760 351h0M294 526h0M727 506h0M974 687h0M472 470h0M430 797h0M980 667h0M230 743h0M668 775h0M896 998h0M664 27h0M983 665h0M736 916h0M644 639h0M959 896h0M197 966h0M254 580h0M837 160h0M583 32h0M48 430h0M731 998h0M527 964h0M165 538h0M435 819h0M941 817h0M519 231h0M311 106h0M912 136h0M902 418h0M425 21h0M623 262h0M910 810h0M222 72h0M930 639h0M181 713h0M260 184h0M787 759h0M80 104h0M27 513h0M289 823h0M616 900h0M952 928h0M69 223h0M670 701h0M587 592h0M162 413h0M458 664h0M249 357h0M30 652h0M214 511h0M340 130h0M377 322h0M883 602h0M222 962h0M927 544h0M786 927h0M33 789h0M699 928h0M776 693h0M239 168h0M806 51h0M366 304h0M90 962h0M496 999h0M975 308h0M716 252h0M22 89h0M429 488h0M125 251h0M766 875h0M330 372h0M987 461h0M102 700h0M562 325h0M328 681h0M329 284h0M766 585h0M614 320h0M330 642h0M167 160h0M55 441h0M709 704h0M192 48h0M748 647h0M317 680h0M138 796h0M889 86h0M425 560h0M269 454h0M863 147h0M429 795h0M659 628h0M370 936h0M701 603h0M576 359h0M539 495h0M634 848h0M126 15h0M300 679h0M537 72h0M206 668h0M8 242h0M316 879h0M36 304h0M37 732h0M894 722h0M379 816h0M201 756h0M962 297h0M22 348h0M425 17h0M605 615h0M123 444h0M205 464h0M151 315h0M879 697h0M59 134h0M480 436h0M856 316h0M292 26h0M506 686h0M714 928h0M280 467h0M614 586h0M911 43h0M886 458h0M19 89h0M975 941h0M335 312h0M886 234h0M523 791h0M907 550h0M28 768h0M519 239h0M898 664h0M755 60h0M631 181h0M108 386h0M754 15h0M35 604h0M569 564h0M472 698h0M602 52h0M360 802h0M798 797h0M135 680h0M866 413h0M697 596h0M457 772h0M410 786h0M916 432h0M521 871h0M580 979h0M722 474h0M219 548h0M763 518h0M579 535h0M394 937h0M85 391h0M123 588h0M643 504h0M114 181h0M933 10h0M352 213h0M229 288h0M601 864h0M822 778h0M700 493h0M571 952h0M938 609h0M195 958h0M365 482h0M819 706h0M913 466h0M670 496h0M145 605h0M141 542h0M400 695h0M30 835h0M511 242h0M663 860h0M23 499h0M122 616h0M432 50h0M554 880h0M162 116h0M807 27h0M632 599h0M796 244h0M471 368h0M138 265h0M840 156h0M570 476h0M199 240h0M985 654h0M457 169h0M857 719h0M162 400h0M620 541h0M543 198h0M881 786h0M961 92h0M705 346h0M28 676h0M906 718h0M703 758h0M786 646h0M679 745h0M595 494h0M631 398h0M217 441h0M590 969h0M859 148h0M312 420h0M142 349h0M799 827h0M476 907h0M58 422h0M474 360h0M920 861h0M382 159h0M404 72h0M802 517h0M127 678h0M39 438h0M891 803h0M930 372h0M666 541h0M451 71h0M278 902h0M475 718h0M860 212h0M524 106h0M424 958h0M210 717h0M123 946h0M392 613h0M354 152h0M526 395h0M304 8h0M228 909h0M922 184h0M261 878h0M728 883h0M184 438h0M450 112h0M778 552h0M252 932h0M631 162h0M705 663h0M441 184h0M316 610h0M310 356h0M820 659h0M24 476h0M252 605h0M237 780h0M870 244h0M627 538h0M882 483h0M753 439h0M250 743h0M680 815h0M162 706h0M738 264h0M594 550h0M484 325h0M397 249h0M707 73h0M237 992h0M21 762h0M746 609h0M482 534h0M923 423h0M649 583h0M752 379h0M618 812h0M30 985h0M293 703h0M204 809h0M878 138h0M313 50h0M452 899h0M394 107h0M866 911h0M378 557h0M860 836h0M189 53h0M209 347h0M332 438h0M74 534h0M358 80h0M809 499h0M991 160h0M782 513h0M730 546h0M928 322h0M24 926h0M916 309h0M853 963h0M66 822h0M371 512h0M188 411h0M45 314h0M612 898h0M458 573h0M50 980h0M459 469h0M607 70h0M296 462h0M341 179h0M579 565h0M743 575h0M584 220h0M86 60h0M275 897h0M362 237h0M198 427h0M729 208h0M342 42h0M878 649h0M103 43h0M636 336h0M664 736h0M155 89h0M210 823h0M846 541h0M501 900h0M72 479h0M854 967h0M993 860h0M294 555h0M755 793h0M937 433h0M988 981h0M755 180h0M319 937h0M444 773h0M117 840h0M644 566h0M58 699h0M315 256h0M512 941h0M528 748h0M278 140h0M504 744h0M99 222h0M680 323h0M859 663h0M441 824h0M238 960h0M878 754h0M899 592h0M688 459h0M533 89h0M726 307h0M745 979h0M614 557h0M526 786h0M500 848h0M191 751h0M874 278h0M220 176h0M83 131h0M737 947h0M112 422h0M761 63h0M729 169h0M823 424h0M295 734h0M787 46h0M375 684h0M591 952h0M824 126h0M320 894h0M325 308h0M500 542h0M556 537h0M504 252h0M16 406h0M404 470h0M877 287h0M534 60h0M211 781h0M356 250h0M569 401h0M391 755h0M979 124h0M802 19h0M193 134h0M809 473h0M910 296h0M280 856h0M742 816h0M233 186h0M58 674h0M322 158h0M962 701h0M616 430h0M416 424h0M534 962h0M352 292h0M864 14h0M715 454h0M631 93h0M138 362h0M217 403h0M416 848h0M681 153h0M369 710h0M395 40h0M678 837h0M832 173h0M441 951h0M948 926h0M286 523h0M594 499h0M916 95h0M740 506h0M701 64h0M190 433h0M947 94h0M214 412h0M345 99h0M72 656h0M746 587h0M856 659h0M260 780h0M315 4h0M940 201h0M569 868h0M743 299h0M266 271h0M757 148h0M207 215h0M50 938h0M356 52h0M30 9h0M589 992h0M780 382h0M566 901h0M871 250h0M253 102h0M895 775h0M532 424h0M470 836h0M816 231h0M668 262h0M55 136h0M478 185h0M276 828h0M348 234h0M216 422h0M26 953h0M380 340h0M726 937h0M402 765h0M856 236h0M775 980h0M566 627h0M147 463h0M153 934h0M90 60h0M829 749h0M397 138h0M476 460h0M55 412h0M380 333h0M392 710h0M999 630h0M915 275h0M875 377h0M66 611h0M81 790h0M38 251h0M316 777h0M266 517h0M490 672h0M879 118h0M161 635h0M843 714h0M478 559h0M921 840h0M296 248h0M373 189h0M23 118h0M315 900h0M569 117h0M848 332h0M320 596h0M450 326h0M485 638h0M855 87h0M569 806h0M648 156h0M966 538h0M959 545h0M909 483h0M225 265h0M859 838h0M606 163h0M187 876h0M463 534h0M73 265h0M6 704h0M729 635h0M601 906h0M521 305h0M954 529h0M393 274h0M173 871h0M600 515h0M923 133h0M970 719h0M138 961h0M419 512h0M443 215h0M851 513h0M106 702h0M943 296h0M202 292h0M331 800h0M363 231h0M787 626h0M869 311h0M679 888h0M694 722h0M162 988h0M35 928h0M579 468h0M572 305h0M603 816h0M581 831h0M57 571h0M853 639h0M276 282h0M805 665h0M882 174h0M564 80h0M989 322h0M71 883h0M315 182h0M262 303h0M590 429h0M613 167h0M149 929h0M578 567h0M37 65h0M853 129h0M294 902h0M182 414h0M744 612h0M548 895h0M941 354h0M87 874h0M992 682h0M643 220h0M698 390h0M554 447h0M81 806h0M456 765h0M295 757h0M510 848h0M907 230h0M642 759h0M733 653h0M263 407h0M732 334h0M246 180h0M59 922h0M960 404h0M274 812h0M165 843h0M35 135h0M628 12h0M13 284h0M567 358h0M460 975h0M156 520h0M727 209h0M641 300h0M87 248h0M178 735h0M359 291h0M691 38h0M865 388h0M540 286h0M234 630h0M745 803h0M762 833h0M868 216h0M678 257h0M310 160h0M588 929h0M376 327h0M955 894h0M996 455h0M990 256h0M819 8h0M946 329h0M242 93h0M826 851h0M33 196h0M454 690h0M259 413h0M756 715h0M587 371h0M320 117h0M111 399h0M366 479h0M957 890h0M638 465h0M888 908h0M652 141h0M248 496h0M584 870h0M838 22h0M175 946h0M51 782h0M976 752h0M289 494h0M811 407h0M409 539h0M37 443h0M864 26h0M949 285h0M12 890h0M234 887h0M473 872h0M393 834h0M247 261h0M52 273h0M885 28h0M86 164h0M770 464h0M664 490h0M488 327h0M176 85h0M276 765h0M681 111h0M205 38h0M47 304h0M251 273h0M90 564h0M89 211h0M854 725h0M759 854h0M807 799h0M93 597h0M707 568h0M124 94h0M21 173h0M924 842h0M159 192h0M496 293h0M169 500h0M298 269h0M900 180h0M437 221h0M611 882h0M820 376h0M195 385h0M887 446h0M408 275h0M925 608h0M132 387h0M188 330h0M122 869h0M8 556h0M369 755h0M84 663h0M503 327h0M126 710h0M539 199h0M786 123h0M66 69h0M212 954h0M277 659h0M336 409h0M922 416h0M10 292h0M422 363h0M701 145h0M721 5h0M523 423h0M145 23h0M467 126h0M306 798h0M425 139h0M76 733h0M648 290h0M847 254h0M594 949h0M589 292h0M366 925h0M901 207h0M873 863h0M761 387h0M23 57h0M453 882h0M342 319h0M407 40h0M303 466h0M115 629h0M789 349h0M90 506h0M274 713h0M628 452h0M286 647h0M650 859h0M953 372h0M365 427h0M972 232h0M604 597h0M862 724h0M757 318h0M157 811h0M856 456h0M790 434h0M553 281h0M158 989h0M341 666h0M720 55h0M131 952h0M325 898h0M68 927h0M596 608h0M153 131h0M59 64h0M541 454h0M660 523h0M146 865h0M124 972h0M453 225h0M807 968h0M296 140h0M200 815h0M510 986h0M910 363h0M829 822h0M345 224h0M449 82h0M634 225h0M824 253h0M892 124h0M697 909h0M6 127h0M992 759h0M602 853h0M471 51h0M655 966h0M307 168h0M833 160h0M211 222h0M72 843h0M549 760h0M781 343h0M209 563h0M940 711h0M239 574h0M313 557h0M362 638h0M582 26h0M809 641h0M607 801h0M417 770h0M862 438h0M844 809h0M404 671h0M567 952h0M697 105h0M307 468h0M66 733h0M105 538h0M379 583h0M48 732h0M465 886h0M149 950h0M717 51h0M785 235h0M129 959h0M79 673h0M833 484h0M294 406h0M746 28h0M978 795h0M645 501h0M748 812h0M383 980h0M993 822h0M503 279h0M214 188h0M226 706h0M185 109h0M244 242h0M536 78h0M584 685h0M233 754h0M772 824h0M937 140h0M750 337h0M788 773h0M955 103h0M750 789h0M496 747h0M177 440h0M832 866h0M406 797h0M199 254h0M333 388h0M388 784h0M86 590h0M268 460h0M396 1h0M20 805h0M147 523h0M356 379h0M425 373h0M451 468h0M448 113h0M742 374h0M509 493h0M948 895h0M151 530h0M312 77h0M493 397h0M385 935h0M269 336h0M130 428h0M445 235h0M954 802h0M799 303h0M273 125h0M448 264h0M24 261h0M985 48h0M366 236h0M314 645h0M156 56h0M703 577h0M0 767h0M397 571h0M345 530h0M995 159h0M382 14h0M435 149h0M746 91h0M593 789h0M847 485h0M944 454h0M576 769h0M452 288h0M628 67h0M662 747h0M430 438h0M171 764h0M514 598h0M90 295h0M818 933h0M222 223h0M6 616h0M668 348h0M993 872h0M331 995h0M0 329h0M52 824h0M671 152h0M193 870h0M659 133h0M851 766h0M497 458h0M906 712h0M607 881h0M453 87h0M877 603h0M911 327h0M250 315h0M165 394h0M431 561h0M660 341h0M48 967h0M418 326h0M618 898h0M529 452h0M553 240h0M656 767h0M806 631h0M267 921h0M441 724h0M915 640h0M654 299h0M632 452h0M701 271h0M543 728h0M648 696h0M597 536h0M5 937h0M314 603h0M43 132h0M220 804h0M838 368h0M999 796h0M339 570h0M680 779h0M928 90h0M806 825h0M135 50h0M89 354h0M148 689h0M217 799h0M568 296h0M574 846h0M951 479h0M165 205h0M465 965h0M724 529h0M247 105h0M24 242h0M422 353h0M437 851h0M490 938h0M504 133h0M161 645h0M270 526h0M539 214h0M726 856h0M967 191h0M137 487h0M109 851h0M689 610h0M85 820h0M809 98h0" fill="none" stroke-width="0.85" stroke-linecap="square" vector-effect="non-scaling-stroke"/><path id="d2" d="M311 762h0M306 822h0M454 128h0M872 239h0M651 471h0M786 350h0M999 640h0M896 16h0M995 516h0M412 114h0M987 961h0M473 813h0M681 265h0M602 768h0M0 302h0M596 824h0M979 818h0M632 249h0M368 40h0M970 136h0M11 694h0M232 948h0M651 714h0M936 983h0M116 999h0M810 791h0M296 643h0M658 522h0M643 890h0M38 222h0M930 885h0M982 637h0M585 646h0M574 262h0M37 574h0M619 773h0M763 737h0M55 196h0M884 82h0M699 580h0M325 488h0M38 500h0M79 91h0M246 295h0M378 624h0M552 878h0M340 527h0M507 842h0M433 28h0M608 186h0M247 396h0M443 442h0M734 241h0M165 632h0M624 562h0M473 812h0M879 314h0M111 524h0M114 718h0M758 541h0M430 806h0M803 657h0M434 196h0M527 216h0M800 963h0M80 494h0M455 585h0M559 692h0M790 158h0M981 2h0M398 525h0M873 481h0M303 858h0M688 66h0M255 116h0M142 759h0M295 546h0M505 144h0M171 406h0M725 153h0M705 451h0M278 418h0M538 715h0M706 508h0M24 764h0M211 784h0M419 275h0M402 682h0M134 634h0M105 924h0M39 632h0M521 4h0M956 746h0M127 839h0M704 645h0M832 768h0M748 576h0M129 686h0M430 481h0M306 627h0M22 975h0M197 536h0M183 247h0M830 561h0M193 311h0M79 265h0M187 358h0M152 737h0M847 63h0M196 154h0M624 660h0M364 262h0M193 680h0M516 250h0M710 210h0M731 167h0M944 453h0M39 666h0M296 453h0M374 879h0M669 784h0M559 363h0M627 325h0M318 850h0M254 644h0M485 499h0M630 495h0M847 428h0M755 364h0M845 287h0M573 676h0M614 413h0M491 84h0M727 139h0M94 953h0M365 45h0M296 256h0M595 846h0M667 600h0M246 769h0M648 153h0M641 981h0M786 775h0M957 708h0M433 571h0M156 408h0M429 557h0M267 476h0M210 190h0M80 630h0M618 202h0M502 627h0M564 213h0M714 964h0M917 404h0M266 115h0M46 996h0M1 181h0M253 813h0M539 112h0M20 933h0M556 176h0M602 927h0M935 498h0M384 960h0M606 458h0M609 175h0M328 742h0M116 407h0M763 443h0M152 591h0M459 701h0M657 875h0M281 267h0M264 660h0M212 820h0M516 764h0M229 490h0M90 830h0M317 801h0M358 488h0M298 522h0M656 643h0M957 756h0M896 544h0M587 391h0M647 242h0M771 638h0M983 178h0M450 797h0M642 361h0M133 99h0M823 795h0M638 119h0M574 819h0M982 861h0M724 793h0M897 224h0M958 831h0M905 864h0M65 922h0M939 772h0M30 683h0M25 38h0M329 602h0M683 194h0M151 464h0M292 125h0M967 656h0M164 913h0M521 657h0M8 29h0M381 176h0M691 209h0M56 28h0M2 603h0M144 343h0M358 908h0M191 402h0M164 994h0M631 477h0M514 224h0M29 971h0M275 259h0M430 729h0M562 972h0M393 470h0M962 558h0M1 446h0M149 675h0M986 548h0M675 409h0M638 539h0M560 412h0M763 282h0M422 574h0M768 836h0M771 578h0M910 423h0M783 758h0M437 694h0M823 762h0M606 684h0M716 300h0M107 687h0M633 267h0M91 465h0M294 264h0M39 179h0M328 525h0M387 579h0M609 524h0M79 857h0M843 739h0M206 461h0M863 539h0M82 517h0M631 411h0M45 34h0M873 905h0M229 353h0M138 878h0M253 351h0M4 916h0M745 632h0M333 781h0M548 418h0M701 952h0M229 471h0M556 18h0M993 315h0M151 125h0M519 813h0M792 212h0M845 527h0M672 280h0M290 617h0M864 819h0M937 360h0M554 878h0M603 83h0M248 512h0M12 827h0M953 892h0M449 934h0M816 125h0M167 462h0M555 511h0M383 110h0M52 777h0M942 268h0M973 645h0M446 507h0M312 531h0M103 989h0M514 254h0M15 848h0M365 801h0M877 942h0M64 136h0M405 388h0M139 51h0M260 89h0M542 835h0M974 428h0M794 458h0M136 973h0M402 960h0M142 566h0M291 58h0M427 999h0M928 43h0M925 582h0M514 908h0M465 315h0M787 501h0M768 211h0M292 309h0M876 268h0M171 859h0M403 757h0M787 95h0M34 614h0M441 810h0M496 876h0M839 541h0M969 872h0M795 847h0M921 110h0M682 581h0M162 39h0M181 917h0M689 837h0M255 957h0M80 91h0M195 589h0M988 980h0M706 726h0M868 209h0M764 960h0M805 396h0M858 613h0M748 930h0M631 933h0M40 936h0M677 133h0M985 851h0M942 53h0M485 8h0M168 318h0M174 962h0M777 50h0M185 418h0M877 421h0M797 121h0M899 301h0M126 786h0M12 515h0M303 528h0M607 54h0M162 143h0M349 669h0M545 3h0M896 279h0M765 419h0M132 889h0M362 707h0M655 66h0M212 568h0M454 87h0M141 918h0M353 520h0M727 993h0M957 305h0M606 728h0M670 932h0M764 83h0M122 278h0M270 464h0M725 411h0M434 875h0M98 693h0M552 823h0M832 351h0M35 969h0M251 160h0M353 104h0M513 851h0M87 147h0M36 332h0M979 912h0M909 485h0M879 441h0M466 821h0M756 900h0M402 747h0M721 703h0M522 949h0M639 922h0M476 536h0M860 660h0M961 574h0M331 556h0M402 350h0M886 994h0M668 748h0M336 891h0M230 629h0M285 154h0M151 853h0M669 94h0M843 410h0M900 329h0M61 801h0M186 937h0M573 942h0M23 84h0M81 424h0M913 425h0M313 942h0M795 340h0M212 142h0M543 602h0M429 450h0M347 192h0M132 562h0M360 471h0M981 665h0M614 980h0M48 170h0M842 944h0M243 560h0M324 872h0M577 306h0M19 50h0M522 39h0M38 939h0M124 435h0M118 554h0M183 678h0M230 997h0M73 215h0M58 712h0M890 153h0M566 475h0M711 38h0M110 167h0M247 602h0M141 894h0M109 88h0M608 284h0M731 338h0M274 620h0M626 450h0M547 858h0M312 623h0M565 806h0M614 688h0M139 808h0M247 833h0M131 747h0M459 47h0M917 995h0M567 372h0M468 432h0M424 746h0M37 397h0M190 492h0M596 516h0M551 512h0M101 737h0M24 210h0M884 774h0M247 88h0M197 270h0M120 26h0M349 199h0M308 54h0M287 311h0M172 344h0M987 178h0M688 82h0M949 928h0M352 122h0M364 350h0M314 201h0M487 956h0M689 381h0M405 132h0M974 897h0M474 482h0M19 534h0M182 132h0M292 334h0M64 559h0M892 367h0M572 699h0M858 415h0M913 344h0M252 190h0M248 726h0M849 585h0M635 253h0M692 886h0M157 47h0M91 134h0M648 825h0M330 717h0M491 469h0M47 360h0M93 390h0M536 943h0M391 851h0M793 288h0M833 909h0M335 635h0M538 252h0M246 797h0M36 716h0M75 253h0M805 318h0M616 833h0M631 687h0M514 785h0M242 515h0M228 31h0M474 807h0M794 591h0M775 480h0M106 299h0M694 690h0M488 479h0M300 674h0M388 885h0M551 856h0M512 528h0M838 74h0M461 90h0M98 380h0M619 910h0M165 339h0M617 669h0M433 738h0M292 112h0M908 558h0M576 309h0M783 6h0M65 693h0M383 524h0M945 512h0M13 117h0M785 144h0M586 34h0M557 738h0M434 259h0M951 399h0M191 874h0M351 750h0M354 470h0M338 184h0M215 211h0M504 964h0M458 404h0M358 67h0M280 819h0M971 234h0M175 205h0M425 523h0M507 213h0M910 879h0M719 250h0M454 752h0M21 976h0M206 290h0M858 832h0M963 405h0M321 20h0M56 219h0M767 169h0M345 398h0M384 861h0M341 145h0M415 210h0M209 281h0M900 378h0M4 109h0M752 855h0M227 106h0M466 999h0M973 430h0M0 773h0M986 114h0M594 594h0M826 683h0M292 608h0M104 903h0M21 106h0M310 31h0M373 122h0M577 591h0M71 540h0M570 303h0M275 394h0M422 281h0M26 940h0M296 678h0M991 360h0M187 47h0M997 949h0M460 957h0M336 802h0M975 444h0M494 641h0M894 697h0M615 48h0M48 439h0M48 171h0M895 494h0M97 437h0M521 314h0M459 478h0M47 627h0M390 793h0M465 347h0M309 71h0M795 739h0M109 501h0M942 249h0M966 292h0M439 146h0M304 813h0M338 488h0M817 219h0M242 751h0M182 274h0M609 211h0M325 86h0M358 452h0M426 57h0M945 40h0M898 462h0M534 972h0M241 589h0M244 191h0M452 557h0M213 79h0M551 924h0M99 784h0M755 928h0M327 119h0M756 481h0M592 849h0M168 480h0M54 222h0M195 604h0M761 958h0M544 808h0M404 243h0M980 740h0M431 55h0M291 176h0M13 662h0M149 241h0M634 344h0M609 268h0M720 602h0M821 891h0M719 844h0M256 378h0M565 334h0M749 628h0M272 685h0M880 961h0M507 124h0M839 352h0M217 234h0M35 118h0M670 806h0M121 793h0M418 102h0M562 974h0M90 838h0M789 399h0M209 135h0M926 259h0M672 68h0M954 405h0M666 296h0M562 649h0M935 168h0M491 929h0M846 793h0M837 625h0M327 163h0M83 266h0M829 279h0M663 669h0M272 376h0M592 663h0M379 175h0M940 567h0M195 798h0M107 675h0M486 130h0M672 241h0M904 380h0M114 23h0M327 947h0M943 938h0M729 402h0M888 537h0M263 869h0M296 461h0M794 696h0M173 657h0M79 795h0M774 791h0M822 404h0M598 526h0M321 123h0M796 488h0M36 470h0M425 37h0M458 783h0M723 276h0M737 359h0M264 93h0M995 271h0M186 596h0M540 702h0M280 756h0M571 237h0M688 101h0M982 989h0M65 519h0M608 530h0M592 374h0M830 443h0M898 112h0M192 258h0M291 983h0M20 534h0M269 409h0M368 221h0M596 68h0M145 999h0M556 174h0M633 581h0M691 128h0M692 698h0M12 605h0M213 465h0M172 335h0M881 301h0M813 728h0M984 954h0M0 35h0M297 984h0M797 937h0M881 324h0M859 11h0M876 585h0M707 334h0M390 784h0M324 50h0M814 931h0M664 105h0M603 410h0M746 452h0M272 31h0M842 481h0M967 344h0M37 282h0M68 842h0M160 227h0M522 624h0M977 931h0M274 142h0M261 433h0M760 524h0M940 602h0M385 726h0M516 380h0M312 426h0M503 201h0M772 263h0M113 503h0M65 553h0M821 895h0M788 41h0M542 54h0M621 392h0M105 318h0M867 924h0M433 305h0M680 905h0M211 387h0M103 612h0M44 716h0M67 678h0M158 524h0M349 357h0M493 310h0M957 384h0M814 833h0M430 335h0M41 845h0M235 124h0M268 351h0M824 34h0M581 865h0M473 143h0M513 944h0M722 339h0M108 794h0M178 451h0M710 634h0M353 844h0M128 774h0M233 204h0M927 353h0M812 407h0M117 78h0M73 563h0M473 438h0M821 104h0M507 400h0M514 61h0M112 85h0M603 946h0M65 97h0M580 526h0M193 531h0M921 997h0M776 639h0M255 140h0M421 373h0M765 343h0M787 451h0M668 241h0M908 906h0M51 620h0M830 309h0M611 591h0M655 452h0M90 55h0M105 212h0M469 858h0M44 714h0M269 228h0M635 799h0M899 788h0M85 816h0M277 345h0M836 227h0M711 11h0M352 708h0M835 919h0M768 396h0M361 16h0M344 984h0M961 976h0M934 563h0M500 176h0M688 704h0M946 703h0M216 399h0M201 611h0M637 759h0M716 187h0M822 356h0M885 201h0M779 437h0M461 920h0M671 349h0M402 28h0M815 92h0M98 531h0M782 659h0M311 206h0M458 626h0M178 117h0M635 477h0M872 467h0M956 512h0M995 541h0M918 157h0M294 273h0M793 373h0M446 47h0M343 519h0M130 345h0M363 481h0M678 12h0M835 873h0M235 293h0M361 463h0M228 890h0M123 61h0M113 704h0M700 415h0M486 117h0M289 43h0M298 805h0M629 465h0M75 650h0M700 261h0M6 287h0M663 566h0M26 826h0M154 467h0M495 636h0M711 570h0M587 789h0M524 575h0M28 897h0M440 443h0M985 357h0M326 605h0M578 553h0M698 228h0M546 473h0M864 155h0M283 812h0M848 702h0M12 784h0M33 247h0M402 626h0M881 178h0M251 387h0M33 936h0M774 975h0M560 754h0M582 163h0M205 1h0M330 541h0M44 24h0M260 78h0M352 629h0M470 592h0M776 253h0M162 911h0M16 164h0M616 87h0M528 320h0M374 194h0M533 201h0M158 170h0M98 799h0M96 994h0M623 21h0M262 691h0M30 591h0M773 575h0M707 499h0M433 670h0M824 830h0M112 358h0M353 812h0M563 87h0M248 310h0M613 708h0M760 683h0M847 841h0M271 629h0M483 732h0M904 493h0M795 503h0M435 236h0M260 417h0M685 376h0M882 848h0M174 108h0M563 827h0M165 520h0M897 436h0M1 747h0M570 282h0M4 328h0M455 821h0M393 727h0M61 299h0M676 574h0M815 828h0M434 945h0M88 456h0M847 654h0M713 333h0M177 240h0M291 123h0M869 354h0M651 761h0M25 348h0M905 706h0M521 684h0M973 740h0M395 173h0M141 436h0M866 641h0M459 336h0M500 901h0M438 923h0M804 703h0M967 143h0M544 756h0M769 474h0M503 477h0M584 121h0M65 44h0M693 988h0M671 657h0M118 543h0M456 171h0M968 406h0M224 0h0M691 836h0M137 659h0M192 728h0M583 500h0M937 397h0M423 437h0M36 500h0M677 295h0M630 229h0M571 611h0M860 497h0M155 410h0M746 170h0M551 527h0M197 534h0M998 587h0M883 19h0M336 863h0M325 12h0M589 741h0M394 132h0M447 581h0M453 944h0M397 303h0M548 746h0M990 349h0M271 295h0M140 159h0M921 475h0M474 7h0M757 459h0M746 217h0M906 923h0M663 83h0M301 604h0M286 542h0M9 504h0M961 842h0M59 395h0M743 368h0M456 315h0M410 941h0M863 895h0M370 20h0M435 501h0M55 368h0M715 376h0M943 154h0M701 833h0M171 141h0M146 539h0M615 577h0M217 325h0M382 788h0M49 516h0M608 108h0M344 301h0M33 68h0M678 787h0M452 79h0M603 191h0M676 400h0M771 631h0M930 260h0M547 507h0M836 473h0M594 196h0M307 415h0M538 560h0M790 150h0M430 707h0M481 438h0M901 904h0M49 405h0M513 156h0M640 363h0M650 904h0M76 725h0M503 374h0M587 383h0M569 368h0M384 304h0M965 873h0M739 642h0M659 573h0M188 981h0M977 132h0M561 648h0M592 914h0M477 257h0M302 398h0M894 556h0M774 64h0M397 470h0M608 952h0M893 772h0M729 76h0M625 648h0M759 10h0M626 222h0M816 457h0M695 465h0M164 294h0M400 499h0M366 576h0M265 983h0M994 265h0M833 972h0M401 868h0M544 904h0M631 847h0M170 466h0M887 943h0M862 618h0M727 500h0M252 146h0M282 267h0M946 21h0M501 994h0M547 498h0M424 0h0M13 44h0M974 182h0M488 74h0M877 49h0M601 80h0M64 709h0M945 800h0M854 978h0M770 230h0M996 877h0M478 893h0M357 219h0M788 73h0M60 180h0M755 274h0M577 688h0M508 963h0M357 520h0M30 77h0M295 801h0M641 321h0M741 447h0M797 473h0M823 971h0M81 189h0M265 861h0M258 320h0M41 283h0M983 709h0M250 476h0M728 555h0M138 345h0M782 836h0M976 731h0M128 723h0M390 247h0M453 569h0M651 903h0M247 104h0M943 661h0M512 229h0M404 807h0M592 83h0M420 950h0M957 340h0M630 905h0M98 873h0M130 54h0M184 832h0M600 962h0M303 382h0M399 171h0M739 256h0M547 968h0M266 991h0M620 595h0M965 786h0M700 495h0M836 748h0M716 34h0M313 237h0M167 175h0M508 710h0M353 144h0M981 272h0M747 619h0M123 877h0M50 952h0M522 312h0M130 233h0M506 477h0M28 813h0M922 423h0M482 514h0M327 482h0M139 879h0M592 714h0M634 659h0M983 998h0M407 542h0M858 646h0M916 829h0M187 637h0M557 729h0M412 907h0M647 259h0M314 662h0M623 793h0M471 38h0M860 853h0M59 723h0M540 847h0M132 490h0M739 836h0M569 706h0M686 914h0M431 489h0M834 404h0M891 322h0M222 584h0M105 466h0M997 255h0M761 569h0M230 382h0M42 817h0M405 155h0M460 654h0M838 563h0M765 733h0M518 584h0M657 446h0M25 400h0M793 7h0M173 198h0M260 35h0M321 310h0M979 491h0M65 386h0M418 547h0M46 606h0M700 307h0M682 482h0M300 240h0M466 16h0M328 769h0M141 109h0M826 532h0M888 384h0M253 735h0M317 532h0M918 84h0M604 138h0M590 982h0M811 973h0M29 25h0M458 523h0M166 934h0M571 985h0M741 583h0M734 730h0M587 217h0M32 377h0M761 394h0M293 946h0M259 791h0M713 568h0M654 898h0M655 107h0M183 35h0M765 586h0M490 345h0M759 735h0M335 497h0M512 469h0M833 825h0M900 182h0M45 155h0M224 291h0M540 101h0M238 29h0M185 681h0M116 919h0M395 532h0M24 816h0M865 400h0M999 689h0M571 588h0M957 756h0M29 938h0M895 927h0M658 344h0M660 313h0M712 703h0M146 591h0M928 338h0M936 623h0M388 950h0M317 147h0M932 800h0M107 837h0M791 369h0M607 788h0M581 374h0M367 20h0M669 613h0M939 456h0M866 299h0M668 424h0M153 458h0M387 900h0M128 427h0M993 716h0M970 633h0M629 947h0M116 222h0M54 182h0M246 902h0M940 305h0M736 266h0M473 167h0M800 639h0M828 671h0M940 831h0M438 132h0M366 388h0M48 310h0M968 554h0M817 228h0M312 224h0M71 400h0M612 320h0M920 136h0M766 746h0M149 782h0M976 456h0M675 623h0M868 745h0M708 292h0M106 973h0M530 775h0M329 668h0M344 675h0M538 18h0M250 536h0M121 360h0M692 270h0M267 548h0M578 811h0M495 657h0M731 172h0M802 449h0M959 863h0M233 505h0M663 457h0M212 224h0M601 739h0M316 248h0M258 819h0M820 894h0M76 151h0M113 191h0M797 989h0M744 648h0M177 635h0M704 567h0M97 374h0M257 655h0M171 905h0M305 510h0M159 995h0M954 14h0M346 971h0M897 946h0M283 648h0M278 301h0M891 430h0M207 229h0M158 505h0M864 17h0M439 227h0M374 662h0M583 305h0M724 35h0M532 562h0M589 12h0M573 214h0M976 262h0M436 579h0M931 652h0M247 732h0M99 174h0M385 561h0M574 449h0M95 212h0M183 848h0M89 429h0M223 399h0M528 92h0M457 27h0M708 226h0M49 855h0M643 788h0M942 169h0M434 273h0M39 114h0M347 462h0M189 355h0M232 933h0M937 545h0M816 188h0M942 393h0M410 921h0M530 401h0M285 39h0M375 607h0M51 995h0M569 110h0M850 796h0M805 470h0M832 991h0M612 516h0M58 510h0M987 445h0M623 208h0M109 436h0M599 958h0M20 409h0M310 736h0M758 113h0M400 719h0M576 815h0M626 406h0M332 719h0M612 548h0M26 493h0M558 774h0M804 772h0M585 470h0M523 341h0M380 284h0M696 652h0M980 792h0M684 485h0M907 900h0M542 571h0M553 607h0M136 61h0M736 41h0M397 41h0M213 428h0M677 479h0M144 38h0M866 593h0M128 905h0M243 236h0M706 134h0M808 353h0M382 947h0M8 267h0M499 494h0M645 452h0M196 864h0M997 837h0M839 141h0M651 20h0M1 237h0M514 646h0M803 611h0M577 367h0M401 252h0M448 882h0M849 259h0M33 468h0M869 605h0M683 805h0M800 290h0M233 332h0M329 514h0M216 648h0M880 448h0M869 847h0M811 761h0M318 379h0M916 517h0M206 74h0M859 818h0M536 149h0M967 55h0M76 845h0M684 770h0M706 203h0M418 639h0M349 701h0M315 903h0M539 495h0M732 212h0M611 594h0M492 29h0M663 558h0M74 675h0M102 355h0M366 651h0M953 929h0M182 258h0M417 49h0M753 207h0M594 584h0M91 766h0M553 914h0M874 16h0M744 492h0M655 51h0M254 463h0M219 825h0M513 769h0M269 760h0M741 720h0M162 549h0M985 150h0M748 306h0M105 774h0M315 277h0M854 181h0M983 826h0M299 135h0M718 982h0M364 835h0M867 605h0M472 642h0M150 818h0M856 891h0M49 610h0M239 612h0M285 722h0M31 5h0M459 694h0M385 250h0M30 426h0M693 701h0M36 801h0M160 252h0M204 142h0M955 518h0M387 101h0M3 30h0M730 366h0M337 114h0M800 985h0M481 358h0M218 166h0M37 485h0M450 869h0M516 563h0M256 480h0M614 163h0M681 956h0M484 694h0M974 72h0M933 523h0M223 289h0M279 276h0M202 715h0M167 810h0M586 582h0M425 343h0M176 72h0M989 646h0M771 305h0M852 275h0M923 627h0M343 404h0M327 275h0M913 744h0M332 839h0M453 405h0M662 123h0M484 242h0M807 654h0M56 411h0M1 437h0M313 358h0M740 707h0M991 234h0M523 121h0M537 524h0M776 253h0M31 386h0M379 463h0M453 620h0M921 738h0M932 383h0M606 437h0M205 710h0M21 624h0M758 773h0M873 510h0M895 56h0M743 371h0M645 25h0M610 854h0M955 724h0M875 447h0M109 237h0M80 553h0M31 988h0M237 613h0M115 689h0M435 438h0M847 921h0M243 88h0M779 812h0M260 565h0M530 753h0M588 472h0M169 787h0M961 706h0M241 272h0M693 506h0M745 229h0M345 656h0M120 582h0M178 382h0M799 715h0M520 65h0M225 209h0M957 555h0M89 277h0M595 174h0M657 357h0M203 806h0M905 806h0M707 519h0M309 783h0M821 620h0M743 545h0M287 150h0M447 571h0M247 620h0M632 318h0M16 197h0M877 195h0M457 266h0M302 468h0M598 985h0M208 376h0M153 872h0M590 860h0M456 398h0M114 215h0M921 919h0M712 257h0M390 395h0M254 3h0M863 241h0M828 786h0M410 177h0M124 178h0M38 526h0M645 325h0M773 443h0M742 564h0M331 915h0M528 271h0M786 388h0M809 280h0M194 259h0M661 191h0M875 952h0M33 81h0M521 458h0M785 805h0M903 205h0M351 393h0M281 740h0M800 45h0M150 623h0M48 902h0M114 507h0M700 840h0M427 222h0M283 985h0M253 226h0M236 62h0M398 818h0M832 11h0M45 771h0M477 300h0M95 172h0M834 133h0M857 973h0M351 441h0M277 576h0M993 873h0M295 216h0M420 811h0M583 348h0M28 181h0M388 893h0M11 332h0M6 956h0M240 951h0M419 429h0M153 761h0M156 295h0M462 810h0M418 365h0M512 778h0M773 135h0M996 402h0M132 278h0M136 561h0M951 140h0M245 750h0M609 381h0M58 489h0M535 774h0M319 816h0M601 326h0M166 589h0M325 298h0M949 785h0M713 760h0M861 636h0M432 841h0M837 722h0M110 204h0M588 963h0M819 52h0M280 484h0M504 117h0M136 315h0M378 465h0M590 842h0M920 857h0M145 96h0M158 763h0M61 601h0M694 624h0M69 789h0M366 319h0M723 135h0M814 775h0M924 796h0M656 926h0M737 403h0M246 66h0M794 141h0M950 464h0M556 316h0M549 595h0M175 440h0M553 410h0M664 663h0M102 690h0M981 846h0M487 711h0M674 829h0M608 860h0M525 251h0M810 815h0M39 942h0M21 170h0M247 780h0M34 858h0M695 6h0M446 159h0M890 457h0M640 375h0M239 525h0M951 601h0M399 676h0M982 827h0M729 485h0M548 615h0M671 66h0M149 356h0M327 961h0M432 553h0M918 617h0M2 362h0M159 272h0M701 982h0M750 298h0M684 617h0M393 153h0M772 385h0M14 706h0M753 651h0M517 117h0M397 801h0M862 386h0M672 65h0M839 818h0M89 530h0M309 693h0M387 557h0M999 45h0M575 526h0M777 924h0M981 176h0M576 751h0M177 756h0M482 201h0M220 999h0M930 287h0M29 265h0M808 916h0M326 358h0M946 414h0M888 586h0M518 551h0M245 960h0M853 720h0M65 645h0M693 762h0M244 687h0M607 737h0M733 679h0M443 558h0M763 330h0M18 621h0M307 937h0M644 709h0M447 186h0M880 123h0M438 345h0M782 113h0M894 98h0M211 838h0M824 161h0M109 832h0M421 259h0M101 46h0M449 238h0M430 670h0M496 373h0M362 507h0M388 160h0M104 3h0M13 870h0M763 875h0M212 616h0M420 471h0M351 964h0M992 235h0M227 252h0M787 817h0M781 326h0M445 993h0M705 550h0M317 496h0M559 182h0M309 874h0M367 979h0M351 841h0M557 991h0M692 799h0M91 396h0M279 927h0M399 560h0M96 273h0M861 272h0M481 206h0M451 835h0M588 604h0M482 676h0M275 152h0M413 232h0M717 757h0M584 158h0M144 618h0M157 816h0M554 563h0M326 116h0M197 672h0M624 450h0M346 320h0M980 415h0M532 294h0M392 589h0M703 308h0M816 373h0M844 634h0M105 761h0M88 583h0M674 71h0M61 894h0M391 922h0M318 655h0M912 5h0M79 38h0M718 901h0M682 48h0M992 50h0M556 274h0M807 75h0M826 940h0M92 82h0M169 464h0M257 446h0M109 587h0M228 565h0M801 772h0M674 900h0M652 992h0M487 831h0M537 132h0M136 52h0M186 98h0M818 53h0M306 207h0M592 490h0M99 242h0M858 764h0M278 238h0M724 88h0M833 384h0M772 288h0M407 692h0M252 940h0M301 818h0M606 70h0M183 593h0M464 903h0M142 159h0M855 228h0M807 716h0M523 462h0M811 891h0M933 199h0M389 409h0M949 84h0M260 627h0M466 784h0M490 283h0M966 937h0M748 159h0M783 408h0M293 825h0M159 28h0M152 994h0M490 592h0M996 537h0M867 294h0M637 746h0M368 696h0M234 300h0M437 395h0M441 355h0M546 283h0M240 233h0M316 692h0M321 616h0M484 975h0M655 437h0M219 114h0M750 844h0M672 808h0M71 654h0M223 857h0M847 489h0M746 937h0M147 312h0M868 160h0M483 542h0M690 801h0M273 862h0M960 882h0M879 584h0M425 997h0M391 791h0M746 777h0M92 451h0M395 438h0M71 332h0M627 51h0M188 375h0M535 462h0M390 625h0M78 758h0M126 583h0M830 592h0M349 342h0M520 516h0M919 775h0M547 706h0M306 747h0M198 312h0M50 599h0M418 346h0M596 461h0M759 945h0M895 847h0M181 919h0M36 878h0M169 549h0M686 57h0M466 758h0M912 200h0M405 608h0M570 332h0M685 591h0M586 562h0M495 40h0M171 665h0M945 643h0M749 495h0M952 94h0M170 681h0M175 201h0M526 923h0M3 767h0M199 618h0M994 208h0M904 946h0M11 248h0M435 621h0M997 427h0M791 986h0M520 950h0M381 685h0M822 306h0M900 803h0M101 692h0M342 827h0M752 656h0M909 936h0M68 802h0M123 271h0M563 65h0M924 582h0M647 360h0M157 69h0M139 148h0M197 367h0M24 376h0M541 131h0M103 797h0M590 276h0M699 238h0M820 597h0M512 974h0M507 885h0M509 25h0M274 409h0M441 775h0M682 733h0M732 215h0M799 455h0M787 172h0M511 541h0M136 427h0M35 766h0M663 783h0M647 730h0M376 980h0M597 664h0M130 326h0M671 533h0M542 678h0M268 329h0M936 341h0M265 750h0M475 920h0M469 458h0M821 759h0M774 885h0M737 958h0M106 984h0M158 826h0M46 105h0M389 405h0M772 108h0M628 440h0M50 278h0M665 679h0M73 68h0M796 170h0M84 982h0M478 904h0M669 89h0M998 501h0M62 162h0M208 170h0M936 628h0M213 413h0M600 119h0M482 735h0M612 882h0M721 443h0M925 735h0M594 876h0M274 326h0M738 869h0M800 950h0M549 800h0M926 519h0M233 484h0M638 836h0M904 135h0M373 895h0M708 745h0M430 172h0M948 2h0M532 871h0M741 20h0M361 881h0M156 858h0M713 245h0M406 188h0M230 176h0M125 508h0M899 819h0M565 393h0M109 421h0M961 933h0M899 560h0M794 28h0M72 28h0M792 120h0M797 600h0M270 757h0M946 567h0M553 26h0M121 122h0M628 751h0M834 121h0M846 43h0M375 100h0M426 5h0M518 477h0M605 3h0M192 780h0M594 445h0M465 926h0M366 74h0M934 355h0M227 651h0M673 345h0M535 236h0M118 979h0M538 751h0M665 731h0M763 754h0M624 287h0M322 246h0M781 7h0M665 414h0M901 611h0M776 345h0M975 91h0M434 441h0M530 404h0M979 309h0M102 660h0M559 230h0M884 125h0M68 997h0M959 439h0M602 997h0M754 794h0M84 655h0M412 288h0M759 983h0M663 629h0M799 343h0M84 894h0M819 287h0M575 88h0M854 504h0M544 885h0M562 298h0M20 170h0M907 231h0M102 534h0M321 289h0M269 4h0M943 705h0M667 685h0M360 973h0M346 549h0M448 922h0M991 891h0M760 528h0M872 973h0M884 103h0M517 339h0M606 812h0M442 360h0M951 588h0M264 517h0M501 161h0M924 976h0M285 270h0M37 137h0M293 532h0M374 571h0M740 219h0M185 720h0M664 814h0M427 441h0M652 326h0M978 2h0M655 15h0M526 841h0M508 331h0M2 327h0M749 736h0M215 236h0M627 934h0M647 515h0M425 766h0M120 520h0M418 331h0M321 454h0M373 352h0M766 886h0M481 385h0M778 94h0M53 229h0M477 891h0M73 79h0M96 812h0M311 437h0M289 720h0M985 159h0M615 911h0M363 235h0M746 495h0M53 37h0M985 246h0M482 835h0M313 475h0M499 520h0M448 732h0M442 179h0M895 272h0M120 85h0M635 859h0M12 728h0M159 919h0M957 614h0M470 967h0M589 630h0M197 213h0M401 844h0M242 175h0M16 940h0M776 777h0M36 236h0M941 685h0M830 94h0M602 925h0M406 293h0M541 652h0M423 427h0M861 332h0M393 110h0M291 393h0M626 717h0M459 324h0M592 20h0M203 701h0M469 736h0M438 841h0M467 196h0M448 360h0M857 473h0M927 82h0M411 829h0M29 709h0M433 658h0M964 991h0M798 827h0M918 202h0M609 211h0M831 144h0M714 637h0M99 638h0M483 774h0M80 901h0M349 287h0M750 170h0M604 134h0M862 506h0M459 119h0M240 864h0M582 309h0M797 896h0M232 691h0M169 378h0M899 286h0M965 462h0M900 827h0M424 531h0M836 45h0M892 673h0M163 141h0M993 304h0M370 451h0M278 910h0M167 874h0M375 78h0M741 915h0M270 735h0M565 61h0M545 675h0M230 896h0M263 235h0M454 867h0M299 53h0M991 99h0M163 459h0M289 909h0M384 755h0M234 343h0M308 272h0M693 479h0M800 528h0M661 787h0M65 381h0M493 965h0M986 641h0M101 591h0M312 383h0M573 195h0M309 598h0M347 547h0M337 772h0M633 147h0M815 133h0M884 206h0M977 440h0M119 695h0M799 671h0M17 648h0M173 740h0M829 185h0M846 852h0M484 105h0M294 406h0M835 102h0M611 87h0M1 843h0M893 962h0M91 463h0M465 574h0M469 27h0M831 333h0M33 426h0M512 727h0M464 484h0M897 90h0M986 22h0M209 352h0M883 726h0M177 531h0M635 124h0M249 127h0M705 400h0M130 321h0M274 52h0M631 53h0M277 5h0M991 702h0M230 137h0M660 378h0M467 957h0M921 594h0M17 430h0M609 393h0M217 162h0M763 72h0M787 475h0M94 601h0M653 134h0M756 868h0M788 531h0M334 211h0M134 615h0M779 318h0M17 380h0M684 740h0M133 326h0M330 986h0M374 364h0M412 24h0M4 118h0M731 972h0M507 99h0M290 891h0M85 174h0M508 253h0M410 668h0M590 694h0M899 994h0M201 176h0M791 123h0M717 316h0M892 269h0M538 826h0M417 69h0M651 974h0M633 31h0M521 586h0M936 433h0M990 471h0M783 755h0M883 415h0M918 938h0M33 384h0M886 232h0M994 683h0M420 950h0M50 473h0M312 93h0M736 873h0M280 844h0M177 583h0M68 678h0M549 815h0M214 55h0M577 222h0M754 310h0M685 116h0M722 986h0M740 773h0M225 928h0M204 135h0M502 246h0M610 224h0M75 132h0M911 482h0M561 264h0M807 560h0M509 886h0M777 692h0M953 904h0M755 194h0M9 692h0M741 836h0M310 781h0M165 836h0M847 252h0M93 576h0M887 633h0M658 465h0M235 813h0M317 472h0M130 911h0M258 657h0M714 534h0M933 377h0M779 560h0M96 563h0M794 979h0M691 50h0M736 776h0M491 138h0M528 414h0M578 757h0M828 266h0M17 286h0M98 778h0M664 785h0M298 585h0M243 643h0M371 292h0M35 16h0M972 36h0M380 181h0M781 433h0M194 703h0M29 868h0M366 1h0M409 199h0M897 661h0M156 688h0M309 94h0M490 33h0M125 390h0M365 202h0M966 239h0M6 459h0M678 9h0M956 622h0M237 175h0M897 542h0M480 287h0M194 874h0M237 822h0M392 23h0M205 32h0M585 779h0M463 995h0M363 767h0M161 16h0M745 547h0M494 277h0M372 679h0M861 104h0M997 165h0M162 81h0M343 65h0M647 255h0M968 385h0M367 115h0M641 425h0M98 197h0M645 620h0M753 482h0M234 525h0M759 690h0M414 606h0M961 334h0M808 237h0M425 857h0M680 177h0M404 775h0M655 499h0M979 376h0M202 548h0M678 790h0M294 299h0M972 645h0M198 818h0M585 721h0M825 491h0M748 38h0M210 187h0M36 572h0M687 519h0M514 392h0M291 917h0M938 348h0M981 823h0M577 796h0M522 635h0M983 762h0M48 616h0M135 421h0M381 39h0M975 790h0M727 85h0M154 480h0M321 788h0M143 585h0M672 23h0M807 936h0M486 672h0M518 45h0M388 532h0M350 500h0M649 489h0M159 955h0M617 695h0M163 217h0M570 227h0M579 564h0M285 6h0M386 623h0M335 960h0M836 23h0M44 440h0M669 942h0M208 623h0M954 912h0M225 353h0M222 164h0M662 534h0M476 106h0M267 163h0M713 855h0M902 266h0M47 44h0M907 397h0M111 476h0M361 384h0M127 490h0M937 251h0M855 42h0M733 602h0M352 588h0M458 201h0M139 650h0M818 543h0M718 922h0M353 590h0M438 36h0M325 133h0M625 282h0M503 85h0M628 162h0M878 254h0M618 577h0M511 538h0M585 330h0M450 255h0M781 586h0M120 444h0M629 343h0M778 796h0M652 124h0M518 580h0M91 380h0M179 466h0M559 442h0M248 955h0M30 814h0M309 603h0M333 51h0M827 924h0M923 644h0M753 214h0M877 287h0M839 589h0M683 828h0M785 37h0M185 991h0M420 104h0M717 172h0M319 129h0M223 745h0M643 288h0M778 176h0M30 647h0M866 500h0M775 44h0M916 146h0M968 606h0M930 261h0M9 595h0M497 632h0M164 166h0M271 331h0M673 256h0M959 603h0M926 64h0M235 475h0M143 548h0M708 411h0M666 434h0M553 477h0M619 748h0M598 259h0M179 560h0M890 788h0M549 636h0M768 989h0M72 108h0M871 154h0M875 70h0M599 338h0M435 490h0M182 998h0M534 427h0M643 832h0M838 681h0M675 608h0M284 875h0M800 713h0M953 864h0M980 612h0M726 813h0M858 924h0M143 395h0M240 873h0M28 328h0M982 36h0M393 190h0M633 59h0M749 958h0M19 142h0M7 805h0M465 648h0M63 39h0M902 755h0M642 344h0M358 174h0M528 824h0M567 689h0M285 981h0M701 105h0M756 509h0M304 783h0M258 514h0M176 999h0M921 699h0M210 945h0M853 776h0M574 691h0M493 542h0M902 305h0M694 630h0M831 5h0M203 67h0M792 62h0M97 622h0M731 890h0M622 78h0M697 178h0M433 473h0M324 766h0M116 766h0M862 645h0M214 854h0M638 105h0M657 170h0M25 590h0M21 885h0M20 123h0M543 330h0M173 512h0M438 565h0M310 335h0M187 89h0M131 977h0M772 586h0M266 523h0M680 984h0M543 528h0M749 535h0M125 497h0M78 7h0M130 859h0M631 298h0M712 983h0M514 249h0M803 702h0M47 980h0M878 625h0M612 503h0M298 738h0M864 925h0M557 619h0M382 917h0M55 277h0M477 277h0M503 737h0M196 234h0M971 466h0M362 273h0M35 620h0M442 989h0M24 839h0M485 522h0M347 556h0M351 23h0M497 115h0M585 347h0M731 309h0M688 893h0M339 99h0M617 121h0M666 128h0M829 144h0M513 31h0M412 274h0M389 683h0M890 880h0M869 409h0M100 720h0M365 993h0M858 538h0M739 693h0M439 309h0M476 102h0M642 31h0M697 118h0M921 362h0M744 578h0M507 521h0M355 263h0M702 766h0M714 670h0M346 348h0M806 255h0M139 317h0M606 177h0M188 640h0M193 652h0M571 407h0M738 869h0M525 933h0M699 228h0M323 382h0M869 693h0M735 659h0M189 508h0M529 914h0M814 827h0M981 922h0M40 773h0M127 988h0M272 689h0M144 114h0M500 832h0M157 260h0M360 293h0M252 118h0M480 529h0M498 830h0M120 673h0M75 288h0M403 837h0M351 827h0M931 652h0M990 350h0M587 195h0M108 40h0M354 783h0M886 703h0M376 744h0M744 73h0M317 410h0M401 528h0M203 502h0M230 790h0M504 683h0M754 223h0M210 736h0M160 711h0M865 552h0M894 63h0M418 640h0M413 869h0M924 699h0M672 265h0M536 915h0M87 226h0M695 925h0M567 716h0M763 129h0M638 882h0M610 91h0M703 631h0M511 776h0M703 978h0M224 179h0M706 925h0M491 370h0M146 60h0M408 748h0M243 835h0M601 260h0M130 837h0M379 828h0M375 99h0M174 688h0M514 990h0M26 269h0M660 831h0M330 392h0M62 157h0M909 523h0M456 929h0M880 697h0M117 263h0M831 732h0M640 791h0M33 487h0M175 822h0M836 588h0M256 611h0M810 971h0M474 513h0M747 45h0M569 381h0M784 229h0M347 913h0M1 649h0M927 787h0M859 876h0M635 485h0M543 952h0M14 714h0M655 620h0M726 764h0M93 315h0M40 294h0M683 129h0M215 984h0M763 537h0M500 199h0M725 335h0M435 21h0M442 919h0M946 798h0M985 771h0M759 925h0M451 127h0M234 619h0M47 329h0M621 659h0M385 212h0M931 930h0M217 707h0M264 249h0M10 569h0M385 125h0M228 510h0M460 305h0M451 191h0M417 905h0M767 72h0M164 195h0M465 265h0M508 527h0M979 131h0M810 736h0M887 982h0M837 363h0M754 784h0M519 646h0M164 361h0M723 652h0M524 688h0M306 843h0M719 254h0M986 31h0M651 961h0M321 543h0M192 787h0M928 336h0M495 424h0M780 996h0M694 623h0M203 347h0M782 309h0M124 547h0M908 615h0M982 803h0M172 524h0M846 480h0M925 0h0M421 675h0M894 296h0M816 868h0M190 977h0M798 209h0M320 746h0M828 344h0M723 21h0M125 942h0M656 490h0M279 759h0M426 945h0M381 624h0M2 920h0M298 565h0M542 207h0M501 269h0M582 908h0M205 483h0M130 120h0M483 385h0M98 810h0M621 896h0M901 433h0M392 828h0M459 366h0M277 196h0M584 399h0M208 191h0M593 736h0M253 380h0M63 643h0M792 194h0M670 744h0M699 259h0M488 239h0M275 841h0M703 345h0M183 191h0M69 318h0M275 842h0M547 922h0M362 850h0M763 150h0M893 459h0M445 697h0M525 354h0M665 372h0M223 433h0M771 904h0M173 195h0M921 173h0M42 924h0M685 556h0M296 458h0M670 713h0M346 261h0M229 553h0M718 450h0M957 199h0M442 756h0M5 569h0M691 383h0M709 647h0M994 369h0M376 961h0M8 421h0M606 265h0M300 381h0M640 8h0M606 370h0M865 274h0M252 435h0M844 216h0M936 835h0M644 204h0M174 652h0M580 608h0M788 851h0M622 776h0M898 843h0M263 729h0M998 90h0M467 348h0M123 755h0M306 29h0M467 720h0M47 869h0M676 892h0M520 520h0M934 907h0M389 497h0M703 7h0M426 664h0M1 754h0M82 176h0M980 585h0M665 426h0M168 415h0M272 159h0M135 91h0M776 960h0M939 750h0M577 119h0M117 715h0M315 248h0M184 777h0M81 108h0M764 385h0M779 40h0M322 791h0M219 490h0M274 768h0M85 612h0M155 54h0M126 384h0M453 425h0M155 925h0M767 899h0M309 466h0M630 276h0M910 217h0M807 666h0M516 170h0M480 449h0M35 998h0M440 131h0M62 540h0M763 235h0M631 31h0M979 752h0M300 260h0M924 633h0M986 501h0M318 11h0M746 404h0M569 293h0M660 966h0M307 700h0M550 328h0M529 726h0M301 329h0M498 198h0M237 908h0M394 424h0M265 53h0M753 646h0M632 226h0M684 335h0M241 50h0M409 892h0M343 425h0M676 776h0M449 40h0M126 257h0M678 879h0M791 369h0M633 614h0M342 626h0M383 674h0M918 218h0M102 611h0M301 884h0M612 160h0M746 468h0M866 243h0M160 766h0M972 914h0M712 6h0M443 749h0M502 736h0M376 631h0M54 136h0M202 954h0M898 138h0M916 731h0M766 375h0M714 139h0M383 334h0M844 569h0M122 209h0M203 401h0M717 402h0M51 949h0M805 794h0M60 835h0M478 785h0M570 237h0M386 354h0M388 182h0M843 644h0M865 684h0M949 80h0M94 542h0M216 184h0M903 269h0M633 325h0M239 66h0M181 303h0M679 880h0M43 34h0M492 123h0M948 958h0M264 900h0M856 553h0M438 412h0M749 57h0M613 759h0M363 437h0M186 356h0M976 304h0M946 298h0M792 251h0M208 670h0M357 341h0M567 35h0M505 968h0M238 409h0M771 519h0M409 411h0M357 266h0M58 929h0M923 750h0M847 626h0M223 434h0M89 324h0M74 409h0M188 653h0M184 842h0M81 9h0M219 891h0M66 431h0M111 149h0M916 776h0M830 12h0M790 879h0M240 714h0M669 650h0M596 781h0M607 331h0M833 501h0M852 462h0M321 277h0M947 244h0M342 735h0M234 602h0M148 727h0M491 985h0M437 984h0M340 688h0M594 714h0M668 506h0M966 764h0M522 352h0M105 908h0M451 886h0M924 675h0M598 124h0M61 90h0M384 407h0M790 622h0M799 890h0M653 830h0M738 731h0M860 479h0M766 730h0M369 209h0M597 485h0M92 8h0M842 710h0M736 845h0M322 576h0M742 25h0M960 53h0M648 233h0M706 583h0M526 347h0M837 558h0M896 144h0M414 912h0M197 18h0M769 847h0M738 116h0M684 931h0M656 143h0M289 131h0M162 717h0M174 710h0M930 743h0M861 108h0M305 700h0M637 779h0M546 891h0M370 983h0M151 693h0M550 82h0M339 53h0M717 961h0M547 453h0M103 854h0M370 540h0M955 331h0M21 548h0M428 9h0M281 500h0M692 444h0M852 936h0M419 825h0M568 225h0M322 339h0M987 535h0M304 183h0M477 676h0M326 935h0M34 314h0M464 165h0M872 807h0M961 985h0M885 362h0M448 90h0M210 78h0M45 902h0M178 488h0M347 248h0M118 434h0M924 270h0M268 927h0M305 712h0M803 694h0M607 816h0M488 331h0M437 878h0M318 982h0M363 864h0M116 983h0M330 244h0M939 35h0M933 801h0M876 994h0M948 440h0M381 319h0M807 178h0M238 541h0M196 440h0M8 664h0M242 650h0M877 886h0M696 347h0M306 596h0M73 323h0M851 182h0M880 90h0M668 606h0M637 378h0M306 955h0M353 154h0M912 597h0M523 108h0M271 822h0M360 599h0M101 866h0M166 221h0M75 207h0M405 677h0M165 720h0M939 749h0M326 320h0M872 969h0M312 322h0M333 934h0M310 964h0M938 221h0M342 963h0M178 906h0M704 741h0M5 235h0M252 597h0M611 463h0M17 209h0M942 296h0M496 597h0M739 803h0M865 152h0M488 579h0M379 751h0M253 191h0M615 143h0M521 925h0M837 897h0M845 97h0M103 892h0M647 247h0M512 663h0M821 944h0M19 817h0M408 57h0M2 661h0M97 334h0M820 556h0M424 669h0M12 864h0M136 10h0M77 954h0M280 298h0M269 646h0M284 957h0M230 127h0M343 727h0M814 911h0M833 824h0M541 137h0M497 37h0M207 153h0M984 572h0M395 204h0M848 8h0M122 395h0M679 892h0M761 20h0M462 9h0M156 16h0M86 216h0M733 720h0M165 196h0M356 851h0M0 812h0M393 696h0M123 604h0M633 560h0M126 28h0M364 341h0M953 642h0M945 60h0M965 100h0M86 738h0M347 893h0M890 702h0M428 268h0M867 724h0M686 301h0M375 650h0M772 238h0M834 39h0M643 162h0M350 560h0M394 777h0M595 445h0M274 445h0M492 710h0M451 776h0M266 238h0M447 969h0M432 711h0M191 505h0M157 730h0M782 385h0M27 499h0M123 930h0M802 539h0M395 228h0M443 515h0M138 948h0M661 203h0M238 833h0M529 147h0M594 286h0M867 936h0M469 843h0M791 12h0M669 370h0M481 984h0M835 849h0M71 867h0M794 540h0M781 208h0M778 683h0M276 532h0M243 454h0M927 486h0M854 520h0M12 166h0M697 977h0M345 71h0M434 636h0M369 762h0M329 369h0M789 421h0M400 124h0M463 104h0M65 539h0M393 96h0M312 831h0M876 789h0M585 899h0M259 435h0M75 100h0M413 954h0M423 95h0M76 15h0M743 919h0M945 802h0M190 453h0M522 451h0M665 889h0M715 85h0M263 485h0M338 874h0M486 434h0M321 974h0M361 175h0M755 697h0M29 539h0M825 195h0M420 165h0M302 671h0M374 593h0M57 272h0M254 818h0M480 772h0M84 412h0M78 388h0M603 474h0M75 124h0M851 665h0M553 181h0M797 523h0M42 859h0M127 794h0M541 576h0M179 370h0M837 362h0M497 223h0M590 659h0M66 709h0M720 566h0M585 305h0M635 222h0M374 231h0M766 94h0M356 873h0M362 149h0M200 333h0M121 32h0M166 270h0M222 858h0M538 345h0M726 349h0M388 793h0M31 723h0M289 301h0M454 208h0M296 196h0M553 394h0M862 65h0M101 232h0M466 560h0M93 743h0M613 559h0M327 13h0M698 459h0M483 705h0M252 66h0M419 586h0M272 693h0M489 631h0M612 975h0M317 754h0M790 917h0M482 632h0M393 304h0M55 854h0M420 234h0M139 924h0M259 206h0M125 348h0M143 676h0M317 32h0M799 719h0M858 876h0M541 979h0M266 940h0M267 993h0M816 573h0M107 523h0M407 888h0M853 646h0M401 443h0M802 892h0M47 638h0M996 0h0M439 275h0M332 180h0M516 702h0M291 90h0M777 337h0M491 855h0M70 971h0M265 893h0M350 656h0M226 65h0M928 182h0M967 987h0M772 587h0M869 845h0M489 196h0M633 121h0M403 877h0M335 461h0M451 731h0M104 951h0M901 399h0M450 628h0M359 547h0M626 610h0M978 504h0M502 359h0M323 403h0M84 686h0M625 977h0M737 5h0M88 395h0M823 501h0M884 172h0M42 824h0M483 960h0M173 301h0M5 625h0M292 548h0M785 355h0M807 690h0M308 914h0M327 3h0M673 560h0M729 527h0M222 389h0M237 774h0M240 950h0M544 149h0M711 662h0M126 314h0M426 978h0M995 61h0M52 875h0M470 421h0M958 357h0M195 319h0M642 858h0M839 396h0M341 680h0M335 156h0M550 5h0M172 28h0M631 621h0M163 75h0M595 622h0M265 601h0M440 362h0M887 32h0M970 629h0M779 403h0M635 462h0M825 380h0M543 623h0M560 930h0M233 911h0M171 330h0M862 843h0M460 929h0M186 866h0M291 158h0M539 608h0M492 323h0M502 371h0M207 2h0M399 584h0M390 536h0M109 833h0M422 201h0M83 46h0M111 625h0M848 701h0M343 923h0M901 831h0M774 806h0M653 854h0M208 876h0M411 551h0M455 896h0M194 84h0M811 608h0M441 377h0M856 242h0M209 58h0M312 906h0M122 691h0M75 645h0M931 645h0M965 557h0M170 855h0M894 84h0M321 56h0M707 166h0M178 276h0M239 90h0M828 872h0M191 433h0M901 292h0M943 765h0M803 674h0M51 448h0M339 715h0M888 120h0M622 316h0M890 378h0M910 875h0M374 312h0M171 594h0M547 863h0M94 196h0M201 406h0M401 971h0M837 632h0M799 466h0M354 914h0M645 983h0M576 941h0M254 717h0M11 749h0M508 317h0M754 269h0M711 738h0M120 123h0M967 893h0M537 703h0M418 864h0M20 907h0M856 429h0M138 628h0M494 568h0M528 804h0M941 988h0M583 280h0M525 90h0M174 259h0M463 125h0M532 86h0M347 592h0M954 372h0M113 189h0M586 8h0M236 986h0M515 909h0M934 200h0M276 121h0M868 483h0M882 328h0M902 880h0M933 523h0M786 467h0M483 737h0M510 539h0M184 734h0M726 519h0M620 129h0M199 286h0M706 871h0M817 573h0M920 676h0M144 71h0M425 0h0M206 925h0M458 759h0M884 956h0M197 686h0M451 12h0M459 737h0M219 351h0M168 641h0M484 51h0M601 17h0M589 541h0M151 27h0M82 541h0M118 761h0M258 48h0M793 192h0M731 476h0M275 993h0M486 766h0M943 146h0M716 859h0M626 103h0M778 116h0M20 227h0M85 110h0M101 572h0M561 358h0M305 625h0M425 339h0M746 785h0M611 7h0M953 109h0M174 897h0M581 891h0M584 878h0M811 883h0M310 66h0M210 787h0M958 215h0M622 447h0M17 266h0M677 955h0M459 219h0M998 653h0M50 119h0M31 441h0M590 983h0M291 477h0M342 32h0M594 765h0M882 383h0M430 273h0M331 624h0M757 970h0M225 476h0M929 171h0M213 761h0M344 49h0M689 942h0M244 136h0M674 408h0M217 426h0M985 524h0M909 156h0M194 446h0M316 982h0M133 271h0M662 206h0M746 907h0M498 687h0M675 72h0M725 9h0M834 142h0M719 586h0M688 889h0M410 4h0M575 144h0M844 444h0M680 425h0M533 814h0M68 371h0M584 40h0M123 767h0M610 814h0M216 669h0M733 208h0M783 550h0M971 775h0M820 143h0M659 775h0M752 958h0M70 189h0M339 436h0M860 41h0M265 100h0M388 709h0M524 305h0M897 517h0M794 391h0M304 734h0M857 650h0M541 561h0M458 152h0M786 238h0M577 907h0M296 351h0M553 106h0M237 388h0M722 636h0M106 858h0M768 738h0M935 789h0M959 2h0M88 490h0M891 904h0M773 34h0M690 316h0M677 746h0M109 655h0M882 741h0M576 197h0M61 878h0M577 852h0M909 694h0M867 341h0M820 255h0M484 679h0M145 539h0M545 550h0M945 293h0M818 796h0M377 786h0M223 591h0M702 67h0M51 46h0M735 635h0M709 117h0M563 47h0M97 331h0M914 744h0M63 917h0M231 375h0M474 857h0M246 259h0M775 173h0M369 727h0M243 745h0M341 240h0M645 303h0M744 742h0M445 855h0M299 324h0M471 50h0M39 267h0M938 113h0M872 362h0M710 105h0M892 532h0M565 441h0M270 35h0M759 629h0M429 616h0M672 684h0M956 733h0M764 82h0M879 139h0M284 622h0M475 102h0M866 234h0M182 324h0M377 777h0M911 848h0M190 221h0M860 50h0M128 836h0M115 955h0M79 284h0M204 603h0M222 808h0M207 44h0M179 717h0M872 758h0M4 175h0M954 967h0M182 66h0M562 929h0M596 81h0M510 635h0M421 684h0M986 820h0M511 70h0M310 919h0M980 498h0M132 309h0M462 646h0M28 468h0M370 650h0M650 566h0M576 397h0M703 443h0M705 358h0M607 864h0M102 245h0M253 189h0M475 888h0M646 675h0M797 2h0M155 220h0M123 949h0M860 320h0M500 181h0M928 33h0M821 166h0M933 225h0M715 393h0M398 763h0M561 417h0M108 722h0M182 777h0M465 660h0M107 860h0M380 936h0M989 138h0M747 947h0M282 579h0M956 934h0M678 85h0M551 144h0M4 25h0M12 288h0M316 103h0M245 387h0M670 577h0M847 378h0M420 968h0M788 105h0M649 62h0M136 481h0M873 677h0M266 290h0M41 872h0M39 159h0M851 625h0M723 293h0M453 243h0M944 495h0M965 475h0M783 466h0M243 799h0M334 610h0M611 741h0M412 355h0M483 218h0M977 208h0M558 314h0M581 984h0M886 14h0M558 211h0M97 699h0M264 596h0M65 547h0M535 193h0M235 598h0M217 100h0M932 722h0M727 766h0M530 602h0M408 79h0M736 192h0M838 972h0M647 883h0M140 748h0M808 761h0M525 114h0M333 711h0M203 871h0M17 102h0M308 930h0M533 875h0M822 785h0M246 638h0M851 89h0M372 526h0M271 359h0M609 529h0M405 701h0M877 398h0M658 158h0M485 961h0M701 102h0M800 255h0M233 441h0M533 725h0M341 162h0M94 827h0M441 905h0M996 206h0M292 170h0M710 451h0M905 719h0M574 56h0M31 868h0M765 207h0M393 630h0M231 283h0M835 488h0M635 682h0M135 482h0M831 807h0M605 47h0M902 676h0M617 937h0M932 981h0M761 879h0M181 497h0M404 396h0M6 483h0M126 357h0M524 609h0M679 668h0M842 415h0M735 924h0M448 221h0M983 730h0M934 647h0M208 12h0M21 907h0M811 325h0M76 931h0M805 630h0M955 822h0M689 812h0M258 541h0M407 809h0M124 137h0M231 816h0M968 753h0M425 580h0M955 203h0M729 441h0M813 292h0M645 260h0M901 204h0M916 529h0M825 233h0M722 662h0M1 212h0M257 548h0M881 681h0M852 141h0M169 808h0M810 239h0M845 442h0M942 187h0M880 887h0M741 266h0M135 574h0M510 474h0M201 918h0M299 31h0M333 470h0M350 681h0M568 626h0M918 964h0M419 576h0M779 953h0M590 552h0M581 39h0M407 386h0M523 721h0M942 493h0M549 909h0M280 878h0M481 884h0M992 131h0M699 709h0M339 671h0M420 733h0M962 281h0M941 136h0M733 72h0M461 149h0M315 640h0M749 366h0M844 315h0M445 319h0M772 14h0M287 187h0M163 987h0M388 401h0M142 586h0M584 851h0M151 618h0M692 353h0M922 700h0M561 463h0M992 531h0M39 461h0M352 361h0M71 301h0M24 599h0M627 552h0M557 215h0M181 845h0M501 452h0M54 746h0M176 173h0M548 647h0M71 445h0M94 566h0M297 317h0M833 605h0M56 346h0M415 128h0M399 693h0M331 266h0M168 663h0M9 338h0M281 91h0M279 96h0M508 892h0M919 564h0M554 497h0M968 92h0M394 318h0M68 661h0M490 247h0M856 382h0M737 120h0M672 981h0M413 904h0M711 528h0M53 774h0M639 983h0M556 228h0M275 504h0M833 321h0M852 271h0M142 223h0M304 75h0M43 72h0M580 630h0M740 66h0M938 842h0M377 934h0M409 429h0M668 947h0M819 609h0M738 858h0M922 240h0M491 550h0M146 442h0M985 410h0M11 237h0M621 848h0M539 947h0M395 851h0M83 507h0M467 793h0M730 326h0M654 216h0M937 878h0M194 580h0M385 357h0M993 352h0M11 922h0M407 518h0M142 124h0M49 188h0M832 343h0M55 800h0M502 24h0M164 547h0M508 24h0M468 415h0M527 591h0M631 473h0M735 795h0M809 549h0M857 180h0M851 677h0M563 764h0M181 158h0M405 557h0M895 888h0M213 194h0M565 2h0M582 246h0M968 2h0M983 686h0M9 49h0M240 219h0M758 474h0M234 763h0M206 949h0M769 229h0M549 283h0M823 170h0M845 892h0M911 437h0M753 526h0M647 355h0M4 989h0M964 947h0M874 533h0M289 358h0M786 583h0M340 419h0M536 722h0M442 800h0M598 500h0M719 543h0M680 19h0M887 245h0M711 212h0M16 528h0M84 392h0M103 824h0M499 427h0M224 570h0M781 410h0M747 294h0M462 349h0M431 439h0M65 52h0M445 969h0M962 256h0M44 719h0M738 710h0M270 838h0M322 203h0M944 874h0M252 939h0M354 87h0M108 636h0M313 559h0M503 634h0M226 984h0M908 448h0M88 469h0M940 605h0M678 676h0M280 202h0M453 577h0M150 104h0M567 103h0M850 117h0M126 196h0M328 814h0M238 265h0M613 509h0M922 671h0M0 120h0M690 604h0M418 536h0M327 984h0M488 765h0M872 36h0M935 443h0M625 643h0M150 808h0M611 179h0M202 41h0M966 594h0M274 569h0M372 108h0M854 36h0M392 837h0M980 307h0M300 587h0M492 251h0M347 983h0M129 787h0M495 918h0M776 158h0M498 960h0M947 472h0M879 729h0M159 155h0M227 669h0M191 155h0M139 436h0M12 540h0M805 525h0M483 337h0M506 805h0M894 84h0M29 312h0M710 560h0M203 991h0M567 69h0M628 952h0M905 41h0M744 839h0M943 101h0M22 9h0M416 293h0M42 464h0M346 222h0M958 240h0M386 18h0M965 338h0M568 109h0M649 601h0M854 751h0M994 478h0M166 750h0M770 636h0M724 226h0M395 989h0M267 610h0M915 633h0M631 717h0M426 413h0M363 58h0M33 738h0M864 508h0M95 688h0M681 228h0M237 696h0M551 338h0M239 459h0M359 389h0M766 462h0M684 580h0M467 422h0M490 175h0M767 376h0M516 364h0M618 393h0M558 101h0M362 444h0M724 179h0M913 308h0M146 371h0M719 712h0M840 217h0M888 82h0M941 466h0M268 835h0M310 772h0M925 379h0M982 576h0M842 432h0M123 629h0M459 665h0M990 920h0M71 85h0M532 880h0M172 296h0M668 17h0M968 742h0M920 957h0M305 443h0M315 951h0M816 925h0M627 618h0M158 115h0M557 170h0M973 208h0M544 786h0M426 763h0M744 808h0M371 499h0M7 256h0M343 391h0M25 74h0M529 59h0M428 69h0M508 407h0M764 709h0M680 938h0M312 676h0M608 968h0M381 568h0M178 839h0M205 942h0M963 910h0M813 810h0M307 861h0M770 548h0M491 311h0M615 828h0M635 698h0M754 830h0M268 173h0M959 686h0M389 354h0M834 208h0M418 368h0M14 283h0M7 564h0M847 582h0M800 399h0M180 832h0M713 385h0M922 777h0M405 851h0M599 477h0M366 382h0M45 464h0M706 524h0M117 380h0M386 130h0M966 970h0M414 412h0M240 722h0M646 968h0M644 954h0M582 162h0M370 227h0M944 125h0M60 447h0M163 383h0M241 5h0M374 525h0M208 533h0M345 804h0M472 162h0M659 192h0M242 261h0M915 135h0M916 239h0M555 288h0M711 455h0M917 26h0M212 756h0M608 912h0M486 229h0M725 852h0M745 460h0M680 406h0M184 542h0M837 84h0M63 784h0M147 19h0M752 998h0M603 402h0M243 710h0M922 148h0M222 407h0M952 506h0M705 380h0M417 480h0M147 962h0M100 594h0M80 955h0M694 293h0M39 103h0M549 436h0M582 622h0M37 24h0M909 576h0M412 360h0M598 90h0M363 36h0M851 988h0M195 544h0M499 50h0M414 607h0M252 681h0M96 472h0M409 80h0M201 893h0M675 556h0M452 494h0M660 552h0M982 284h0M451 801h0M200 399h0M816 12h0M89 297h0M359 871h0M156 384h0M859 99h0M572 398h0M415 805h0M514 462h0M923 66h0M826 189h0M258 959h0M175 884h0M331 35h0M50 335h0M793 317h0M591 239h0M324 71h0M448 306h0M248 26h0M466 109h0M700 924h0M856 285h0M901 586h0M336 98h0M783 634h0M180 229h0M593 550h0M890 752h0M230 540h0M295 830h0M125 659h0M761 655h0M29 852h0M26 457h0M252 859h0M534 453h0M95 49h0M777 500h0M350 249h0M895 987h0M518 467h0M356 269h0M838 929h0M707 168h0M44 381h0M767 892h0M238 376h0M517 978h0M924 0h0M872 109h0M177 407h0M48 647h0M480 572h0M376 737h0M76 334h0M728 115h0M474 720h0M894 518h0M696 176h0M969 368h0M655 880h0M94 398h0M272 590h0M327 877h0M713 782h0M438 82h0M365 651h0M26 624h0M864 569h0M900 381h0M220 434h0M956 626h0M171 936h0M981 683h0M504 708h0M658 386h0M901 39h0M250 252h0M368 734h0M156 943h0M489 418h0M204 671h0M13 732h0M52 588h0M526 523h0M959 85h0M939 162h0M466 206h0M719 967h0M879 442h0M71 902h0M791 653h0M67 289h0M582 869h0M280 399h0M677 710h0M919 208h0M55 687h0M931 132h0M265 291h0M235 29h0M663 320h0M862 760h0M215 707h0M245 245h0M79 944h0M61 233h0M443 822h0M309 873h0M404 228h0M577 676h0M961 95h0M348 336h0M707 427h0M853 169h0M299 437h0M846 731h0M85 78h0M882 273h0M350 907h0M713 819h0M928 34h0M269 922h0M449 364h0M468 787h0M646 164h0M518 806h0M662 531h0M482 292h0M737 198h0M217 909h0M510 100h0M870 759h0M475 510h0M549 570h0M76 964h0M617 46h0M829 881h0M42 784h0M657 197h0M1 501h0M597 321h0M758 44h0M807 335h0M811 417h0M933 49h0M598 179h0M540 941h0M199 988h0M273 382h0M374 971h0M170 865h0M506 27h0M467 155h0M909 346h0M111 306h0M121 306h0M876 877h0M7 419h0M785 647h0M447 515h0M693 163h0M981 342h0M332 445h0M586 588h0M527 665h0M557 820h0M368 252h0M718 330h0M473 387h0M796 452h0M517 837h0M107 239h0M983 227h0M523 662h0M120 197h0M632 625h0M808 933h0M548 967h0M670 889h0M196 937h0M548 373h0M682 958h0M40 406h0M819 258h0M430 529h0M847 701h0M722 516h0M713 277h0M861 786h0M57 125h0M828 958h0M680 212h0M235 994h0M73 735h0M251 705h0M142 944h0M548 538h0M562 191h0M867 731h0M815 46h0M864 540h0M418 484h0M801 244h0M702 759h0M51 330h0M385 79h0M788 24h0M103 306h0M131 34h0M613 619h0M384 404h0M369 734h0" fill="none" stroke-width="0.85" stroke-linecap="square" vector-effect="non-scaling-stroke"/><filter id="tb" x="-2%" y="-2%" width="104%" height="104%" color-interpolation-filters="sRGB"><feConvolveMatrix order="3" kernelMatrix="1 2 1 2 16 2 1 2 1" preserveAlpha="false"/></filter></defs><g><g transform="translate(24.40 126.50) scale(0.147548 -0.115616)" stroke="#ff0000" stroke-opacity="1.00"><use href="#d0"/></g></g><path d="M24.20 10.20V126.70H172.60" fill="none" stroke="#c0c8c8" stroke-width="0.80"/><g filter="url(#tb)" font-size="100" text-rendering="geometricPrecision" fill="#202020" stroke="#202020" stroke-width="3.00"><text transform="translate(24.40 133.10) rotate(.01) scale(0.0450 0.0550)" text-anchor="middle">0</text><text transform="translate(22.80 128.40) rotate(.01) scale(0.0450 0.0550)" text-anchor="end">0</text><text transform="translate(33.07 133.10) rotate(.01) scale(0.0450 0.0550)" text-anchor="middle">15</text><text transform="translate(22.80 121.61) rotate(.01) scale(0.0450 0.0550)" text-anchor="end">15</text><text transform="translate(41.74 133.10) rotate(.01) scale(0.0450 0.0550)" text-anchor="middle">30</text><text transform="translate(22.80 114.81) rotate(.01) scale(0.0450 0.0550)" text-anchor="end">30</text><text transform="translate(50.41 133.10) rotate(.01) scale(0.0450 0.0550)" text-anchor="middle">45</text><text transform="translate(22.80 108.02) rotate(.01) scale(0.0450 0.0550)" text-anchor="end">45</text><text transform="translate(59.08 133.10) rotate(.01) scale(0.0450 0.0550)" text-anchor="middle">60</text><text transform="translate(22.80 101.22) rotate(.01) scale(0.0450 0.0550)" text-anchor="end">60</text><text transform="translate(67.75 133.10) rotate(.01) scale(0.0450 0.0550)" text-anchor="middle">75</text><text transform="translate(22.80 94.43) rotate(.01) scale(0.0450 0.0550)" text-anchor="end">75</text><text transform="translate(76.42 133.10) rotate(.01) scale(0.0450 0.0550)" text-anchor="middle">90</text><text transform="translate(22.80 87.64) rotate(.01) scale(0.0450 0.0550)" text-anchor="end">90</text><text transform="translate(85.09 133.10) rotate(.01) scale(0.0450 0.0550)" text-anchor="middle">105</text><text transform="translate(22.80 80.84) rotate(.01) scale(0.0450 0.0550)" text-anchor="end">105</text><text transform="translate(93.76 133.10) rotate(.01) scale(0.0450 0.0550)" text-anchor="middle">120</text><text transform="translate(22.80 74.05) rotate(.01) scale(0.0450 0.0550)" text-anchor="end">120</text><text transform="translate(102.44 133.10) rotate(.01) scale(0.0450 0.0550)" text-anchor="middle">135</text><text transform="translate(22.80 67.25) rotate(.01) scale(0.0450 0.0550)" text-anchor="end">135</text><text transform="translate(111.11 133.10) rotate(.01) scale(0.0450 0.0550)" text-anchor="middle">150</text><text transform="translate(22.80 60.46) rotate(.01) scale(0.0450 0.0550)" text-anchor="end">150</text><text transform="translate(119.78 133.10) rotate(.01) scale(0.0450 0.0550)" text-anchor="middle">165</text><text transform="translate(22.80 53.66) rotate(.01) scale(0.0450 0.0550)" text-anchor="end">165</text><text transform="translate(128.45 133.10) rotate(.01) scale(0.0450 0.0550)" text-anchor="middle">180</text><text transform="translate(22.80 46.87) rotate(.01) scale(0.0450 0.0550)" text-anchor="end">180</text><text transform="translate(137.12 133.10) rotate(.01) scale(0.0450 0.0550)" text-anchor="middle">195</text><text transform="translate(22.80 40.08) rotate(.01) scale(0.0450 0.0550)" text-anchor="end">195</text><text transform="translate(145.79 133.10) rotate(.01) scale(0.0450 0.0550)" text-anchor="middle">210</text><text transform="translate(22.80 33.28) rotate(.01) scale(0.0450 0.0550)" text-anchor="end">210</text><text transform="translate(154.46 133.10) rotate(.01) scale(0.0450 0.0550)" text-anchor="middle">225</text><text transform="translate(22.80 26.49) rotate(.01) scale(0.0450 0.0550)" text-anchor="end">225</text><text transform="translate(163.13 133.10) rotate(.01) scale(0.0450 0.0550)" text-anchor="middle">240</text><text transform="translate(22.80 19.69) rotate(.01) scale(0.0450 0.0550)" text-anchor="end">240</text><text transform="translate(171.80 133.10) rotate(.01) scale(0.0450 0.0550)" text-anchor="middle">255</text><text transform="translate(22.80 12.90) rotate(.01) scale(0.0450 0.0550)" text-anchor="end">255</text></g><g font-size="6.30" fill="#222222" stroke="#222222" stroke-width="0.10"><text transform="translate(98.10 7.80) scale(1 1.080)" text-anchor="middle">Horizontal Encrypted of R</text><text transform="translate(98.10 141.00) scale(1 1.080)" text-anchor="middle">Pixel value on location (x,y) of R</text><text transform="translate(11.90 68.75) rotate(-90) scale(1 1.080)" text-anchor="middle">Pixel value on location (x+1,y) of R</text></g><g><g transform="translate(230.60 126.50) scale(0.147447 -0.115616)" stroke="#00ff00" stroke-opacity="1.00"><use href="#d1"/></g></g><path d="M230.40 10.20V126.70H378.70" fill="none" stroke="#c0c8c8" stroke-width="0.80"/><g filter="url(#tb)" font-size="100" text-rendering="geometricPrecision" fill="#202020" stroke="#202020" stroke-width="3.00"><text transform="translate(230.60 133.10) rotate(.01) scale(0.0450 0.0550)" text-anchor="middle">0</text><text transform="translate(229.00 128.40) rotate(.01) scale(0.0450 0.0550)" text-anchor="end">0</text><text transform="translate(239.26 133.10) rotate(.01) scale(0.0450 0.0550)" text-anchor="middle">15</text><text transform="translate(229.00 121.61) rotate(.01) scale(0.0450 0.0550)" text-anchor="end">15</text><text transform="translate(247.93 133.10) rotate(.01) scale(0.0450 0.0550)" text-anchor="middle">30</text><text transform="translate(229.00 114.81) rotate(.01) scale(0.0450 0.0550)" text-anchor="end">30</text><text transform="translate(256.59 133.10) rotate(.01) scale(0.0450 0.0550)" text-anchor="middle">45</text><text transform="translate(229.00 108.02) rotate(.01) scale(0.0450 0.0550)" text-anchor="end">45</text><text transform="translate(265.26 133.10) rotate(.01) scale(0.0450 0.0550)" text-anchor="middle">60</text><text transform="translate(229.00 101.22) rotate(.01) scale(0.0450 0.0550)" text-anchor="end">60</text><text transform="translate(273.92 133.10) rotate(.01) scale(0.0450 0.0550)" text-anchor="middle">75</text><text transform="translate(229.00 94.43) rotate(.01) scale(0.0450 0.0550)" text-anchor="end">75</text><text transform="translate(282.59 133.10) rotate(.01) scale(0.0450 0.0550)" text-anchor="middle">90</text><text transform="translate(229.00 87.64) rotate(.01) scale(0.0450 0.0550)" text-anchor="end">90</text><text transform="translate(291.25 133.10) rotate(.01) scale(0.0450 0.0550)" text-anchor="middle">105</text><text transform="translate(229.00 80.84) rotate(.01) scale(0.0450 0.0550)" text-anchor="end">105</text><text transform="translate(299.92 133.10) rotate(.01) scale(0.0450 0.0550)" text-anchor="middle">120</text><text transform="translate(229.00 74.05) rotate(.01) scale(0.0450 0.0550)" text-anchor="end">120</text><text transform="translate(308.58 133.10) rotate(.01) scale(0.0450 0.0550)" text-anchor="middle">135</text><text transform="translate(229.00 67.25) rotate(.01) scale(0.0450 0.0550)" text-anchor="end">135</text><text transform="translate(317.25 133.10) rotate(.01) scale(0.0450 0.0550)" text-anchor="middle">150</text><text transform="translate(229.00 60.46) rotate(.01) scale(0.0450 0.0550)" text-anchor="end">150</text><text transform="translate(325.91 133.10) rotate(.01) scale(0.0450 0.0550)" text-anchor="middle">165</text><text transform="translate(229.00 53.66) rotate(.01) scale(0.0450 0.0550)" text-anchor="end">165</text><text transform="translate(334.58 133.10) rotate(.01) scale(0.0450 0.0550)" text-anchor="middle">180</text><text transform="translate(229.00 46.87) rotate(.01) scale(0.0450 0.0550)" text-anchor="end">180</text><text transform="translate(343.24 133.10) rotate(.01) scale(0.0450 0.0550)" text-anchor="middle">195</text><text transform="translate(229.00 40.08) rotate(.01) scale(0.0450 0.0550)" text-anchor="end">195</text><text transform="translate(351.91 133.10) rotate(.01) scale(0.0450 0.0550)" text-anchor="middle">210</text><text transform="translate(229.00 33.28) rotate(.01) scale(0.0450 0.0550)" text-anchor="end">210</text><text transform="translate(360.57 133.10) rotate(.01) scale(0.0450 0.0550)" text-anchor="middle">225</text><text transform="translate(229.00 26.49) rotate(.01) scale(0.0450 0.0550)" text-anchor="end">225</text><text transform="translate(369.24 133.10) rotate(.01) scale(0.0450 0.0550)" text-anchor="middle">240</text><text transform="translate(229.00 19.69) rotate(.01) scale(0.0450 0.0550)" text-anchor="end">240</text><text transform="translate(377.90 133.10) rotate(.01) scale(0.0450 0.0550)" text-anchor="middle">255</text><text transform="translate(229.00 12.90) rotate(.01) scale(0.0450 0.0550)" text-anchor="end">255</text></g><g font-size="6.30" fill="#222222" stroke="#222222" stroke-width="0.10"><text transform="translate(304.25 7.80) scale(1 1.080)" text-anchor="middle">Horizontal Encrypted of G</text><text transform="translate(304.25 141.00) scale(1 1.080)" text-anchor="middle">Pixel value on location (x,y) of G</text><text transform="translate(218.10 68.75) rotate(-90) scale(1 1.080)" text-anchor="middle">Pixel value on location (x+1,y) of G</text></g><g><g transform="translate(437.00 126.50) scale(0.147047 -0.115616)" stroke="#0000ff" stroke-opacity="1.00"><use href="#d2"/></g></g><path d="M436.80 10.20V126.70H584.70" fill="none" stroke="#c0c8c8" stroke-width="0.80"/><g filter="url(#tb)" font-size="100" text-rendering="geometricPrecision" fill="#202020" stroke="#202020" stroke-width="3.00"><text transform="translate(437.00 133.10) rotate(.01) scale(0.0450 0.0550)" text-anchor="middle">0</text><text transform="translate(435.40 128.40) rotate(.01) scale(0.0450 0.0550)" text-anchor="end">0</text><text transform="translate(445.64 133.10) rotate(.01) scale(0.0450 0.0550)" text-anchor="middle">15</text><text transform="translate(435.40 121.61) rotate(.01) scale(0.0450 0.0550)" text-anchor="end">15</text><text transform="translate(454.28 133.10) rotate(.01) scale(0.0450 0.0550)" text-anchor="middle">30</text><text transform="translate(435.40 114.81) rotate(.01) scale(0.0450 0.0550)" text-anchor="end">30</text><text transform="translate(462.92 133.10) rotate(.01) scale(0.0450 0.0550)" text-anchor="middle">45</text><text transform="translate(435.40 108.02) rotate(.01) scale(0.0450 0.0550)" text-anchor="end">45</text><text transform="translate(471.56 133.10) rotate(.01) scale(0.0450 0.0550)" text-anchor="middle">60</text><text transform="translate(435.40 101.22) rotate(.01) scale(0.0450 0.0550)" text-anchor="end">60</text><text transform="translate(480.21 133.10) rotate(.01) scale(0.0450 0.0550)" text-anchor="middle">75</text><text transform="translate(435.40 94.43) rotate(.01) scale(0.0450 0.0550)" text-anchor="end">75</text><text transform="translate(488.85 133.10) rotate(.01) scale(0.0450 0.0550)" text-anchor="middle">90</text><text transform="translate(435.40 87.64) rotate(.01) scale(0.0450 0.0550)" text-anchor="end">90</text><text transform="translate(497.49 133.10) rotate(.01) scale(0.0450 0.0550)" text-anchor="middle">105</text><text transform="translate(435.40 80.84) rotate(.01) scale(0.0450 0.0550)" text-anchor="end">105</text><text transform="translate(506.13 133.10) rotate(.01) scale(0.0450 0.0550)" text-anchor="middle">120</text><text transform="translate(435.40 74.05) rotate(.01) scale(0.0450 0.0550)" text-anchor="end">120</text><text transform="translate(514.77 133.10) rotate(.01) scale(0.0450 0.0550)" text-anchor="middle">135</text><text transform="translate(435.40 67.25) rotate(.01) scale(0.0450 0.0550)" text-anchor="end">135</text><text transform="translate(523.41 133.10) rotate(.01) scale(0.0450 0.0550)" text-anchor="middle">150</text><text transform="translate(435.40 60.46) rotate(.01) scale(0.0450 0.0550)" text-anchor="end">150</text><text transform="translate(532.05 133.10) rotate(.01) scale(0.0450 0.0550)" text-anchor="middle">165</text><text transform="translate(435.40 53.66) rotate(.01) scale(0.0450 0.0550)" text-anchor="end">165</text><text transform="translate(540.69 133.10) rotate(.01) scale(0.0450 0.0550)" text-anchor="middle">180</text><text transform="translate(435.40 46.87) rotate(.01) scale(0.0450 0.0550)" text-anchor="end">180</text><text transform="translate(549.34 133.10) rotate(.01) scale(0.0450 0.0550)" text-anchor="middle">195</text><text transform="translate(435.40 40.08) rotate(.01) scale(0.0450 0.0550)" text-anchor="end">195</text><text transform="translate(557.98 133.10) rotate(.01) scale(0.0450 0.0550)" text-anchor="middle">210</text><text transform="translate(435.40 33.28) rotate(.01) scale(0.0450 0.0550)" text-anchor="end">210</text><text transform="translate(566.62 133.10) rotate(.01) scale(0.0450 0.0550)" text-anchor="middle">225</text><text transform="translate(435.40 26.49) rotate(.01) scale(0.0450 0.0550)" text-anchor="end">225</text><text transform="translate(575.26 133.10) rotate(.01) scale(0.0450 0.0550)" text-anchor="middle">240</text><text transform="translate(435.40 19.69) rotate(.01) scale(0.0450 0.0550)" text-anchor="end">240</text><text transform="translate(583.90 133.10) rotate(.01) scale(0.0450 0.0550)" text-anchor="middle">255</text><text transform="translate(435.40 12.90) rotate(.01) scale(0.0450 0.0550)" text-anchor="end">255</text></g><g font-size="6.30" fill="#222222" stroke="#222222" stroke-width="0.10"><text transform="translate(510.45 7.80) scale(1 1.080)" text-anchor="middle">Horizontal Encrypted of B</text><text transform="translate(510.45 141.00) scale(1 1.080)" text-anchor="middle">Pixel value on location (x,y) of B</text><text transform="translate(424.50 68.75) rotate(-90) scale(1 1.080)" text-anchor="middle">Pixel value on location (x+1,y) of B</text></g><text transform="translate(298.30 165.60) scale(0.930 1)" text-anchor="middle" font-size="16.00" fill="#000" stroke="#000" stroke-width="0.15" style="font-family:'Liberation Serif','Times New Roman',serif">(a)</text><g><g transform="translate(24.40 310.60) scale(0.147548 -0.115215)" stroke="#ff0000" stroke-opacity="1.00"><use href="#d1" transform="translate(999 0) scale(-1 1)"/></g></g><path d="M24.20 194.70V310.80H172.60" fill="none" stroke="#c0c8c8" stroke-width="0.80"/><g filter="url(#tb)" font-size="100" text-rendering="geometricPrecision" fill="#202020" stroke="#202020" stroke-width="3.00"><text transform="translate(24.40 317.20) rotate(.01) scale(0.0450 0.0550)" text-anchor="middle">0</text><text transform="translate(22.80 312.50) rotate(.01) scale(0.0450 0.0550)" text-anchor="end">0</text><text transform="translate(33.07 317.20) rotate(.01) scale(0.0450 0.0550)" text-anchor="middle">15</text><text transform="translate(22.80 305.73) rotate(.01) scale(0.0450 0.0550)" text-anchor="end">15</text><text transform="translate(41.74 317.20) rotate(.01) scale(0.0450 0.0550)" text-anchor="middle">30</text><text transform="translate(22.80 298.96) rotate(.01) scale(0.0450 0.0550)" text-anchor="end">30</text><text transform="translate(50.41 317.20) rotate(.01) scale(0.0450 0.0550)" text-anchor="middle">45</text><text transform="translate(22.80 292.19) rotate(.01) scale(0.0450 0.0550)" text-anchor="end">45</text><text transform="translate(59.08 317.20) rotate(.01) scale(0.0450 0.0550)" text-anchor="middle">60</text><text transform="translate(22.80 285.42) rotate(.01) scale(0.0450 0.0550)" text-anchor="end">60</text><text transform="translate(67.75 317.20) rotate(.01) scale(0.0450 0.0550)" text-anchor="middle">75</text><text transform="translate(22.80 278.65) rotate(.01) scale(0.0450 0.0550)" text-anchor="end">75</text><text transform="translate(76.42 317.20) rotate(.01) scale(0.0450 0.0550)" text-anchor="middle">90</text><text transform="translate(22.80 271.88) rotate(.01) scale(0.0450 0.0550)" text-anchor="end">90</text><text transform="translate(85.09 317.20) rotate(.01) scale(0.0450 0.0550)" text-anchor="middle">105</text><text transform="translate(22.80 265.11) rotate(.01) scale(0.0450 0.0550)" text-anchor="end">105</text><text transform="translate(93.76 317.20) rotate(.01) scale(0.0450 0.0550)" text-anchor="middle">120</text><text transform="translate(22.80 258.34) rotate(.01) scale(0.0450 0.0550)" text-anchor="end">120</text><text transform="translate(102.44 317.20) rotate(.01) scale(0.0450 0.0550)" text-anchor="middle">135</text><text transform="translate(22.80 251.56) rotate(.01) scale(0.0450 0.0550)" text-anchor="end">135</text><text transform="translate(111.11 317.20) rotate(.01) scale(0.0450 0.0550)" text-anchor="middle">150</text><text transform="translate(22.80 244.79) rotate(.01) scale(0.0450 0.0550)" text-anchor="end">150</text><text transform="translate(119.78 317.20) rotate(.01) scale(0.0450 0.0550)" text-anchor="middle">165</text><text transform="translate(22.80 238.02) rotate(.01) scale(0.0450 0.0550)" text-anchor="end">165</text><text transform="translate(128.45 317.20) rotate(.01) scale(0.0450 0.0550)" text-anchor="middle">180</text><text transform="translate(22.80 231.25) rotate(.01) scale(0.0450 0.0550)" text-anchor="end">180</text><text transform="translate(137.12 317.20) rotate(.01) scale(0.0450 0.0550)" text-anchor="middle">195</text><text transform="translate(22.80 224.48) rotate(.01) scale(0.0450 0.0550)" text-anchor="end">195</text><text transform="translate(145.79 317.20) rotate(.01) scale(0.0450 0.0550)" text-anchor="middle">210</text><text transform="translate(22.80 217.71) rotate(.01) scale(0.0450 0.0550)" text-anchor="end">210</text><text transform="translate(154.46 317.20) rotate(.01) scale(0.0450 0.0550)" text-anchor="middle">225</text><text transform="translate(22.80 210.94) rotate(.01) scale(0.0450 0.0550)" text-anchor="end">225</text><text transform="translate(163.13 317.20) rotate(.01) scale(0.0450 0.0550)" text-anchor="middle">240</text><text transform="translate(22.80 204.17) rotate(.01) scale(0.0450 0.0550)" text-anchor="end">240</text><text transform="translate(171.80 317.20) rotate(.01) scale(0.0450 0.0550)" text-anchor="middle">255</text><text transform="translate(22.80 197.40) rotate(.01) scale(0.0450 0.0550)" text-anchor="end">255</text></g><g font-size="6.30" fill="#222222" stroke="#222222" stroke-width="0.10"><text transform="translate(98.10 192.30) scale(1 1.080)" text-anchor="middle">Vertical Encrypted of R</text><text transform="translate(98.10 325.10) scale(1 1.080)" text-anchor="middle">Pixel value on location (x,y) of R</text><text transform="translate(11.90 253.05) rotate(-90) scale(1 1.080)" text-anchor="middle">Pixel value on location (x,y+1) of R</text></g><g><g transform="translate(230.60 310.60) scale(0.147447 -0.115215)" stroke="#00ff00" stroke-opacity="1.00"><use href="#d2" transform="translate(999 0) scale(-1 1)"/></g></g><path d="M230.40 194.70V310.80H378.70" fill="none" stroke="#c0c8c8" stroke-width="0.80"/><g filter="url(#tb)" font-size="100" text-rendering="geometricPrecision" fill="#202020" stroke="#202020" stroke-width="3.00"><text transform="translate(230.60 317.20) rotate(.01) scale(0.0450 0.0550)" text-anchor="middle">0</text><text transform="translate(229.00 312.50) rotate(.01) scale(0.0450 0.0550)" text-anchor="end">0</text><text transform="translate(239.26 317.20) rotate(.01) scale(0.0450 0.0550)" text-anchor="middle">15</text><text transform="translate(229.00 305.73) rotate(.01) scale(0.0450 0.0550)" text-anchor="end">15</text><text transform="translate(247.93 317.20) rotate(.01) scale(0.0450 0.0550)" text-anchor="middle">30</text><text transform="translate(229.00 298.96) rotate(.01) scale(0.0450 0.0550)" text-anchor="end">30</text><text transform="translate(256.59 317.20) rotate(.01) scale(0.0450 0.0550)" text-anchor="middle">45</text><text transform="translate(229.00 292.19) rotate(.01) scale(0.0450 0.0550)" text-anchor="end">45</text><text transform="translate(265.26 317.20) rotate(.01) scale(0.0450 0.0550)" text-anchor="middle">60</text><text transform="translate(229.00 285.42) rotate(.01) scale(0.0450 0.0550)" text-anchor="end">60</text><text transform="translate(273.92 317.20) rotate(.01) scale(0.0450 0.0550)" text-anchor="middle">75</text><text transform="translate(229.00 278.65) rotate(.01) scale(0.0450 0.0550)" text-anchor="end">75</text><text transform="translate(282.59 317.20) rotate(.01) scale(0.0450 0.0550)" text-anchor="middle">90</text><text transform="translate(229.00 271.88) rotate(.01) scale(0.0450 0.0550)" text-anchor="end">90</text><text transform="translate(291.25 317.20) rotate(.01) scale(0.0450 0.0550)" text-anchor="middle">105</text><text transform="translate(229.00 265.11) rotate(.01) scale(0.0450 0.0550)" text-anchor="end">105</text><text transform="translate(299.92 317.20) rotate(.01) scale(0.0450 0.0550)" text-anchor="middle">120</text><text transform="translate(229.00 258.34) rotate(.01) scale(0.0450 0.0550)" text-anchor="end">120</text><text transform="translate(308.58 317.20) rotate(.01) scale(0.0450 0.0550)" text-anchor="middle">135</text><text transform="translate(229.00 251.56) rotate(.01) scale(0.0450 0.0550)" text-anchor="end">135</text><text transform="translate(317.25 317.20) rotate(.01) scale(0.0450 0.0550)" text-anchor="middle">150</text><text transform="translate(229.00 244.79) rotate(.01) scale(0.0450 0.0550)" text-anchor="end">150</text><text transform="translate(325.91 317.20) rotate(.01) scale(0.0450 0.0550)" text-anchor="middle">165</text><text transform="translate(229.00 238.02) rotate(.01) scale(0.0450 0.0550)" text-anchor="end">165</text><text transform="translate(334.58 317.20) rotate(.01) scale(0.0450 0.0550)" text-anchor="middle">180</text><text transform="translate(229.00 231.25) rotate(.01) scale(0.0450 0.0550)" text-anchor="end">180</text><text transform="translate(343.24 317.20) rotate(.01) scale(0.0450 0.0550)" text-anchor="middle">195</text><text transform="translate(229.00 224.48) rotate(.01) scale(0.0450 0.0550)" text-anchor="end">195</text><text transform="translate(351.91 317.20) rotate(.01) scale(0.0450 0.0550)" text-anchor="middle">210</text><text transform="translate(229.00 217.71) rotate(.01) scale(0.0450 0.0550)" text-anchor="end">210</text><text transform="translate(360.57 317.20) rotate(.01) scale(0.0450 0.0550)" text-anchor="middle">225</text><text transform="translate(229.00 210.94) rotate(.01) scale(0.0450 0.0550)" text-anchor="end">225</text><text transform="translate(369.24 317.20) rotate(.01) scale(0.0450 0.0550)" text-anchor="middle">240</text><text transform="translate(229.00 204.17) rotate(.01) scale(0.0450 0.0550)" text-anchor="end">240</text><text transform="translate(377.90 317.20) rotate(.01) scale(0.0450 0.0550)" text-anchor="middle">255</text><text transform="translate(229.00 197.40) rotate(.01) scale(0.0450 0.0550)" text-anchor="end">255</text></g><g font-size="6.30" fill="#222222" stroke="#222222" stroke-width="0.10"><text transform="translate(304.25 192.30) scale(1 1.080)" text-anchor="middle">Vertical Encrypted of G</text><text transform="translate(304.25 325.10) scale(1 1.080)" text-anchor="middle">Pixel value on location (x,y) of G</text><text transform="translate(218.10 253.05) rotate(-90) scale(1 1.080)" text-anchor="middle">Pixel value on location (x,y+1) of G</text></g><g><g transform="translate(437.00 310.60) scale(0.147047 -0.115215)" stroke="#0000ff" stroke-opacity="1.00"><use href="#d0" transform="translate(999 0) scale(-1 1)"/></g></g><path d="M436.80 194.70V310.80H584.70" fill="none" stroke="#c0c8c8" stroke-width="0.80"/><g filter="url(#tb)" font-size="100" text-rendering="geometricPrecision" fill="#202020" stroke="#202020" stroke-width="3.00"><text transform="translate(437.00 317.20) rotate(.01) scale(0.0450 0.0550)" text-anchor="middle">0</text><text transform="translate(435.40 312.50) rotate(.01) scale(0.0450 0.0550)" text-anchor="end">0</text><text transform="translate(445.64 317.20) rotate(.01) scale(0.0450 0.0550)" text-anchor="middle">15</text><text transform="translate(435.40 305.73) rotate(.01) scale(0.0450 0.0550)" text-anchor="end">15</text><text transform="translate(454.28 317.20) rotate(.01) scale(0.0450 0.0550)" text-anchor="middle">30</text><text transform="translate(435.40 298.96) rotate(.01) scale(0.0450 0.0550)" text-anchor="end">30</text><text transform="translate(462.92 317.20) rotate(.01) scale(0.0450 0.0550)" text-anchor="middle">45</text><text transform="translate(435.40 292.19) rotate(.01) scale(0.0450 0.0550)" text-anchor="end">45</text><text transform="translate(471.56 317.20) rotate(.01) scale(0.0450 0.0550)" text-anchor="middle">60</text><text transform="translate(435.40 285.42) rotate(.01) scale(0.0450 0.0550)" text-anchor="end">60</text><text transform="translate(480.21 317.20) rotate(.01) scale(0.0450 0.0550)" text-anchor="middle">75</text><text transform="translate(435.40 278.65) rotate(.01) scale(0.0450 0.0550)" text-anchor="end">75</text><text transform="translate(488.85 317.20) rotate(.01) scale(0.0450 0.0550)" text-anchor="middle">90</text><text transform="translate(435.40 271.88) rotate(.01) scale(0.0450 0.0550)" text-anchor="end">90</text><text transform="translate(497.49 317.20) rotate(.01) scale(0.0450 0.0550)" text-anchor="middle">105</text><text transform="translate(435.40 265.11) rotate(.01) scale(0.0450 0.0550)" text-anchor="end">105</text><text transform="translate(506.13 317.20) rotate(.01) scale(0.0450 0.0550)" text-anchor="middle">120</text><text transform="translate(435.40 258.34) rotate(.01) scale(0.0450 0.0550)" text-anchor="end">120</text><text transform="translate(514.77 317.20) rotate(.01) scale(0.0450 0.0550)" text-anchor="middle">135</text><text transform="translate(435.40 251.56) rotate(.01) scale(0.0450 0.0550)" text-anchor="end">135</text><text transform="translate(523.41 317.20) rotate(.01) scale(0.0450 0.0550)" text-anchor="middle">150</text><text transform="translate(435.40 244.79) rotate(.01) scale(0.0450 0.0550)" text-anchor="end">150</text><text transform="translate(532.05 317.20) rotate(.01) scale(0.0450 0.0550)" text-anchor="middle">165</text><text transform="translate(435.40 238.02) rotate(.01) scale(0.0450 0.0550)" text-anchor="end">165</text><text transform="translate(540.69 317.20) rotate(.01) scale(0.0450 0.0550)" text-anchor="middle">180</text><text transform="translate(435.40 231.25) rotate(.01) scale(0.0450 0.0550)" text-anchor="end">180</text><text transform="translate(549.34 317.20) rotate(.01) scale(0.0450 0.0550)" text-anchor="middle">195</text><text transform="translate(435.40 224.48) rotate(.01) scale(0.0450 0.0550)" text-anchor="end">195</text><text transform="translate(557.98 317.20) rotate(.01) scale(0.0450 0.0550)" text-anchor="middle">210</text><text transform="translate(435.40 217.71) rotate(.01) scale(0.0450 0.0550)" text-anchor="end">210</text><text transform="translate(566.62 317.20) rotate(.01) scale(0.0450 0.0550)" text-anchor="middle">225</text><text transform="translate(435.40 210.94) rotate(.01) scale(0.0450 0.0550)" text-anchor="end">225</text><text transform="translate(575.26 317.20) rotate(.01) scale(0.0450 0.0550)" text-anchor="middle">240</text><text transform="translate(435.40 204.17) rotate(.01) scale(0.0450 0.0550)" text-anchor="end">240</text><text transform="translate(583.90 317.20) rotate(.01) scale(0.0450 0.0550)" text-anchor="middle">255</text><text transform="translate(435.40 197.40) rotate(.01) scale(0.0450 0.0550)" text-anchor="end">255</text></g><g font-size="6.30" fill="#222222" stroke="#222222" stroke-width="0.10"><text transform="translate(510.45 192.30) scale(1 1.080)" text-anchor="middle">Vertical Encrypted of B</text><text transform="translate(510.45 325.10) scale(1 1.080)" text-anchor="middle">Pixel value on location (x,y) of B</text><text transform="translate(424.50 253.05) rotate(-90) scale(1 1.080)" text-anchor="middle">Pixel value on location (x,y+1) of B</text></g><text transform="translate(298.30 349.70) scale(0.930 1)" text-anchor="middle" font-size="16.00" fill="#000" stroke="#000" stroke-width="0.15" style="font-family:'Liberation Serif','Times New Roman',serif">(b)</text><g><g transform="translate(24.40 494.70) scale(0.147548 -0.115315)" stroke="#ff0000" stroke-opacity="1.00"><use href="#d2" transform="translate(0 999) scale(1 -1)"/></g></g><path d="M24.20 378.70V494.90H172.60" fill="none" stroke="#c0c8c8" stroke-width="0.80"/><g filter="url(#tb)" font-size="100" text-rendering="geometricPrecision" fill="#202020" stroke="#202020" stroke-width="3.00"><text transform="translate(24.40 501.30) rotate(.01) scale(0.0450 0.0550)" text-anchor="middle">0</text><text transform="translate(22.80 496.60) rotate(.01) scale(0.0450 0.0550)" text-anchor="end">0</text><text transform="translate(33.07 501.30) rotate(.01) scale(0.0450 0.0550)" text-anchor="middle">15</text><text transform="translate(22.80 489.82) rotate(.01) scale(0.0450 0.0550)" text-anchor="end">15</text><text transform="translate(41.74 501.30) rotate(.01) scale(0.0450 0.0550)" text-anchor="middle">30</text><text transform="translate(22.80 483.05) rotate(.01) scale(0.0450 0.0550)" text-anchor="end">30</text><text transform="translate(50.41 501.30) rotate(.01) scale(0.0450 0.0550)" text-anchor="middle">45</text><text transform="translate(22.80 476.27) rotate(.01) scale(0.0450 0.0550)" text-anchor="end">45</text><text transform="translate(59.08 501.30) rotate(.01) scale(0.0450 0.0550)" text-anchor="middle">60</text><text transform="translate(22.80 469.49) rotate(.01) scale(0.0450 0.0550)" text-anchor="end">60</text><text transform="translate(67.75 501.30) rotate(.01) scale(0.0450 0.0550)" text-anchor="middle">75</text><text transform="translate(22.80 462.72) rotate(.01) scale(0.0450 0.0550)" text-anchor="end">75</text><text transform="translate(76.42 501.30) rotate(.01) scale(0.0450 0.0550)" text-anchor="middle">90</text><text transform="translate(22.80 455.94) rotate(.01) scale(0.0450 0.0550)" text-anchor="end">90</text><text transform="translate(85.09 501.30) rotate(.01) scale(0.0450 0.0550)" text-anchor="middle">105</text><text transform="translate(22.80 449.16) rotate(.01) scale(0.0450 0.0550)" text-anchor="end">105</text><text transform="translate(93.76 501.30) rotate(.01) scale(0.0450 0.0550)" text-anchor="middle">120</text><text transform="translate(22.80 442.39) rotate(.01) scale(0.0450 0.0550)" text-anchor="end">120</text><text transform="translate(102.44 501.30) rotate(.01) scale(0.0450 0.0550)" text-anchor="middle">135</text><text transform="translate(22.80 435.61) rotate(.01) scale(0.0450 0.0550)" text-anchor="end">135</text><text transform="translate(111.11 501.30) rotate(.01) scale(0.0450 0.0550)" text-anchor="middle">150</text><text transform="translate(22.80 428.84) rotate(.01) scale(0.0450 0.0550)" text-anchor="end">150</text><text transform="translate(119.78 501.30) rotate(.01) scale(0.0450 0.0550)" text-anchor="middle">165</text><text transform="translate(22.80 422.06) rotate(.01) scale(0.0450 0.0550)" text-anchor="end">165</text><text transform="translate(128.45 501.30) rotate(.01) scale(0.0450 0.0550)" text-anchor="middle">180</text><text transform="translate(22.80 415.28) rotate(.01) scale(0.0450 0.0550)" text-anchor="end">180</text><text transform="translate(137.12 501.30) rotate(.01) scale(0.0450 0.0550)" text-anchor="middle">195</text><text transform="translate(22.80 408.51) rotate(.01) scale(0.0450 0.0550)" text-anchor="end">195</text><text transform="translate(145.79 501.30) rotate(.01) scale(0.0450 0.0550)" text-anchor="middle">210</text><text transform="translate(22.80 401.73) rotate(.01) scale(0.0450 0.0550)" text-anchor="end">210</text><text transform="translate(154.46 501.30) rotate(.01) scale(0.0450 0.0550)" text-anchor="middle">225</text><text transform="translate(22.80 394.95) rotate(.01) scale(0.0450 0.0550)" text-anchor="end">225</text><text transform="translate(163.13 501.30) rotate(.01) scale(0.0450 0.0550)" text-anchor="middle">240</text><text transform="translate(22.80 388.18) rotate(.01) scale(0.0450 0.0550)" text-anchor="end">240</text><text transform="translate(171.80 501.30) rotate(.01) scale(0.0450 0.0550)" text-anchor="middle">255</text><text transform="translate(22.80 381.40) rotate(.01) scale(0.0450 0.0550)" text-anchor="end">255</text></g><g font-size="6.30" fill="#222222" stroke="#222222" stroke-width="0.10"><text transform="translate(98.10 376.30) scale(1 1.080)" text-anchor="middle">Diagonal Encrypted of R</text><text transform="translate(98.10 509.20) scale(1 1.080)" text-anchor="middle">Pixel value on location (x,y) of R</text><text transform="translate(11.90 437.10) rotate(-90) scale(1 1.080)" text-anchor="middle">Pixel value on location (x+1,y+1) of R</text></g><g><g transform="translate(230.60 494.70) scale(0.147447 -0.115315)" stroke="#00ff00" stroke-opacity="1.00"><use href="#d0" transform="translate(0 999) scale(1 -1)"/></g></g><path d="M230.40 378.70V494.90H378.70" fill="none" stroke="#c0c8c8" stroke-width="0.80"/><g filter="url(#tb)" font-size="100" text-rendering="geometricPrecision" fill="#202020" stroke="#202020" stroke-width="3.00"><text transform="translate(230.60 501.30) rotate(.01) scale(0.0450 0.0550)" text-anchor="middle">0</text><text transform="translate(229.00 496.60) rotate(.01) scale(0.0450 0.0550)" text-anchor="end">0</text><text transform="translate(239.26 501.30) rotate(.01) scale(0.0450 0.0550)" text-anchor="middle">15</text><text transform="translate(229.00 489.82) rotate(.01) scale(0.0450 0.0550)" text-anchor="end">15</text><text transform="translate(247.93 501.30) rotate(.01) scale(0.0450 0.0550)" text-anchor="middle">30</text><text transform="translate(229.00 483.05) rotate(.01) scale(0.0450 0.0550)" text-anchor="end">30</text><text transform="translate(256.59 501.30) rotate(.01) scale(0.0450 0.0550)" text-anchor="middle">45</text><text transform="translate(229.00 476.27) rotate(.01) scale(0.0450 0.0550)" text-anchor="end">45</text><text transform="translate(265.26 501.30) rotate(.01) scale(0.0450 0.0550)" text-anchor="middle">60</text><text transform="translate(229.00 469.49) rotate(.01) scale(0.0450 0.0550)" text-anchor="end">60</text><text transform="translate(273.92 501.30) rotate(.01) scale(0.0450 0.0550)" text-anchor="middle">75</text><text transform="translate(229.00 462.72) rotate(.01) scale(0.0450 0.0550)" text-anchor="end">75</text><text transform="translate(282.59 501.30) rotate(.01) scale(0.0450 0.0550)" text-anchor="middle">90</text><text transform="translate(229.00 455.94) rotate(.01) scale(0.0450 0.0550)" text-anchor="end">90</text><text transform="translate(291.25 501.30) rotate(.01) scale(0.0450 0.0550)" text-anchor="middle">105</text><text transform="translate(229.00 449.16) rotate(.01) scale(0.0450 0.0550)" text-anchor="end">105</text><text transform="translate(299.92 501.30) rotate(.01) scale(0.0450 0.0550)" text-anchor="middle">120</text><text transform="translate(229.00 442.39) rotate(.01) scale(0.0450 0.0550)" text-anchor="end">120</text><text transform="translate(308.58 501.30) rotate(.01) scale(0.0450 0.0550)" text-anchor="middle">135</text><text transform="translate(229.00 435.61) rotate(.01) scale(0.0450 0.0550)" text-anchor="end">135</text><text transform="translate(317.25 501.30) rotate(.01) scale(0.0450 0.0550)" text-anchor="middle">150</text><text transform="translate(229.00 428.84) rotate(.01) scale(0.0450 0.0550)" text-anchor="end">150</text><text transform="translate(325.91 501.30) rotate(.01) scale(0.0450 0.0550)" text-anchor="middle">165</text><text transform="translate(229.00 422.06) rotate(.01) scale(0.0450 0.0550)" text-anchor="end">165</text><text transform="translate(334.58 501.30) rotate(.01) scale(0.0450 0.0550)" text-anchor="middle">180</text><text transform="translate(229.00 415.28) rotate(.01) scale(0.0450 0.0550)" text-anchor="end">180</text><text transform="translate(343.24 501.30) rotate(.01) scale(0.0450 0.0550)" text-anchor="middle">195</text><text transform="translate(229.00 408.51) rotate(.01) scale(0.0450 0.0550)" text-anchor="end">195</text><text transform="translate(351.91 501.30) rotate(.01) scale(0.0450 0.0550)" text-anchor="middle">210</text><text transform="translate(229.00 401.73) rotate(.01) scale(0.0450 0.0550)" text-anchor="end">210</text><text transform="translate(360.57 501.30) rotate(.01) scale(0.0450 0.0550)" text-anchor="middle">225</text><text transform="translate(229.00 394.95) rotate(.01) scale(0.0450 0.0550)" text-anchor="end">225</text><text transform="translate(369.24 501.30) rotate(.01) scale(0.0450 0.0550)" text-anchor="middle">240</text><text transform="translate(229.00 388.18) rotate(.01) scale(0.0450 0.0550)" text-anchor="end">240</text><text transform="translate(377.90 501.30) rotate(.01) scale(0.0450 0.0550)" text-anchor="middle">255</text><text transform="translate(229.00 381.40) rotate(.01) scale(0.0450 0.0550)" text-anchor="end">255</text></g><g font-size="6.30" fill="#222222" stroke="#222222" stroke-width="0.10"><text transform="translate(304.25 376.30) scale(1 1.080)" text-anchor="middle">Diagonal Encrypted of G</text><text transform="translate(304.25 509.20) scale(1 1.080)" text-anchor="middle">Pixel value on location (x,y) of G</text><text transform="translate(218.10 437.10) rotate(-90) scale(1 1.080)" text-anchor="middle">Pixel value on location (x+1,y+1) of G</text></g><g><g transform="translate(437.00 494.70) scale(0.147047 -0.115315)" stroke="#0000ff" stroke-opacity="1.00"><use href="#d1" transform="translate(0 999) scale(1 -1)"/></g></g><path d="M436.80 378.70V494.90H584.70" fill="none" stroke="#c0c8c8" stroke-width="0.80"/><g filter="url(#tb)" font-size="100" text-rendering="geometricPrecision" fill="#202020" stroke="#202020" stroke-width="3.00"><text transform="translate(437.00 501.30) rotate(.01) scale(0.0450 0.0550)" text-anchor="middle">0</text><text transform="translate(435.40 496.60) rotate(.01) scale(0.0450 0.0550)" text-anchor="end">0</text><text transform="translate(445.64 501.30) rotate(.01) scale(0.0450 0.0550)" text-anchor="middle">15</text><text transform="translate(435.40 489.82) rotate(.01) scale(0.0450 0.0550)" text-anchor="end">15</text><text transform="translate(454.28 501.30) rotate(.01) scale(0.0450 0.0550)" text-anchor="middle">30</text><text transform="translate(435.40 483.05) rotate(.01) scale(0.0450 0.0550)" text-anchor="end">30</text><text transform="translate(462.92 501.30) rotate(.01) scale(0.0450 0.0550)" text-anchor="middle">45</text><text transform="translate(435.40 476.27) rotate(.01) scale(0.0450 0.0550)" text-anchor="end">45</text><text transform="translate(471.56 501.30) rotate(.01) scale(0.0450 0.0550)" text-anchor="middle">60</text><text transform="translate(435.40 469.49) rotate(.01) scale(0.0450 0.0550)" text-anchor="end">60</text><text transform="translate(480.21 501.30) rotate(.01) scale(0.0450 0.0550)" text-anchor="middle">75</text><text transform="translate(435.40 462.72) rotate(.01) scale(0.0450 0.0550)" text-anchor="end">75</text><text transform="translate(488.85 501.30) rotate(.01) scale(0.0450 0.0550)" text-anchor="middle">90</text><text transform="translate(435.40 455.94) rotate(.01) scale(0.0450 0.0550)" text-anchor="end">90</text><text transform="translate(497.49 501.30) rotate(.01) scale(0.0450 0.0550)" text-anchor="middle">105</text><text transform="translate(435.40 449.16) rotate(.01) scale(0.0450 0.0550)" text-anchor="end">105</text><text transform="translate(506.13 501.30) rotate(.01) scale(0.0450 0.0550)" text-anchor="middle">120</text><text transform="translate(435.40 442.39) rotate(.01) scale(0.0450 0.0550)" text-anchor="end">120</text><text transform="translate(514.77 501.30) rotate(.01) scale(0.0450 0.0550)" text-anchor="middle">135</text><text transform="translate(435.40 435.61) rotate(.01) scale(0.0450 0.0550)" text-anchor="end">135</text><text transform="translate(523.41 501.30) rotate(.01) scale(0.0450 0.0550)" text-anchor="middle">150</text><text transform="translate(435.40 428.84) rotate(.01) scale(0.0450 0.0550)" text-anchor="end">150</text><text transform="translate(532.05 501.30) rotate(.01) scale(0.0450 0.0550)" text-anchor="middle">165</text><text transform="translate(435.40 422.06) rotate(.01) scale(0.0450 0.0550)" text-anchor="end">165</text><text transform="translate(540.69 501.30) rotate(.01) scale(0.0450 0.0550)" text-anchor="middle">180</text><text transform="translate(435.40 415.28) rotate(.01) scale(0.0450 0.0550)" text-anchor="end">180</text><text transform="translate(549.34 501.30) rotate(.01) scale(0.0450 0.0550)" text-anchor="middle">195</text><text transform="translate(435.40 408.51) rotate(.01) scale(0.0450 0.0550)" text-anchor="end">195</text><text transform="translate(557.98 501.30) rotate(.01) scale(0.0450 0.0550)" text-anchor="middle">210</text><text transform="translate(435.40 401.73) rotate(.01) scale(0.0450 0.0550)" text-anchor="end">210</text><text transform="translate(566.62 501.30) rotate(.01) scale(0.0450 0.0550)" text-anchor="middle">225</text><text transform="translate(435.40 394.95) rotate(.01) scale(0.0450 0.0550)" text-anchor="end">225</text><text transform="translate(575.26 501.30) rotate(.01) scale(0.0450 0.0550)" text-anchor="middle">240</text><text transform="translate(435.40 388.18) rotate(.01) scale(0.0450 0.0550)" text-anchor="end">240</text><text transform="translate(583.90 501.30) rotate(.01) scale(0.0450 0.0550)" text-anchor="middle">255</text><text transform="translate(435.40 381.40) rotate(.01) scale(0.0450 0.0550)" text-anchor="end">255</text></g><g font-size="6.30" fill="#222222" stroke="#222222" stroke-width="0.10"><text transform="translate(510.45 376.30) scale(1 1.080)" text-anchor="middle">Diagonal Encrypted of B</text><text transform="translate(510.45 509.20) scale(1 1.080)" text-anchor="middle">Pixel value on location (x,y) of B</text><text transform="translate(424.50 437.10) rotate(-90) scale(1 1.080)" text-anchor="middle">Pixel value on location (x+1,y+1) of B</text></g><text transform="translate(298.30 533.80) scale(0.930 1)" text-anchor="middle" font-size="16.00" fill="#000" stroke="#000" stroke-width="0.15" style="font-family:'Liberation Serif','Times New Roman',serif">(c)</text></svg></body></html>
